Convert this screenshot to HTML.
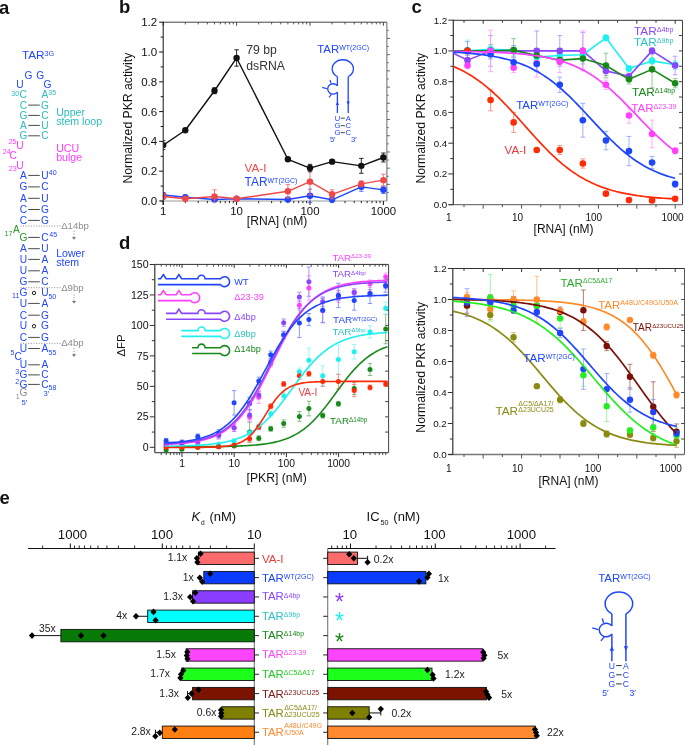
<!DOCTYPE html>
<html><head><meta charset="utf-8"><title>Figure</title>
<style>html,body{margin:0;padding:0;background:#fff;}svg{display:block;}</style></head>
<body><svg width="685" height="745" viewBox="0 0 685 745" font-family='"Liberation Sans", sans-serif'>
<rect width="685" height="745" fill="#fff"/>
<text x="-1" y="14" font-size="18.5" fill="#111" font-weight="bold">a</text>
<text x="21.9" y="59.2" font-size="11.8" fill="#2347ff">TAR<tspan font-size="7.2" dy="-3.34">3G</tspan></text>
<text x="28.5" y="78.9" font-size="10.2" fill="#2347ff" text-anchor="middle">G</text>
<text x="40.3" y="78.9" font-size="10.2" fill="#2347ff" text-anchor="middle">G</text>
<text x="19.9" y="87.7" font-size="10.2" fill="#2347ff" text-anchor="middle">U</text>
<text x="47.4" y="87.7" font-size="10.2" fill="#2347ff" text-anchor="middle">G</text>
<text x="23.2" y="98" font-size="10.2" fill="#2cbcbc" text-anchor="middle">C</text>
<text x="45" y="98" font-size="10.2" fill="#2cbcbc" text-anchor="middle">A</text>
<text x="11.2" y="95.6" font-size="7.1" fill="#2cbcbc">30</text>
<text x="48.3" y="95.2" font-size="7.1" fill="#2cbcbc">35</text>
<text x="23.4" y="108.5" font-size="10.2" fill="#2cbcbc" text-anchor="middle">C</text>
<text x="45" y="108.5" font-size="10.2" fill="#2cbcbc" text-anchor="middle">G</text>
<line x1="28.2" y1="105.1" x2="39.8" y2="105.1" stroke="#4a4a4a" stroke-width="1.0"/>
<text x="23.4" y="118.8" font-size="10.2" fill="#2cbcbc" text-anchor="middle">G</text>
<text x="45" y="118.8" font-size="10.2" fill="#2cbcbc" text-anchor="middle">C</text>
<line x1="28.2" y1="115.4" x2="39.8" y2="115.4" stroke="#4a4a4a" stroke-width="1.0"/>
<text x="23.4" y="128.8" font-size="10.2" fill="#2cbcbc" text-anchor="middle">A</text>
<text x="45" y="128.8" font-size="10.2" fill="#2cbcbc" text-anchor="middle">U</text>
<line x1="28.2" y1="125.4" x2="39.8" y2="125.4" stroke="#4a4a4a" stroke-width="1.0"/>
<text x="23.4" y="139.2" font-size="10.2" fill="#2cbcbc" text-anchor="middle">G</text>
<text x="45" y="139.2" font-size="10.2" fill="#2cbcbc" text-anchor="middle">C</text>
<line x1="28.2" y1="135.8" x2="39.8" y2="135.8" stroke="#4a4a4a" stroke-width="1.0"/>
<text x="56.2" y="115.6" font-size="10.6" fill="#2cbcbc">Upper</text>
<text x="56.2" y="124.6" font-size="10.6" fill="#2cbcbc">stem loop</text>
<text x="20" y="148.6" font-size="10.2" fill="#ff3cff" text-anchor="middle">U</text>
<text x="8.4" y="144" font-size="7.1" fill="#ff3cff">25</text>
<text x="13.3" y="158.9" font-size="10.2" fill="#ff3cff" text-anchor="middle">C</text>
<text x="2.8" y="154.3" font-size="7.1" fill="#ff3cff">24</text>
<text x="20" y="169" font-size="10.2" fill="#ff3cff" text-anchor="middle">U</text>
<text x="8.8" y="171.2" font-size="7.1" fill="#ff3cff">23</text>
<text x="56.2" y="151.9" font-size="10.6" fill="#ff3cff">UCU</text>
<text x="56.2" y="160.6" font-size="10.6" fill="#ff3cff">bulge</text>
<text x="23.4" y="178.8" font-size="10.2" fill="#2347ff" text-anchor="middle">A</text>
<text x="45" y="178.8" font-size="10.2" fill="#2347ff" text-anchor="middle">U</text>
<line x1="28.2" y1="175.4" x2="39.8" y2="175.4" stroke="#4a4a4a" stroke-width="1.0"/>
<text x="23.4" y="190.3" font-size="10.2" fill="#2347ff" text-anchor="middle">G</text>
<text x="45" y="190.3" font-size="10.2" fill="#2347ff" text-anchor="middle">C</text>
<line x1="28.2" y1="186.9" x2="39.8" y2="186.9" stroke="#4a4a4a" stroke-width="1.0"/>
<text x="23.4" y="201.7" font-size="10.2" fill="#2347ff" text-anchor="middle">A</text>
<text x="45" y="201.7" font-size="10.2" fill="#2347ff" text-anchor="middle">U</text>
<line x1="28.2" y1="198.3" x2="39.8" y2="198.3" stroke="#4a4a4a" stroke-width="1.0"/>
<text x="23.4" y="212.9" font-size="10.2" fill="#2347ff" text-anchor="middle">C</text>
<text x="45" y="212.9" font-size="10.2" fill="#2347ff" text-anchor="middle">G</text>
<line x1="28.2" y1="209.5" x2="39.8" y2="209.5" stroke="#4a4a4a" stroke-width="1.0"/>
<text x="23.4" y="223.8" font-size="10.2" fill="#2347ff" text-anchor="middle">C</text>
<text x="45" y="223.8" font-size="10.2" fill="#2347ff" text-anchor="middle">G</text>
<line x1="28.2" y1="220.4" x2="39.8" y2="220.4" stroke="#4a4a4a" stroke-width="1.0"/>
<text x="48.8" y="174.8" font-size="7.1" fill="#2347ff">40</text>
<line x1="20.4" y1="226" x2="61" y2="226" stroke="#777" stroke-width="0.8" stroke-dasharray="1.1 1.5"/>
<text x="61.2" y="229.4" font-size="9.6" fill="#8a8a8a">Δ14bp</text>
<line x1="74" y1="231" x2="74" y2="238.5" stroke="#777" stroke-width="0.8" stroke-dasharray="1.1 1.5"/>
<path d="M71.9,237.2 L74,239.8 L76.1,237.2 Z" fill="#777"/>
<text x="16.4" y="232.8" font-size="10.2" fill="#2a9a28" text-anchor="middle">A</text>
<text x="4.6" y="236.3" font-size="7.1" fill="#2a9a28">17</text>
<text x="23.4" y="240.8" font-size="10.2" fill="#2a9a28" text-anchor="middle">G</text>
<text x="45" y="240.8" font-size="10.2" fill="#2347ff" text-anchor="middle">C</text>
<line x1="28.2" y1="237.4" x2="39.8" y2="237.4" stroke="#4a4a4a" stroke-width="1.0"/>
<text x="49.2" y="237.2" font-size="7.1" fill="#2347ff">45</text>
<text x="23.4" y="252.1" font-size="10.2" fill="#2347ff" text-anchor="middle">A</text>
<text x="45" y="252.1" font-size="10.2" fill="#2347ff" text-anchor="middle">U</text>
<line x1="28.2" y1="248.7" x2="39.8" y2="248.7" stroke="#4a4a4a" stroke-width="1.0"/>
<text x="23.4" y="262.8" font-size="10.2" fill="#2347ff" text-anchor="middle">U</text>
<text x="45" y="262.8" font-size="10.2" fill="#2347ff" text-anchor="middle">A</text>
<line x1="28.2" y1="259.4" x2="39.8" y2="259.4" stroke="#4a4a4a" stroke-width="1.0"/>
<text x="23.4" y="274.2" font-size="10.2" fill="#2347ff" text-anchor="middle">U</text>
<text x="45" y="274.2" font-size="10.2" fill="#2347ff" text-anchor="middle">A</text>
<line x1="28.2" y1="270.8" x2="39.8" y2="270.8" stroke="#4a4a4a" stroke-width="1.0"/>
<text x="23.4" y="285.2" font-size="10.2" fill="#2347ff" text-anchor="middle">G</text>
<text x="45" y="285.2" font-size="10.2" fill="#2347ff" text-anchor="middle">C</text>
<line x1="28.2" y1="281.8" x2="39.8" y2="281.8" stroke="#4a4a4a" stroke-width="1.0"/>
<text x="56.2" y="257.2" font-size="10.6" fill="#2347ff">Lower</text>
<text x="56.2" y="265.8" font-size="10.6" fill="#2347ff">stem</text>
<line x1="20.4" y1="287.7" x2="61" y2="287.7" stroke="#777" stroke-width="0.8" stroke-dasharray="1.1 1.5"/>
<text x="61.2" y="291" font-size="9.6" fill="#8a8a8a">Δ9bp</text>
<line x1="74" y1="294.5" x2="74" y2="302.4" stroke="#777" stroke-width="0.8" stroke-dasharray="1.1 1.5"/>
<path d="M71.9,301.0 L74,303.6 L76.1,301.0 Z" fill="#777"/>
<text x="23.4" y="296.2" font-size="10.2" fill="#2347ff" text-anchor="middle">G</text>
<text x="45" y="296.2" font-size="10.2" fill="#2347ff" text-anchor="middle">U</text>
<circle cx="34" cy="293" r="1.7" fill="none" stroke="#222" stroke-width="1.0"/>
<text x="12" y="298" font-size="7.1" fill="#2347ff">11</text>
<text x="48.4" y="298.6" font-size="7.1" fill="#2347ff">50</text>
<text x="23.4" y="306.8" font-size="10.2" fill="#2347ff" text-anchor="middle">U</text>
<text x="45" y="306.8" font-size="10.2" fill="#2347ff" text-anchor="middle">A</text>
<line x1="28.2" y1="303.4" x2="39.8" y2="303.4" stroke="#4a4a4a" stroke-width="1.0"/>
<text x="23.4" y="318.6" font-size="10.2" fill="#2347ff" text-anchor="middle">C</text>
<text x="45" y="318.6" font-size="10.2" fill="#2347ff" text-anchor="middle">G</text>
<line x1="28.2" y1="315.2" x2="39.8" y2="315.2" stroke="#4a4a4a" stroke-width="1.0"/>
<text x="23.4" y="329.4" font-size="10.2" fill="#2347ff" text-anchor="middle">U</text>
<text x="45" y="329.4" font-size="10.2" fill="#2347ff" text-anchor="middle">G</text>
<circle cx="34" cy="326.2" r="1.7" fill="none" stroke="#222" stroke-width="1.0"/>
<text x="23.4" y="340.8" font-size="10.2" fill="#2347ff" text-anchor="middle">C</text>
<text x="45" y="340.8" font-size="10.2" fill="#2347ff" text-anchor="middle">G</text>
<line x1="28.2" y1="337.4" x2="39.8" y2="337.4" stroke="#4a4a4a" stroke-width="1.0"/>
<line x1="20.4" y1="343.3" x2="61" y2="343.3" stroke="#777" stroke-width="0.8" stroke-dasharray="1.1 1.5"/>
<text x="61.2" y="346.4" font-size="9.6" fill="#8a8a8a">Δ4bp</text>
<line x1="74" y1="348.2" x2="74" y2="355.6" stroke="#777" stroke-width="0.8" stroke-dasharray="1.1 1.5"/>
<path d="M71.9,354.3 L74,356.9 L76.1,354.3 Z" fill="#777"/>
<text x="23.4" y="351.9" font-size="10.2" fill="#2347ff" text-anchor="middle">U</text>
<text x="45" y="351.9" font-size="10.2" fill="#2347ff" text-anchor="middle">A</text>
<line x1="28.2" y1="348.5" x2="39.8" y2="348.5" stroke="#4a4a4a" stroke-width="1.0"/>
<text x="48.6" y="355.4" font-size="7.1" fill="#2347ff">55</text>
<text x="18.2" y="359.9" font-size="10.2" fill="#2347ff" text-anchor="middle">C</text>
<text x="10.4" y="355" font-size="7.1" fill="#2347ff">5</text>
<text x="23.4" y="368.2" font-size="10.2" fill="#2347ff" text-anchor="middle">U</text>
<text x="45" y="368.2" font-size="10.2" fill="#2347ff" text-anchor="middle">A</text>
<line x1="28.2" y1="364.8" x2="39.8" y2="364.8" stroke="#4a4a4a" stroke-width="1.0"/>
<text x="23.4" y="378.3" font-size="10.2" fill="#2347ff" text-anchor="middle">G</text>
<text x="45" y="378.3" font-size="10.2" fill="#2347ff" text-anchor="middle">C</text>
<line x1="28.2" y1="374.9" x2="39.8" y2="374.9" stroke="#4a4a4a" stroke-width="1.0"/>
<text x="23.4" y="387.8" font-size="10.2" fill="#2347ff" text-anchor="middle">G</text>
<text x="45" y="387.8" font-size="10.2" fill="#2347ff" text-anchor="middle">C</text>
<line x1="28.2" y1="384.4" x2="39.8" y2="384.4" stroke="#4a4a4a" stroke-width="1.0"/>
<text x="15.2" y="374" font-size="7.1" fill="#2347ff">3</text>
<text x="15.2" y="383.6" font-size="7.1" fill="#2347ff">2</text>
<text x="48.6" y="389.6" font-size="7.1" fill="#2347ff">58</text>
<text x="23.4" y="396" font-size="10.2" fill="#8a8a8a" text-anchor="middle">G</text>
<text x="15.8" y="399.4" font-size="7.1" fill="#8a8a8a">1</text>
<text x="43.6" y="396" font-size="7.6" fill="#2347ff">3′</text>
<text x="21.5" y="404.6" font-size="7.6" fill="#2347ff">5′</text>
<text x="119" y="13" font-size="18.5" fill="#111" font-weight="bold">b</text>
<line x1="163.2" y1="22.2" x2="386.9" y2="22.2" stroke="#444" stroke-width="1"/>
<line x1="386.9" y1="22.2" x2="386.9" y2="201" stroke="#666" stroke-width="1"/>
<line x1="160" y1="201" x2="386.9" y2="201" stroke="#999" stroke-width="1.2"/>
<line x1="159.2" y1="201" x2="163.2" y2="201" stroke="#111" stroke-width="1"/>
<text x="157.2" y="204.9" font-size="11.5" fill="#111" text-anchor="end">0.0</text>
<line x1="160.7" y1="186.1" x2="163.2" y2="186.1" stroke="#111" stroke-width="1"/>
<line x1="159.2" y1="171.2" x2="163.2" y2="171.2" stroke="#111" stroke-width="1"/>
<text x="157.2" y="175.1" font-size="11.5" fill="#111" text-anchor="end">0.2</text>
<line x1="160.7" y1="156.3" x2="163.2" y2="156.3" stroke="#111" stroke-width="1"/>
<line x1="159.2" y1="141.4" x2="163.2" y2="141.4" stroke="#111" stroke-width="1"/>
<text x="157.2" y="145.3" font-size="11.5" fill="#111" text-anchor="end">0.4</text>
<line x1="160.7" y1="126.5" x2="163.2" y2="126.5" stroke="#111" stroke-width="1"/>
<line x1="159.2" y1="111.6" x2="163.2" y2="111.6" stroke="#111" stroke-width="1"/>
<text x="157.2" y="115.5" font-size="11.5" fill="#111" text-anchor="end">0.6</text>
<line x1="160.7" y1="96.7" x2="163.2" y2="96.7" stroke="#111" stroke-width="1"/>
<line x1="159.2" y1="81.8" x2="163.2" y2="81.8" stroke="#111" stroke-width="1"/>
<text x="157.2" y="85.7" font-size="11.5" fill="#111" text-anchor="end">0.8</text>
<line x1="160.7" y1="66.9" x2="163.2" y2="66.9" stroke="#111" stroke-width="1"/>
<line x1="159.2" y1="52" x2="163.2" y2="52" stroke="#111" stroke-width="1"/>
<text x="157.2" y="55.9" font-size="11.5" fill="#111" text-anchor="end">1.0</text>
<line x1="160.7" y1="37.1" x2="163.2" y2="37.1" stroke="#111" stroke-width="1"/>
<line x1="159.2" y1="22.2" x2="163.2" y2="22.2" stroke="#111" stroke-width="1"/>
<text x="157.2" y="26.1" font-size="11.5" fill="#111" text-anchor="end">1.2</text>
<line x1="163.2" y1="201" x2="163.2" y2="205" stroke="#111" stroke-width="1"/>
<line x1="163.2" y1="22.2" x2="163.2" y2="25.7" stroke="#444" stroke-width="1"/>
<line x1="185.3" y1="201" x2="185.3" y2="203.2" stroke="#111" stroke-width="0.9"/>
<line x1="185.3" y1="22.2" x2="185.3" y2="24.4" stroke="#444" stroke-width="0.9"/>
<line x1="198.22" y1="201" x2="198.22" y2="203.2" stroke="#111" stroke-width="0.9"/>
<line x1="198.22" y1="22.2" x2="198.22" y2="24.4" stroke="#444" stroke-width="0.9"/>
<line x1="207.39" y1="201" x2="207.39" y2="203.2" stroke="#111" stroke-width="0.9"/>
<line x1="207.39" y1="22.2" x2="207.39" y2="24.4" stroke="#444" stroke-width="0.9"/>
<line x1="214.5" y1="201" x2="214.5" y2="203.2" stroke="#111" stroke-width="0.9"/>
<line x1="214.5" y1="22.2" x2="214.5" y2="24.4" stroke="#444" stroke-width="0.9"/>
<line x1="220.32" y1="201" x2="220.32" y2="203.2" stroke="#111" stroke-width="0.9"/>
<line x1="220.32" y1="22.2" x2="220.32" y2="24.4" stroke="#444" stroke-width="0.9"/>
<line x1="225.23" y1="201" x2="225.23" y2="203.2" stroke="#111" stroke-width="0.9"/>
<line x1="225.23" y1="22.2" x2="225.23" y2="24.4" stroke="#444" stroke-width="0.9"/>
<line x1="229.49" y1="201" x2="229.49" y2="203.2" stroke="#111" stroke-width="0.9"/>
<line x1="229.49" y1="22.2" x2="229.49" y2="24.4" stroke="#444" stroke-width="0.9"/>
<line x1="233.24" y1="201" x2="233.24" y2="203.2" stroke="#111" stroke-width="0.9"/>
<line x1="233.24" y1="22.2" x2="233.24" y2="24.4" stroke="#444" stroke-width="0.9"/>
<line x1="236.6" y1="201" x2="236.6" y2="205" stroke="#111" stroke-width="1"/>
<line x1="236.6" y1="22.2" x2="236.6" y2="25.7" stroke="#444" stroke-width="1"/>
<line x1="258.7" y1="201" x2="258.7" y2="203.2" stroke="#111" stroke-width="0.9"/>
<line x1="258.7" y1="22.2" x2="258.7" y2="24.4" stroke="#444" stroke-width="0.9"/>
<line x1="271.62" y1="201" x2="271.62" y2="203.2" stroke="#111" stroke-width="0.9"/>
<line x1="271.62" y1="22.2" x2="271.62" y2="24.4" stroke="#444" stroke-width="0.9"/>
<line x1="280.79" y1="201" x2="280.79" y2="203.2" stroke="#111" stroke-width="0.9"/>
<line x1="280.79" y1="22.2" x2="280.79" y2="24.4" stroke="#444" stroke-width="0.9"/>
<line x1="287.9" y1="201" x2="287.9" y2="203.2" stroke="#111" stroke-width="0.9"/>
<line x1="287.9" y1="22.2" x2="287.9" y2="24.4" stroke="#444" stroke-width="0.9"/>
<line x1="293.72" y1="201" x2="293.72" y2="203.2" stroke="#111" stroke-width="0.9"/>
<line x1="293.72" y1="22.2" x2="293.72" y2="24.4" stroke="#444" stroke-width="0.9"/>
<line x1="298.63" y1="201" x2="298.63" y2="203.2" stroke="#111" stroke-width="0.9"/>
<line x1="298.63" y1="22.2" x2="298.63" y2="24.4" stroke="#444" stroke-width="0.9"/>
<line x1="302.89" y1="201" x2="302.89" y2="203.2" stroke="#111" stroke-width="0.9"/>
<line x1="302.89" y1="22.2" x2="302.89" y2="24.4" stroke="#444" stroke-width="0.9"/>
<line x1="306.64" y1="201" x2="306.64" y2="203.2" stroke="#111" stroke-width="0.9"/>
<line x1="306.64" y1="22.2" x2="306.64" y2="24.4" stroke="#444" stroke-width="0.9"/>
<line x1="310" y1="201" x2="310" y2="205" stroke="#111" stroke-width="1"/>
<line x1="310" y1="22.2" x2="310" y2="25.7" stroke="#444" stroke-width="1"/>
<line x1="332.1" y1="201" x2="332.1" y2="203.2" stroke="#111" stroke-width="0.9"/>
<line x1="332.1" y1="22.2" x2="332.1" y2="24.4" stroke="#444" stroke-width="0.9"/>
<line x1="345.02" y1="201" x2="345.02" y2="203.2" stroke="#111" stroke-width="0.9"/>
<line x1="345.02" y1="22.2" x2="345.02" y2="24.4" stroke="#444" stroke-width="0.9"/>
<line x1="354.19" y1="201" x2="354.19" y2="203.2" stroke="#111" stroke-width="0.9"/>
<line x1="354.19" y1="22.2" x2="354.19" y2="24.4" stroke="#444" stroke-width="0.9"/>
<line x1="361.3" y1="201" x2="361.3" y2="203.2" stroke="#111" stroke-width="0.9"/>
<line x1="361.3" y1="22.2" x2="361.3" y2="24.4" stroke="#444" stroke-width="0.9"/>
<line x1="367.12" y1="201" x2="367.12" y2="203.2" stroke="#111" stroke-width="0.9"/>
<line x1="367.12" y1="22.2" x2="367.12" y2="24.4" stroke="#444" stroke-width="0.9"/>
<line x1="372.03" y1="201" x2="372.03" y2="203.2" stroke="#111" stroke-width="0.9"/>
<line x1="372.03" y1="22.2" x2="372.03" y2="24.4" stroke="#444" stroke-width="0.9"/>
<line x1="376.29" y1="201" x2="376.29" y2="203.2" stroke="#111" stroke-width="0.9"/>
<line x1="376.29" y1="22.2" x2="376.29" y2="24.4" stroke="#444" stroke-width="0.9"/>
<line x1="380.04" y1="201" x2="380.04" y2="203.2" stroke="#111" stroke-width="0.9"/>
<line x1="380.04" y1="22.2" x2="380.04" y2="24.4" stroke="#444" stroke-width="0.9"/>
<line x1="383.4" y1="201" x2="383.4" y2="205" stroke="#111" stroke-width="1"/>
<line x1="383.4" y1="22.2" x2="383.4" y2="25.7" stroke="#444" stroke-width="1"/>
<text x="163.2" y="215" font-size="11.4" fill="#111" text-anchor="middle">1</text>
<text x="236.6" y="215" font-size="11.4" fill="#111" text-anchor="middle">10</text>
<text x="310" y="215" font-size="11.4" fill="#111" text-anchor="middle">100</text>
<text x="383.4" y="215" font-size="11.4" fill="#111" text-anchor="middle">1000</text>
<line x1="386.9" y1="30.31" x2="388.7" y2="30.31" stroke="#666" stroke-width="1"/>
<line x1="386.9" y1="38.42" x2="389.9" y2="38.42" stroke="#666" stroke-width="1"/>
<line x1="386.9" y1="46.53" x2="388.7" y2="46.53" stroke="#666" stroke-width="1"/>
<line x1="386.9" y1="54.64" x2="389.9" y2="54.64" stroke="#666" stroke-width="1"/>
<line x1="386.9" y1="62.75" x2="388.7" y2="62.75" stroke="#666" stroke-width="1"/>
<line x1="386.9" y1="70.86" x2="389.9" y2="70.86" stroke="#666" stroke-width="1"/>
<line x1="386.9" y1="78.97" x2="388.7" y2="78.97" stroke="#666" stroke-width="1"/>
<line x1="386.9" y1="87.08" x2="389.9" y2="87.08" stroke="#666" stroke-width="1"/>
<line x1="386.9" y1="95.19" x2="388.7" y2="95.19" stroke="#666" stroke-width="1"/>
<line x1="386.9" y1="103.3" x2="389.9" y2="103.3" stroke="#666" stroke-width="1"/>
<line x1="386.9" y1="111.41" x2="388.7" y2="111.41" stroke="#666" stroke-width="1"/>
<line x1="386.9" y1="119.52" x2="389.9" y2="119.52" stroke="#666" stroke-width="1"/>
<line x1="386.9" y1="127.63" x2="388.7" y2="127.63" stroke="#666" stroke-width="1"/>
<line x1="386.9" y1="135.74" x2="389.9" y2="135.74" stroke="#666" stroke-width="1"/>
<line x1="386.9" y1="143.85" x2="388.7" y2="143.85" stroke="#666" stroke-width="1"/>
<line x1="386.9" y1="151.96" x2="389.9" y2="151.96" stroke="#666" stroke-width="1"/>
<line x1="386.9" y1="160.07" x2="388.7" y2="160.07" stroke="#666" stroke-width="1"/>
<line x1="386.9" y1="168.18" x2="389.9" y2="168.18" stroke="#666" stroke-width="1"/>
<line x1="386.9" y1="176.29" x2="388.7" y2="176.29" stroke="#666" stroke-width="1"/>
<line x1="386.9" y1="184.4" x2="389.9" y2="184.4" stroke="#666" stroke-width="1"/>
<line x1="386.9" y1="192.51" x2="388.7" y2="192.51" stroke="#666" stroke-width="1"/>
<text x="277.1" y="225.2" font-size="12.1" fill="#111" text-anchor="middle">[RNA] (nM)</text>
<text x="132" y="118.1" font-size="12.2" fill="#111" text-anchor="middle" transform="rotate(-90 132 118.1)">Normalized PKR activity</text>
<clipPath id="cb"><rect x="163.6" y="0" width="224" height="203"/></clipPath><g clip-path="url(#cb)">
<line x1="163.2" y1="193.55" x2="163.2" y2="196.53" stroke="#4a6aff" stroke-width="0.9"/>
<line x1="161" y1="193.55" x2="165.4" y2="193.55" stroke="#4a6aff" stroke-width="0.9"/>
<line x1="161" y1="196.53" x2="165.4" y2="196.53" stroke="#4a6aff" stroke-width="0.9"/>
<line x1="185.3" y1="195.78" x2="185.3" y2="198.76" stroke="#4a6aff" stroke-width="0.9"/>
<line x1="183.1" y1="195.78" x2="187.5" y2="195.78" stroke="#4a6aff" stroke-width="0.9"/>
<line x1="183.1" y1="198.76" x2="187.5" y2="198.76" stroke="#4a6aff" stroke-width="0.9"/>
<line x1="214.5" y1="198.02" x2="214.5" y2="201" stroke="#4a6aff" stroke-width="0.9"/>
<line x1="212.3" y1="198.02" x2="216.7" y2="198.02" stroke="#4a6aff" stroke-width="0.9"/>
<line x1="212.3" y1="201" x2="216.7" y2="201" stroke="#4a6aff" stroke-width="0.9"/>
<line x1="236.6" y1="198.02" x2="236.6" y2="199.51" stroke="#4a6aff" stroke-width="0.9"/>
<line x1="234.4" y1="198.02" x2="238.8" y2="198.02" stroke="#4a6aff" stroke-width="0.9"/>
<line x1="234.4" y1="199.51" x2="238.8" y2="199.51" stroke="#4a6aff" stroke-width="0.9"/>
<line x1="287.9" y1="198.02" x2="287.9" y2="201" stroke="#4a6aff" stroke-width="0.9"/>
<line x1="285.7" y1="198.02" x2="290.1" y2="198.02" stroke="#4a6aff" stroke-width="0.9"/>
<line x1="285.7" y1="201" x2="290.1" y2="201" stroke="#4a6aff" stroke-width="0.9"/>
<line x1="310" y1="189.08" x2="310" y2="202.49" stroke="#4a6aff" stroke-width="0.9"/>
<line x1="307.8" y1="189.08" x2="312.2" y2="189.08" stroke="#4a6aff" stroke-width="0.9"/>
<line x1="307.8" y1="202.49" x2="312.2" y2="202.49" stroke="#4a6aff" stroke-width="0.9"/>
<line x1="332.1" y1="198.91" x2="332.1" y2="200.7" stroke="#4a6aff" stroke-width="0.9"/>
<line x1="329.9" y1="198.91" x2="334.3" y2="198.91" stroke="#4a6aff" stroke-width="0.9"/>
<line x1="329.9" y1="200.7" x2="334.3" y2="200.7" stroke="#4a6aff" stroke-width="0.9"/>
<line x1="361.3" y1="182.38" x2="361.3" y2="191.31" stroke="#4a6aff" stroke-width="0.9"/>
<line x1="359.1" y1="182.38" x2="363.5" y2="182.38" stroke="#4a6aff" stroke-width="0.9"/>
<line x1="359.1" y1="191.31" x2="363.5" y2="191.31" stroke="#4a6aff" stroke-width="0.9"/>
<line x1="383.4" y1="186.1" x2="383.4" y2="193.55" stroke="#4a6aff" stroke-width="0.9"/>
<line x1="381.2" y1="186.1" x2="385.6" y2="186.1" stroke="#4a6aff" stroke-width="0.9"/>
<line x1="381.2" y1="193.55" x2="385.6" y2="193.55" stroke="#4a6aff" stroke-width="0.9"/>
<polyline points="163.2,195.04 185.3,197.28 214.5,199.51 236.6,198.76 287.9,199.51 310,195.78 332.1,199.81 361.3,186.84 383.4,189.82" fill="none" stroke="#1f45ff" stroke-width="1.4" stroke-linejoin="round"/>
<circle cx="163.2" cy="195.04" r="3.2" fill="#1f45ff"/>
<circle cx="185.3" cy="197.28" r="3.2" fill="#1f45ff"/>
<circle cx="214.5" cy="199.51" r="3.2" fill="#1f45ff"/>
<circle cx="236.6" cy="198.76" r="3.2" fill="#1f45ff"/>
<circle cx="287.9" cy="199.51" r="3.2" fill="#1f45ff"/>
<circle cx="310" cy="195.78" r="3.2" fill="#1f45ff"/>
<circle cx="332.1" cy="199.81" r="3.2" fill="#1f45ff"/>
<circle cx="361.3" cy="186.84" r="3.2" fill="#1f45ff"/>
<circle cx="383.4" cy="189.82" r="3.2" fill="#1f45ff"/>
<line x1="163.2" y1="193.55" x2="163.2" y2="199.51" stroke="#f46a6a" stroke-width="0.9"/>
<line x1="161" y1="193.55" x2="165.4" y2="193.55" stroke="#f46a6a" stroke-width="0.9"/>
<line x1="161" y1="199.51" x2="165.4" y2="199.51" stroke="#f46a6a" stroke-width="0.9"/>
<line x1="185.3" y1="197.28" x2="185.3" y2="200.25" stroke="#f46a6a" stroke-width="0.9"/>
<line x1="183.1" y1="197.28" x2="187.5" y2="197.28" stroke="#f46a6a" stroke-width="0.9"/>
<line x1="183.1" y1="200.25" x2="187.5" y2="200.25" stroke="#f46a6a" stroke-width="0.9"/>
<line x1="214.5" y1="189.82" x2="214.5" y2="203.24" stroke="#f46a6a" stroke-width="0.9"/>
<line x1="212.3" y1="189.82" x2="216.7" y2="189.82" stroke="#f46a6a" stroke-width="0.9"/>
<line x1="212.3" y1="203.24" x2="216.7" y2="203.24" stroke="#f46a6a" stroke-width="0.9"/>
<line x1="236.6" y1="197.28" x2="236.6" y2="200.25" stroke="#f46a6a" stroke-width="0.9"/>
<line x1="234.4" y1="197.28" x2="238.8" y2="197.28" stroke="#f46a6a" stroke-width="0.9"/>
<line x1="234.4" y1="200.25" x2="238.8" y2="200.25" stroke="#f46a6a" stroke-width="0.9"/>
<line x1="287.9" y1="184.61" x2="287.9" y2="198.02" stroke="#f46a6a" stroke-width="0.9"/>
<line x1="285.7" y1="184.61" x2="290.1" y2="184.61" stroke="#f46a6a" stroke-width="0.9"/>
<line x1="285.7" y1="198.02" x2="290.1" y2="198.02" stroke="#f46a6a" stroke-width="0.9"/>
<line x1="310" y1="168.22" x2="310" y2="195.04" stroke="#f46a6a" stroke-width="0.9"/>
<line x1="307.8" y1="168.22" x2="312.2" y2="168.22" stroke="#f46a6a" stroke-width="0.9"/>
<line x1="307.8" y1="195.04" x2="312.2" y2="195.04" stroke="#f46a6a" stroke-width="0.9"/>
<line x1="332.1" y1="189.82" x2="332.1" y2="198.76" stroke="#f46a6a" stroke-width="0.9"/>
<line x1="329.9" y1="189.82" x2="334.3" y2="189.82" stroke="#f46a6a" stroke-width="0.9"/>
<line x1="329.9" y1="198.76" x2="334.3" y2="198.76" stroke="#f46a6a" stroke-width="0.9"/>
<line x1="361.3" y1="180.88" x2="361.3" y2="186.84" stroke="#f46a6a" stroke-width="0.9"/>
<line x1="359.1" y1="180.88" x2="363.5" y2="180.88" stroke="#f46a6a" stroke-width="0.9"/>
<line x1="359.1" y1="186.84" x2="363.5" y2="186.84" stroke="#f46a6a" stroke-width="0.9"/>
<line x1="383.4" y1="174.18" x2="383.4" y2="186.1" stroke="#f46a6a" stroke-width="0.9"/>
<line x1="381.2" y1="174.18" x2="385.6" y2="174.18" stroke="#f46a6a" stroke-width="0.9"/>
<line x1="381.2" y1="186.1" x2="385.6" y2="186.1" stroke="#f46a6a" stroke-width="0.9"/>
<polyline points="163.2,196.53 185.3,198.76 214.5,196.53 236.6,198.76 287.9,191.31 310,181.63 332.1,194.29 361.3,183.87 383.4,180.14" fill="none" stroke="#f04848" stroke-width="1.4" stroke-linejoin="round"/>
<circle cx="163.2" cy="196.53" r="3.2" fill="#f04848"/>
<circle cx="185.3" cy="198.76" r="3.2" fill="#f04848"/>
<circle cx="214.5" cy="196.53" r="3.2" fill="#f04848"/>
<circle cx="236.6" cy="198.76" r="3.2" fill="#f04848"/>
<circle cx="287.9" cy="191.31" r="3.2" fill="#f04848"/>
<circle cx="310" cy="181.63" r="3.2" fill="#f04848"/>
<circle cx="332.1" cy="194.29" r="3.2" fill="#f04848"/>
<circle cx="361.3" cy="183.87" r="3.2" fill="#f04848"/>
<circle cx="383.4" cy="180.14" r="3.2" fill="#f04848"/>
<line x1="163.2" y1="140.66" x2="163.2" y2="149.59" stroke="#111" stroke-width="0.9"/>
<line x1="161" y1="140.66" x2="165.4" y2="140.66" stroke="#111" stroke-width="0.9"/>
<line x1="161" y1="149.59" x2="165.4" y2="149.59" stroke="#111" stroke-width="0.9"/>
<line x1="214.5" y1="87.76" x2="214.5" y2="93.72" stroke="#111" stroke-width="0.9"/>
<line x1="212.3" y1="87.76" x2="216.7" y2="87.76" stroke="#111" stroke-width="0.9"/>
<line x1="212.3" y1="93.72" x2="216.7" y2="93.72" stroke="#111" stroke-width="0.9"/>
<line x1="236.6" y1="49.77" x2="236.6" y2="66.16" stroke="#111" stroke-width="0.9"/>
<line x1="234.4" y1="49.77" x2="238.8" y2="49.77" stroke="#111" stroke-width="0.9"/>
<line x1="234.4" y1="66.16" x2="238.8" y2="66.16" stroke="#111" stroke-width="0.9"/>
<line x1="287.9" y1="157.49" x2="287.9" y2="161.07" stroke="#111" stroke-width="0.9"/>
<line x1="285.7" y1="157.49" x2="290.1" y2="157.49" stroke="#111" stroke-width="0.9"/>
<line x1="285.7" y1="161.07" x2="290.1" y2="161.07" stroke="#111" stroke-width="0.9"/>
<line x1="310" y1="164.35" x2="310" y2="171.8" stroke="#111" stroke-width="0.9"/>
<line x1="307.8" y1="164.35" x2="312.2" y2="164.35" stroke="#111" stroke-width="0.9"/>
<line x1="307.8" y1="171.8" x2="312.2" y2="171.8" stroke="#111" stroke-width="0.9"/>
<line x1="332.1" y1="159.88" x2="332.1" y2="163.45" stroke="#111" stroke-width="0.9"/>
<line x1="329.9" y1="159.88" x2="334.3" y2="159.88" stroke="#111" stroke-width="0.9"/>
<line x1="329.9" y1="163.45" x2="334.3" y2="163.45" stroke="#111" stroke-width="0.9"/>
<line x1="361.3" y1="158.39" x2="361.3" y2="173.29" stroke="#111" stroke-width="0.9"/>
<line x1="359.1" y1="158.39" x2="363.5" y2="158.39" stroke="#111" stroke-width="0.9"/>
<line x1="359.1" y1="173.29" x2="363.5" y2="173.29" stroke="#111" stroke-width="0.9"/>
<line x1="383.4" y1="153.02" x2="383.4" y2="161.96" stroke="#111" stroke-width="0.9"/>
<line x1="381.2" y1="153.02" x2="385.6" y2="153.02" stroke="#111" stroke-width="0.9"/>
<line x1="381.2" y1="161.96" x2="385.6" y2="161.96" stroke="#111" stroke-width="0.9"/>
<polyline points="163.2,145.12 185.3,130.23 214.5,90.74 236.6,57.96 287.9,159.28 310,168.07 332.1,161.66 361.3,165.84 383.4,157.49" fill="none" stroke="#111" stroke-width="1.4" stroke-linejoin="round"/>
<circle cx="163.2" cy="145.12" r="3.2" fill="#111"/>
<circle cx="185.3" cy="130.23" r="3.2" fill="#111"/>
<circle cx="214.5" cy="90.74" r="3.2" fill="#111"/>
<circle cx="236.6" cy="57.96" r="3.2" fill="#111"/>
<circle cx="287.9" cy="159.28" r="3.2" fill="#111"/>
<circle cx="310" cy="168.07" r="3.2" fill="#111"/>
<circle cx="332.1" cy="161.66" r="3.2" fill="#111"/>
<circle cx="361.3" cy="165.84" r="3.2" fill="#111"/>
<circle cx="383.4" cy="157.49" r="3.2" fill="#111"/>
</g>
<line x1="163.2" y1="21.7" x2="163.2" y2="205" stroke="#111" stroke-width="1.0"/>
<text x="246.3" y="53.6" font-size="12.2" fill="#333">79 bp</text>
<text x="246.3" y="69.8" font-size="12.2" fill="#333">dsRNA</text>
<text x="244.6" y="172.2" font-size="11.7" fill="#f04848">VA-I</text>
<text x="244.6" y="185.7" font-size="11.9" fill="#1f45ff">TAR<tspan font-size="7.0" dy="-2.69">WT(2GC)</tspan></text>
<text x="317.2" y="53" font-size="11.4" fill="#1f45ff">TAR<tspan font-size="7.0" dy="-2.79">WT(2GC)</tspan></text>
<path d="M337.4,76.5 A10.6,9 0 1 1 348.2,76.5" fill="none" stroke="#1f45ff" stroke-width="1.3"/>
<line x1="337.4" y1="76.5" x2="337.4" y2="85.8" stroke="#1f45ff" stroke-width="1.3"/>
<path d="M337.4,85.8 A5.4,5.2 0 1 0 337.4,92.1" fill="none" stroke="#1f45ff" stroke-width="1.3"/>
<line x1="337.4" y1="92.1" x2="337.4" y2="113" stroke="#1f45ff" stroke-width="1.3"/>
<line x1="348.2" y1="76.5" x2="348.2" y2="113" stroke="#1f45ff" stroke-width="1.3"/>
<line x1="330" y1="80" x2="331" y2="83.4" stroke="#1f45ff" stroke-width="1.1700000000000002"/>
<line x1="322.3" y1="87.4" x2="327" y2="88.7" stroke="#1f45ff" stroke-width="1.1700000000000002"/>
<line x1="329" y1="97.4" x2="331.5" y2="94.2" stroke="#1f45ff" stroke-width="1.1700000000000002"/>
<path d="M337.4,101.5 L335.7,104.9 L339.1,104.9 Z" fill="#1f45ff"/>
<path d="M348.2,104.9 L346.5,101.5 L349.9,101.5 Z" fill="#1f45ff"/>
<text x="337.4" y="120.9" font-size="7.6" fill="#1f45ff" text-anchor="middle">U</text>
<text x="348.2" y="120.9" font-size="7.6" fill="#1f45ff" text-anchor="middle">A</text>
<line x1="340.7" y1="118.16" x2="344.9" y2="118.16" stroke="#333" stroke-width="0.9"/>
<text x="337.4" y="128.4" font-size="7.6" fill="#1f45ff" text-anchor="middle">G</text>
<text x="348.2" y="128.4" font-size="7.6" fill="#1f45ff" text-anchor="middle">C</text>
<line x1="340.7" y1="125.66" x2="344.9" y2="125.66" stroke="#333" stroke-width="0.9"/>
<text x="337.4" y="135.4" font-size="7.6" fill="#1f45ff" text-anchor="middle">G</text>
<text x="348.2" y="135.4" font-size="7.6" fill="#1f45ff" text-anchor="middle">C</text>
<line x1="340.7" y1="132.66" x2="344.9" y2="132.66" stroke="#333" stroke-width="0.9"/>
<text x="329.9" y="142.3" font-size="7.6" fill="#1f45ff">5′</text>
<text x="351" y="142.3" font-size="7.6" fill="#1f45ff">3′</text>
<text x="411.5" y="13" font-size="18.5" fill="#111" font-weight="bold">c</text>
<line x1="453.3" y1="20.3" x2="682.5" y2="20.3" stroke="#333" stroke-width="1"/>
<line x1="682.5" y1="20.3" x2="682.5" y2="204.7" stroke="#444" stroke-width="1"/>
<line x1="448.8" y1="204.7" x2="682.5" y2="204.7" stroke="#777" stroke-width="1.3"/>
<line x1="453.3" y1="19.8" x2="453.3" y2="204.7" stroke="#333" stroke-width="1.2"/>
<line x1="448.3" y1="204.7" x2="453.3" y2="204.7" stroke="#333" stroke-width="1"/>
<text x="447.3" y="208.1" font-size="9.8" fill="#111" text-anchor="end">0.0</text>
<line x1="450.3" y1="189.32" x2="453.3" y2="189.32" stroke="#333" stroke-width="1"/>
<line x1="679" y1="189.32" x2="682.5" y2="189.32" stroke="#444" stroke-width="1"/>
<line x1="448.3" y1="173.94" x2="453.3" y2="173.94" stroke="#333" stroke-width="1"/>
<text x="447.3" y="177.34" font-size="9.8" fill="#111" text-anchor="end">0.2</text>
<line x1="679" y1="173.94" x2="682.5" y2="173.94" stroke="#444" stroke-width="1"/>
<line x1="450.3" y1="158.56" x2="453.3" y2="158.56" stroke="#333" stroke-width="1"/>
<line x1="679" y1="158.56" x2="682.5" y2="158.56" stroke="#444" stroke-width="1"/>
<line x1="448.3" y1="143.18" x2="453.3" y2="143.18" stroke="#333" stroke-width="1"/>
<text x="447.3" y="146.58" font-size="9.8" fill="#111" text-anchor="end">0.4</text>
<line x1="679" y1="143.18" x2="682.5" y2="143.18" stroke="#444" stroke-width="1"/>
<line x1="450.3" y1="127.8" x2="453.3" y2="127.8" stroke="#333" stroke-width="1"/>
<line x1="679" y1="127.8" x2="682.5" y2="127.8" stroke="#444" stroke-width="1"/>
<line x1="448.3" y1="112.42" x2="453.3" y2="112.42" stroke="#333" stroke-width="1"/>
<text x="447.3" y="115.82" font-size="9.8" fill="#111" text-anchor="end">0.6</text>
<line x1="679" y1="112.42" x2="682.5" y2="112.42" stroke="#444" stroke-width="1"/>
<line x1="450.3" y1="97.04" x2="453.3" y2="97.04" stroke="#333" stroke-width="1"/>
<line x1="679" y1="97.04" x2="682.5" y2="97.04" stroke="#444" stroke-width="1"/>
<line x1="448.3" y1="81.66" x2="453.3" y2="81.66" stroke="#333" stroke-width="1"/>
<text x="447.3" y="85.06" font-size="9.8" fill="#111" text-anchor="end">0.8</text>
<line x1="679" y1="81.66" x2="682.5" y2="81.66" stroke="#444" stroke-width="1"/>
<line x1="450.3" y1="66.28" x2="453.3" y2="66.28" stroke="#333" stroke-width="1"/>
<line x1="679" y1="66.28" x2="682.5" y2="66.28" stroke="#444" stroke-width="1"/>
<line x1="448.3" y1="50.9" x2="453.3" y2="50.9" stroke="#333" stroke-width="1"/>
<text x="447.3" y="54.3" font-size="9.8" fill="#111" text-anchor="end">1.0</text>
<line x1="679" y1="50.9" x2="682.5" y2="50.9" stroke="#444" stroke-width="1"/>
<line x1="450.3" y1="35.52" x2="453.3" y2="35.52" stroke="#333" stroke-width="1"/>
<line x1="679" y1="35.52" x2="682.5" y2="35.52" stroke="#444" stroke-width="1"/>
<line x1="448.3" y1="20.14" x2="453.3" y2="20.14" stroke="#333" stroke-width="1"/>
<text x="447.3" y="23.54" font-size="9.8" fill="#111" text-anchor="end">1.2</text>
<line x1="464" y1="204.7" x2="464" y2="207.2" stroke="#555" stroke-width="1"/>
<line x1="464" y1="20.3" x2="464" y2="22.8" stroke="#333" stroke-width="1"/>
<line x1="483.2" y1="204.7" x2="483.2" y2="208.7" stroke="#555" stroke-width="1"/>
<line x1="483.2" y1="20.3" x2="483.2" y2="23.8" stroke="#333" stroke-width="1"/>
<line x1="502.4" y1="204.7" x2="502.4" y2="207.2" stroke="#555" stroke-width="1"/>
<line x1="502.4" y1="20.3" x2="502.4" y2="22.8" stroke="#333" stroke-width="1"/>
<line x1="521.6" y1="204.7" x2="521.6" y2="208.7" stroke="#555" stroke-width="1"/>
<line x1="521.6" y1="20.3" x2="521.6" y2="23.8" stroke="#333" stroke-width="1"/>
<line x1="540.8" y1="204.7" x2="540.8" y2="207.2" stroke="#555" stroke-width="1"/>
<line x1="540.8" y1="20.3" x2="540.8" y2="22.8" stroke="#333" stroke-width="1"/>
<line x1="560" y1="204.7" x2="560" y2="208.7" stroke="#555" stroke-width="1"/>
<line x1="560" y1="20.3" x2="560" y2="23.8" stroke="#333" stroke-width="1"/>
<line x1="579.2" y1="204.7" x2="579.2" y2="207.2" stroke="#555" stroke-width="1"/>
<line x1="579.2" y1="20.3" x2="579.2" y2="22.8" stroke="#333" stroke-width="1"/>
<line x1="598.4" y1="204.7" x2="598.4" y2="208.7" stroke="#555" stroke-width="1"/>
<line x1="598.4" y1="20.3" x2="598.4" y2="23.8" stroke="#333" stroke-width="1"/>
<line x1="617.6" y1="204.7" x2="617.6" y2="207.2" stroke="#555" stroke-width="1"/>
<line x1="617.6" y1="20.3" x2="617.6" y2="22.8" stroke="#333" stroke-width="1"/>
<line x1="636.8" y1="204.7" x2="636.8" y2="208.7" stroke="#555" stroke-width="1"/>
<line x1="636.8" y1="20.3" x2="636.8" y2="23.8" stroke="#333" stroke-width="1"/>
<line x1="656" y1="204.7" x2="656" y2="207.2" stroke="#555" stroke-width="1"/>
<line x1="656" y1="20.3" x2="656" y2="22.8" stroke="#333" stroke-width="1"/>
<line x1="675.2" y1="204.7" x2="675.2" y2="208.7" stroke="#555" stroke-width="1"/>
<line x1="675.2" y1="20.3" x2="675.2" y2="23.8" stroke="#333" stroke-width="1"/>
<text x="448.7" y="220.8" font-size="10.0" fill="#111" text-anchor="middle">1</text>
<text x="517.6" y="220.8" font-size="10.0" fill="#111" text-anchor="middle">10</text>
<text x="593.8" y="220.8" font-size="10.0" fill="#111" text-anchor="middle">100</text>
<text x="672.5" y="220.8" font-size="10.0" fill="#111" text-anchor="middle">1000</text>
<text x="563.6" y="232.9" font-size="12.0" fill="#111" text-anchor="middle">[RNA] (nM)</text>
<text x="425.3" y="118.2" font-size="12.2" fill="#111" text-anchor="middle" transform="rotate(-90 425.3 118.2)">Normalized PKR activity</text>
<line x1="467.5" y1="40.13" x2="467.5" y2="61.67" stroke="#7af5f5" stroke-width="0.8"/>
<line x1="465.1" y1="40.13" x2="469.9" y2="40.13" stroke="#7af5f5" stroke-width="0.8"/>
<line x1="465.1" y1="61.67" x2="469.9" y2="61.67" stroke="#7af5f5" stroke-width="0.8"/>
<line x1="490.57" y1="44.75" x2="490.57" y2="53.98" stroke="#7af5f5" stroke-width="0.8"/>
<line x1="488.17" y1="44.75" x2="492.97" y2="44.75" stroke="#7af5f5" stroke-width="0.8"/>
<line x1="488.17" y1="53.98" x2="492.97" y2="53.98" stroke="#7af5f5" stroke-width="0.8"/>
<line x1="513.64" y1="45.52" x2="513.64" y2="54.75" stroke="#7af5f5" stroke-width="0.8"/>
<line x1="511.24" y1="45.52" x2="516.04" y2="45.52" stroke="#7af5f5" stroke-width="0.8"/>
<line x1="511.24" y1="54.75" x2="516.04" y2="54.75" stroke="#7af5f5" stroke-width="0.8"/>
<line x1="536.71" y1="50.9" x2="536.71" y2="63.2" stroke="#7af5f5" stroke-width="0.8"/>
<line x1="534.31" y1="50.9" x2="539.11" y2="50.9" stroke="#7af5f5" stroke-width="0.8"/>
<line x1="534.31" y1="63.2" x2="539.11" y2="63.2" stroke="#7af5f5" stroke-width="0.8"/>
<line x1="559.78" y1="50.9" x2="559.78" y2="60.13" stroke="#7af5f5" stroke-width="0.8"/>
<line x1="557.38" y1="50.9" x2="562.18" y2="50.9" stroke="#7af5f5" stroke-width="0.8"/>
<line x1="557.38" y1="60.13" x2="562.18" y2="60.13" stroke="#7af5f5" stroke-width="0.8"/>
<line x1="582.85" y1="51.67" x2="582.85" y2="57.82" stroke="#7af5f5" stroke-width="0.8"/>
<line x1="580.45" y1="51.67" x2="585.25" y2="51.67" stroke="#7af5f5" stroke-width="0.8"/>
<line x1="580.45" y1="57.82" x2="585.25" y2="57.82" stroke="#7af5f5" stroke-width="0.8"/>
<line x1="605.92" y1="34.75" x2="605.92" y2="40.9" stroke="#7af5f5" stroke-width="0.8"/>
<line x1="603.52" y1="34.75" x2="608.32" y2="34.75" stroke="#7af5f5" stroke-width="0.8"/>
<line x1="603.52" y1="40.9" x2="608.32" y2="40.9" stroke="#7af5f5" stroke-width="0.8"/>
<line x1="628.99" y1="65.51" x2="628.99" y2="71.66" stroke="#7af5f5" stroke-width="0.8"/>
<line x1="626.59" y1="65.51" x2="631.39" y2="65.51" stroke="#7af5f5" stroke-width="0.8"/>
<line x1="626.59" y1="71.66" x2="631.39" y2="71.66" stroke="#7af5f5" stroke-width="0.8"/>
<line x1="652.06" y1="57.82" x2="652.06" y2="63.97" stroke="#7af5f5" stroke-width="0.8"/>
<line x1="649.66" y1="57.82" x2="654.46" y2="57.82" stroke="#7af5f5" stroke-width="0.8"/>
<line x1="649.66" y1="63.97" x2="654.46" y2="63.97" stroke="#7af5f5" stroke-width="0.8"/>
<line x1="675.13" y1="60.13" x2="675.13" y2="69.36" stroke="#7af5f5" stroke-width="0.8"/>
<line x1="672.73" y1="60.13" x2="677.53" y2="60.13" stroke="#7af5f5" stroke-width="0.8"/>
<line x1="672.73" y1="69.36" x2="677.53" y2="69.36" stroke="#7af5f5" stroke-width="0.8"/>
<line x1="467.5" y1="55.51" x2="467.5" y2="64.74" stroke="#b08aff" stroke-width="0.8"/>
<line x1="465.1" y1="55.51" x2="469.9" y2="55.51" stroke="#b08aff" stroke-width="0.8"/>
<line x1="465.1" y1="64.74" x2="469.9" y2="64.74" stroke="#b08aff" stroke-width="0.8"/>
<line x1="490.57" y1="35.52" x2="490.57" y2="66.28" stroke="#b08aff" stroke-width="0.8"/>
<line x1="488.17" y1="35.52" x2="492.97" y2="35.52" stroke="#b08aff" stroke-width="0.8"/>
<line x1="488.17" y1="66.28" x2="492.97" y2="66.28" stroke="#b08aff" stroke-width="0.8"/>
<line x1="513.64" y1="45.52" x2="513.64" y2="56.28" stroke="#b08aff" stroke-width="0.8"/>
<line x1="511.24" y1="45.52" x2="516.04" y2="45.52" stroke="#b08aff" stroke-width="0.8"/>
<line x1="511.24" y1="56.28" x2="516.04" y2="56.28" stroke="#b08aff" stroke-width="0.8"/>
<line x1="536.71" y1="30.91" x2="536.71" y2="70.89" stroke="#b08aff" stroke-width="0.8"/>
<line x1="534.31" y1="30.91" x2="539.11" y2="30.91" stroke="#b08aff" stroke-width="0.8"/>
<line x1="534.31" y1="70.89" x2="539.11" y2="70.89" stroke="#b08aff" stroke-width="0.8"/>
<line x1="559.78" y1="35.52" x2="559.78" y2="66.28" stroke="#b08aff" stroke-width="0.8"/>
<line x1="557.38" y1="35.52" x2="562.18" y2="35.52" stroke="#b08aff" stroke-width="0.8"/>
<line x1="557.38" y1="66.28" x2="562.18" y2="66.28" stroke="#b08aff" stroke-width="0.8"/>
<line x1="582.85" y1="32.44" x2="582.85" y2="69.36" stroke="#b08aff" stroke-width="0.8"/>
<line x1="580.45" y1="32.44" x2="585.25" y2="32.44" stroke="#b08aff" stroke-width="0.8"/>
<line x1="580.45" y1="69.36" x2="585.25" y2="69.36" stroke="#b08aff" stroke-width="0.8"/>
<line x1="605.92" y1="66.28" x2="605.92" y2="75.51" stroke="#b08aff" stroke-width="0.8"/>
<line x1="603.52" y1="66.28" x2="608.32" y2="66.28" stroke="#b08aff" stroke-width="0.8"/>
<line x1="603.52" y1="75.51" x2="608.32" y2="75.51" stroke="#b08aff" stroke-width="0.8"/>
<line x1="628.99" y1="73.2" x2="628.99" y2="79.35" stroke="#b08aff" stroke-width="0.8"/>
<line x1="626.59" y1="73.2" x2="631.39" y2="73.2" stroke="#b08aff" stroke-width="0.8"/>
<line x1="626.59" y1="79.35" x2="631.39" y2="79.35" stroke="#b08aff" stroke-width="0.8"/>
<line x1="652.06" y1="47.82" x2="652.06" y2="53.98" stroke="#b08aff" stroke-width="0.8"/>
<line x1="649.66" y1="47.82" x2="654.46" y2="47.82" stroke="#b08aff" stroke-width="0.8"/>
<line x1="649.66" y1="53.98" x2="654.46" y2="53.98" stroke="#b08aff" stroke-width="0.8"/>
<line x1="675.13" y1="56.28" x2="675.13" y2="74.74" stroke="#b08aff" stroke-width="0.8"/>
<line x1="672.73" y1="56.28" x2="677.53" y2="56.28" stroke="#b08aff" stroke-width="0.8"/>
<line x1="672.73" y1="74.74" x2="677.53" y2="74.74" stroke="#b08aff" stroke-width="0.8"/>
<line x1="467.5" y1="47.82" x2="467.5" y2="53.98" stroke="#7abd7a" stroke-width="0.8"/>
<line x1="465.1" y1="47.82" x2="469.9" y2="47.82" stroke="#7abd7a" stroke-width="0.8"/>
<line x1="465.1" y1="53.98" x2="469.9" y2="53.98" stroke="#7abd7a" stroke-width="0.8"/>
<line x1="490.57" y1="44.75" x2="490.57" y2="57.05" stroke="#7abd7a" stroke-width="0.8"/>
<line x1="488.17" y1="44.75" x2="492.97" y2="44.75" stroke="#7abd7a" stroke-width="0.8"/>
<line x1="488.17" y1="57.05" x2="492.97" y2="57.05" stroke="#7abd7a" stroke-width="0.8"/>
<line x1="513.64" y1="38.6" x2="513.64" y2="61.67" stroke="#7abd7a" stroke-width="0.8"/>
<line x1="511.24" y1="38.6" x2="516.04" y2="38.6" stroke="#7abd7a" stroke-width="0.8"/>
<line x1="511.24" y1="61.67" x2="516.04" y2="61.67" stroke="#7abd7a" stroke-width="0.8"/>
<line x1="536.71" y1="50.9" x2="536.71" y2="60.13" stroke="#7abd7a" stroke-width="0.8"/>
<line x1="534.31" y1="50.9" x2="539.11" y2="50.9" stroke="#7abd7a" stroke-width="0.8"/>
<line x1="534.31" y1="60.13" x2="539.11" y2="60.13" stroke="#7abd7a" stroke-width="0.8"/>
<line x1="559.78" y1="55.51" x2="559.78" y2="64.74" stroke="#7abd7a" stroke-width="0.8"/>
<line x1="557.38" y1="55.51" x2="562.18" y2="55.51" stroke="#7abd7a" stroke-width="0.8"/>
<line x1="557.38" y1="64.74" x2="562.18" y2="64.74" stroke="#7abd7a" stroke-width="0.8"/>
<line x1="582.85" y1="53.21" x2="582.85" y2="63.97" stroke="#7abd7a" stroke-width="0.8"/>
<line x1="580.45" y1="53.21" x2="585.25" y2="53.21" stroke="#7abd7a" stroke-width="0.8"/>
<line x1="580.45" y1="63.97" x2="585.25" y2="63.97" stroke="#7abd7a" stroke-width="0.8"/>
<line x1="605.92" y1="53.21" x2="605.92" y2="77.81" stroke="#7abd7a" stroke-width="0.8"/>
<line x1="603.52" y1="53.21" x2="608.32" y2="53.21" stroke="#7abd7a" stroke-width="0.8"/>
<line x1="603.52" y1="77.81" x2="608.32" y2="77.81" stroke="#7abd7a" stroke-width="0.8"/>
<line x1="628.99" y1="74.74" x2="628.99" y2="83.97" stroke="#7abd7a" stroke-width="0.8"/>
<line x1="626.59" y1="74.74" x2="631.39" y2="74.74" stroke="#7abd7a" stroke-width="0.8"/>
<line x1="626.59" y1="83.97" x2="631.39" y2="83.97" stroke="#7abd7a" stroke-width="0.8"/>
<line x1="652.06" y1="50.9" x2="652.06" y2="87.81" stroke="#7abd7a" stroke-width="0.8"/>
<line x1="649.66" y1="50.9" x2="654.46" y2="50.9" stroke="#7abd7a" stroke-width="0.8"/>
<line x1="649.66" y1="87.81" x2="654.46" y2="87.81" stroke="#7abd7a" stroke-width="0.8"/>
<line x1="675.13" y1="78.58" x2="675.13" y2="87.81" stroke="#7abd7a" stroke-width="0.8"/>
<line x1="672.73" y1="78.58" x2="677.53" y2="78.58" stroke="#7abd7a" stroke-width="0.8"/>
<line x1="672.73" y1="87.81" x2="677.53" y2="87.81" stroke="#7abd7a" stroke-width="0.8"/>
<line x1="467.5" y1="62.43" x2="467.5" y2="68.59" stroke="#ff9aff" stroke-width="0.8"/>
<line x1="465.1" y1="62.43" x2="469.9" y2="62.43" stroke="#ff9aff" stroke-width="0.8"/>
<line x1="465.1" y1="68.59" x2="469.9" y2="68.59" stroke="#ff9aff" stroke-width="0.8"/>
<line x1="490.57" y1="30.14" x2="490.57" y2="71.66" stroke="#ff9aff" stroke-width="0.8"/>
<line x1="488.17" y1="30.14" x2="492.97" y2="30.14" stroke="#ff9aff" stroke-width="0.8"/>
<line x1="488.17" y1="71.66" x2="492.97" y2="71.66" stroke="#ff9aff" stroke-width="0.8"/>
<line x1="513.64" y1="63.2" x2="513.64" y2="72.43" stroke="#ff9aff" stroke-width="0.8"/>
<line x1="511.24" y1="63.2" x2="516.04" y2="63.2" stroke="#ff9aff" stroke-width="0.8"/>
<line x1="511.24" y1="72.43" x2="516.04" y2="72.43" stroke="#ff9aff" stroke-width="0.8"/>
<line x1="536.71" y1="49.36" x2="536.71" y2="77.05" stroke="#ff9aff" stroke-width="0.8"/>
<line x1="534.31" y1="49.36" x2="539.11" y2="49.36" stroke="#ff9aff" stroke-width="0.8"/>
<line x1="534.31" y1="77.05" x2="539.11" y2="77.05" stroke="#ff9aff" stroke-width="0.8"/>
<line x1="559.78" y1="50.9" x2="559.78" y2="72.43" stroke="#ff9aff" stroke-width="0.8"/>
<line x1="557.38" y1="50.9" x2="562.18" y2="50.9" stroke="#ff9aff" stroke-width="0.8"/>
<line x1="557.38" y1="72.43" x2="562.18" y2="72.43" stroke="#ff9aff" stroke-width="0.8"/>
<line x1="582.85" y1="30.91" x2="582.85" y2="70.89" stroke="#ff9aff" stroke-width="0.8"/>
<line x1="580.45" y1="30.91" x2="585.25" y2="30.91" stroke="#ff9aff" stroke-width="0.8"/>
<line x1="580.45" y1="70.89" x2="585.25" y2="70.89" stroke="#ff9aff" stroke-width="0.8"/>
<line x1="605.92" y1="80.12" x2="605.92" y2="89.35" stroke="#ff9aff" stroke-width="0.8"/>
<line x1="603.52" y1="80.12" x2="608.32" y2="80.12" stroke="#ff9aff" stroke-width="0.8"/>
<line x1="603.52" y1="89.35" x2="608.32" y2="89.35" stroke="#ff9aff" stroke-width="0.8"/>
<line x1="628.99" y1="107.81" x2="628.99" y2="123.19" stroke="#ff9aff" stroke-width="0.8"/>
<line x1="626.59" y1="107.81" x2="631.39" y2="107.81" stroke="#ff9aff" stroke-width="0.8"/>
<line x1="626.59" y1="123.19" x2="631.39" y2="123.19" stroke="#ff9aff" stroke-width="0.8"/>
<line x1="652.06" y1="120.11" x2="652.06" y2="147.79" stroke="#ff9aff" stroke-width="0.8"/>
<line x1="649.66" y1="120.11" x2="654.46" y2="120.11" stroke="#ff9aff" stroke-width="0.8"/>
<line x1="649.66" y1="147.79" x2="654.46" y2="147.79" stroke="#ff9aff" stroke-width="0.8"/>
<line x1="675.13" y1="147.79" x2="675.13" y2="153.95" stroke="#ff9aff" stroke-width="0.8"/>
<line x1="672.73" y1="147.79" x2="677.53" y2="147.79" stroke="#ff9aff" stroke-width="0.8"/>
<line x1="672.73" y1="153.95" x2="677.53" y2="153.95" stroke="#ff9aff" stroke-width="0.8"/>
<line x1="467.5" y1="41.67" x2="467.5" y2="60.13" stroke="#8a9aff" stroke-width="0.8"/>
<line x1="465.1" y1="41.67" x2="469.9" y2="41.67" stroke="#8a9aff" stroke-width="0.8"/>
<line x1="465.1" y1="60.13" x2="469.9" y2="60.13" stroke="#8a9aff" stroke-width="0.8"/>
<line x1="490.57" y1="49.67" x2="490.57" y2="58.9" stroke="#8a9aff" stroke-width="0.8"/>
<line x1="488.17" y1="49.67" x2="492.97" y2="49.67" stroke="#8a9aff" stroke-width="0.8"/>
<line x1="488.17" y1="58.9" x2="492.97" y2="58.9" stroke="#8a9aff" stroke-width="0.8"/>
<line x1="513.64" y1="57.67" x2="513.64" y2="66.9" stroke="#8a9aff" stroke-width="0.8"/>
<line x1="511.24" y1="57.67" x2="516.04" y2="57.67" stroke="#8a9aff" stroke-width="0.8"/>
<line x1="511.24" y1="66.9" x2="516.04" y2="66.9" stroke="#8a9aff" stroke-width="0.8"/>
<line x1="536.71" y1="56.28" x2="536.71" y2="71.66" stroke="#8a9aff" stroke-width="0.8"/>
<line x1="534.31" y1="56.28" x2="539.11" y2="56.28" stroke="#8a9aff" stroke-width="0.8"/>
<line x1="534.31" y1="71.66" x2="539.11" y2="71.66" stroke="#8a9aff" stroke-width="0.8"/>
<line x1="559.78" y1="77.05" x2="559.78" y2="92.43" stroke="#8a9aff" stroke-width="0.8"/>
<line x1="557.38" y1="77.05" x2="562.18" y2="77.05" stroke="#8a9aff" stroke-width="0.8"/>
<line x1="557.38" y1="92.43" x2="562.18" y2="92.43" stroke="#8a9aff" stroke-width="0.8"/>
<line x1="582.85" y1="103.35" x2="582.85" y2="137.18" stroke="#8a9aff" stroke-width="0.8"/>
<line x1="580.45" y1="103.35" x2="585.25" y2="103.35" stroke="#8a9aff" stroke-width="0.8"/>
<line x1="580.45" y1="137.18" x2="585.25" y2="137.18" stroke="#8a9aff" stroke-width="0.8"/>
<line x1="605.92" y1="131.34" x2="605.92" y2="149.79" stroke="#8a9aff" stroke-width="0.8"/>
<line x1="603.52" y1="131.34" x2="608.32" y2="131.34" stroke="#8a9aff" stroke-width="0.8"/>
<line x1="603.52" y1="149.79" x2="608.32" y2="149.79" stroke="#8a9aff" stroke-width="0.8"/>
<line x1="628.99" y1="136.41" x2="628.99" y2="165.63" stroke="#8a9aff" stroke-width="0.8"/>
<line x1="626.59" y1="136.41" x2="631.39" y2="136.41" stroke="#8a9aff" stroke-width="0.8"/>
<line x1="626.59" y1="165.63" x2="631.39" y2="165.63" stroke="#8a9aff" stroke-width="0.8"/>
<line x1="652.06" y1="156.41" x2="652.06" y2="168.71" stroke="#8a9aff" stroke-width="0.8"/>
<line x1="649.66" y1="156.41" x2="654.46" y2="156.41" stroke="#8a9aff" stroke-width="0.8"/>
<line x1="649.66" y1="168.71" x2="654.46" y2="168.71" stroke="#8a9aff" stroke-width="0.8"/>
<line x1="675.13" y1="181.01" x2="675.13" y2="187.17" stroke="#8a9aff" stroke-width="0.8"/>
<line x1="672.73" y1="181.01" x2="677.53" y2="181.01" stroke="#8a9aff" stroke-width="0.8"/>
<line x1="672.73" y1="187.17" x2="677.53" y2="187.17" stroke="#8a9aff" stroke-width="0.8"/>
<line x1="490.57" y1="89.35" x2="490.57" y2="110.88" stroke="#f88070" stroke-width="0.8"/>
<line x1="488.17" y1="89.35" x2="492.97" y2="89.35" stroke="#f88070" stroke-width="0.8"/>
<line x1="488.17" y1="110.88" x2="492.97" y2="110.88" stroke="#f88070" stroke-width="0.8"/>
<line x1="513.64" y1="112.42" x2="513.64" y2="132.41" stroke="#f88070" stroke-width="0.8"/>
<line x1="511.24" y1="112.42" x2="516.04" y2="112.42" stroke="#f88070" stroke-width="0.8"/>
<line x1="511.24" y1="132.41" x2="516.04" y2="132.41" stroke="#f88070" stroke-width="0.8"/>
<line x1="559.78" y1="145.33" x2="559.78" y2="154.56" stroke="#f88070" stroke-width="0.8"/>
<line x1="557.38" y1="145.33" x2="562.18" y2="145.33" stroke="#f88070" stroke-width="0.8"/>
<line x1="557.38" y1="154.56" x2="562.18" y2="154.56" stroke="#f88070" stroke-width="0.8"/>
<line x1="582.85" y1="158.87" x2="582.85" y2="168.1" stroke="#f88070" stroke-width="0.8"/>
<line x1="580.45" y1="158.87" x2="585.25" y2="158.87" stroke="#f88070" stroke-width="0.8"/>
<line x1="580.45" y1="168.1" x2="585.25" y2="168.1" stroke="#f88070" stroke-width="0.8"/>
<polyline points="453.3,50.9 467.5,50.9 490.57,49.36 513.64,50.13 536.71,57.05 559.78,55.51 582.85,54.74 605.92,37.83 628.99,68.59 652.06,60.9 675.13,64.74" fill="none" stroke="#1ef0f0" stroke-width="1.6" stroke-linejoin="round"/>
<polyline points="453.3,53.21 467.5,60.13 490.57,50.9 513.64,50.9 536.71,50.9 559.78,50.9 582.85,50.9 605.92,70.89 628.99,76.28 652.06,50.9 675.13,65.51" fill="none" stroke="#8a46ff" stroke-width="1.6" stroke-linejoin="round"/>
<polyline points="453.3,50.9 467.5,50.9 490.57,50.9 513.64,50.13 536.71,55.51 559.78,60.13 582.85,58.59 605.92,65.51 628.99,79.35 652.06,69.36 675.13,83.2" fill="none" stroke="#17891a" stroke-width="1.6" stroke-linejoin="round"/>
<circle cx="467.5" cy="50.9" r="3.3" fill="#1ef0f0"/>
<circle cx="490.57" cy="49.36" r="3.3" fill="#1ef0f0"/>
<circle cx="513.64" cy="50.13" r="3.3" fill="#1ef0f0"/>
<circle cx="536.71" cy="57.05" r="3.3" fill="#1ef0f0"/>
<circle cx="559.78" cy="55.51" r="3.3" fill="#1ef0f0"/>
<circle cx="582.85" cy="54.74" r="3.3" fill="#1ef0f0"/>
<circle cx="605.92" cy="37.83" r="3.3" fill="#1ef0f0"/>
<circle cx="628.99" cy="68.59" r="3.3" fill="#1ef0f0"/>
<circle cx="652.06" cy="60.9" r="3.3" fill="#1ef0f0"/>
<circle cx="675.13" cy="64.74" r="3.3" fill="#1ef0f0"/>
<circle cx="467.5" cy="60.13" r="3.3" fill="#8a46ff"/>
<circle cx="490.57" cy="50.9" r="3.3" fill="#8a46ff"/>
<circle cx="513.64" cy="50.9" r="3.3" fill="#8a46ff"/>
<circle cx="536.71" cy="50.9" r="3.3" fill="#8a46ff"/>
<circle cx="559.78" cy="50.9" r="3.3" fill="#8a46ff"/>
<circle cx="582.85" cy="50.9" r="3.3" fill="#8a46ff"/>
<circle cx="605.92" cy="70.89" r="3.3" fill="#8a46ff"/>
<circle cx="628.99" cy="76.28" r="3.3" fill="#8a46ff"/>
<circle cx="652.06" cy="50.9" r="3.3" fill="#8a46ff"/>
<circle cx="675.13" cy="65.51" r="3.3" fill="#8a46ff"/>
<circle cx="467.5" cy="50.9" r="3.3" fill="#17891a"/>
<circle cx="490.57" cy="50.9" r="3.3" fill="#17891a"/>
<circle cx="513.64" cy="50.13" r="3.3" fill="#17891a"/>
<circle cx="536.71" cy="55.51" r="3.3" fill="#17891a"/>
<circle cx="559.78" cy="60.13" r="3.3" fill="#17891a"/>
<circle cx="582.85" cy="58.59" r="3.3" fill="#17891a"/>
<circle cx="605.92" cy="65.51" r="3.3" fill="#17891a"/>
<circle cx="628.99" cy="79.35" r="3.3" fill="#17891a"/>
<circle cx="652.06" cy="69.36" r="3.3" fill="#17891a"/>
<circle cx="675.13" cy="83.2" r="3.3" fill="#17891a"/>
<circle cx="467.5" cy="65.51" r="3.3" fill="#ff40ff"/>
<circle cx="490.57" cy="50.9" r="3.3" fill="#ff40ff"/>
<circle cx="513.64" cy="67.82" r="3.3" fill="#ff40ff"/>
<circle cx="536.71" cy="63.2" r="3.3" fill="#ff40ff"/>
<circle cx="559.78" cy="61.67" r="3.3" fill="#ff40ff"/>
<circle cx="582.85" cy="50.9" r="3.3" fill="#ff40ff"/>
<circle cx="605.92" cy="84.74" r="3.3" fill="#ff40ff"/>
<circle cx="628.99" cy="115.5" r="3.3" fill="#ff40ff"/>
<circle cx="652.06" cy="133.95" r="3.3" fill="#ff40ff"/>
<circle cx="675.13" cy="150.87" r="3.3" fill="#ff40ff"/>
<circle cx="467.5" cy="50.9" r="3.3" fill="#1f45ff"/>
<circle cx="490.57" cy="54.28" r="3.3" fill="#1f45ff"/>
<circle cx="513.64" cy="62.28" r="3.3" fill="#1f45ff"/>
<circle cx="536.71" cy="63.97" r="3.3" fill="#1f45ff"/>
<circle cx="559.78" cy="84.74" r="3.3" fill="#1f45ff"/>
<circle cx="582.85" cy="120.26" r="3.3" fill="#1f45ff"/>
<circle cx="605.92" cy="140.57" r="3.3" fill="#1f45ff"/>
<circle cx="628.99" cy="151.02" r="3.3" fill="#1f45ff"/>
<circle cx="652.06" cy="162.56" r="3.3" fill="#1f45ff"/>
<circle cx="675.13" cy="184.09" r="3.3" fill="#1f45ff"/>
<circle cx="467.5" cy="50.9" r="3.3" fill="#ff2a06"/>
<circle cx="490.57" cy="100.12" r="3.3" fill="#ff2a06"/>
<circle cx="513.64" cy="122.42" r="3.3" fill="#ff2a06"/>
<circle cx="536.71" cy="149.95" r="3.3" fill="#ff2a06"/>
<circle cx="559.78" cy="149.95" r="3.3" fill="#ff2a06"/>
<circle cx="582.85" cy="163.48" r="3.3" fill="#ff2a06"/>
<circle cx="605.92" cy="193.63" r="3.3" fill="#ff2a06"/>
<circle cx="628.99" cy="200.09" r="3.3" fill="#ff2a06"/>
<circle cx="652.06" cy="200.39" r="3.3" fill="#ff2a06"/>
<circle cx="675.13" cy="198.86" r="3.3" fill="#ff2a06"/>
<polyline points="453.3,51.41 456.11,51.44 458.92,51.47 461.72,51.51 464.53,51.55 467.34,51.59 470.15,51.64 472.96,51.69 475.76,51.75 478.57,51.81 481.38,51.88 484.19,51.96 487,52.04 489.8,52.13 492.61,52.23 495.42,52.34 498.23,52.46 501.04,52.59 503.84,52.73 506.65,52.89 509.46,53.06 512.27,53.25 515.08,53.45 517.88,53.68 520.69,53.92 523.5,54.18 526.31,54.47 529.12,54.79 531.92,55.13 534.73,55.51 537.54,55.92 540.35,56.37 543.16,56.85 545.96,57.38 548.77,57.95 551.58,58.57 554.39,59.25 557.2,59.98 560,60.77 562.81,61.62 565.62,62.54 568.43,63.54 571.23,64.61 574.04,65.76 576.85,67 579.66,68.32 582.47,69.74 585.27,71.25 588.08,72.86 590.89,74.57 593.7,76.39 596.51,78.31 599.31,80.33 602.12,82.46 604.93,84.68 607.74,87.01 610.55,89.44 613.35,91.95 616.16,94.55 618.97,97.23 621.78,99.98 624.59,102.8 627.39,105.66 630.2,108.56 633.01,111.49 635.82,114.44 638.63,117.39 641.43,120.33 644.24,123.25 647.05,126.14 649.86,128.99 652.67,131.78 655.47,134.5 658.28,137.16 661.09,139.73 663.9,142.21 666.71,144.6 669.51,146.89 672.32,149.08 675.13,151.17" fill="none" stroke="#ff40ff" stroke-width="1.7" stroke-linejoin="round"/>
<polyline points="453.3,52.12 456.11,52.28 458.92,52.45 461.72,52.64 464.53,52.85 467.34,53.07 470.15,53.31 472.96,53.58 475.76,53.87 478.57,54.18 481.38,54.52 484.19,54.89 487,55.3 489.8,55.73 492.61,56.21 495.42,56.72 498.23,57.28 501.04,57.89 503.84,58.55 506.65,59.25 509.46,60.02 512.27,60.85 515.08,61.74 517.88,62.7 520.69,63.74 523.5,64.85 526.31,66.04 529.12,67.32 531.92,68.68 534.73,70.14 537.54,71.69 540.35,73.35 543.16,75.1 545.96,76.95 548.77,78.91 551.58,80.97 554.39,83.14 557.2,85.41 560,87.78 562.81,90.25 565.62,92.81 568.43,95.46 571.23,98.19 574.04,101 576.85,103.87 579.66,106.79 582.47,109.77 585.27,112.78 588.08,115.81 590.89,118.85 593.7,121.89 596.51,124.93 599.31,127.93 602.12,130.9 604.93,133.83 607.74,136.69 610.55,139.5 613.35,142.22 616.16,144.87 618.97,147.42 621.78,149.88 624.59,152.25 627.39,154.51 630.2,156.67 633.01,158.73 635.82,160.68 638.63,162.53 641.43,164.27 644.24,165.92 647.05,167.46 649.86,168.92 652.67,170.28 655.47,171.55 658.28,172.73 661.09,173.84 663.9,174.87 666.71,175.83 669.51,176.72 672.32,177.54 675.13,178.3" fill="none" stroke="#1f45ff" stroke-width="1.7" stroke-linejoin="round"/>
<polyline points="453.3,66.41 456.11,67.63 458.92,68.93 461.72,70.32 464.53,71.8 467.34,73.37 470.15,75.04 472.96,76.8 475.76,78.67 478.57,80.63 481.38,82.7 484.19,84.87 487,87.15 489.8,89.53 492.61,92 495.42,94.57 498.23,97.23 501.04,99.98 503.84,102.81 506.65,105.72 509.46,108.69 512.27,111.72 515.08,114.79 517.88,117.91 520.69,121.05 523.5,124.2 526.31,127.37 529.12,130.52 531.92,133.66 534.73,136.77 537.54,139.84 540.35,142.87 543.16,145.83 545.96,148.73 548.77,151.55 551.58,154.29 554.39,156.95 557.2,159.51 560,161.98 562.81,164.35 565.62,166.61 568.43,168.77 571.23,170.83 574.04,172.79 576.85,174.65 579.66,176.41 582.47,178.06 585.27,179.63 588.08,181.1 590.89,182.48 593.7,183.77 596.51,184.99 599.31,186.12 602.12,187.18 604.93,188.17 607.74,189.09 610.55,189.95 613.35,190.74 616.16,191.49 618.97,192.17 621.78,192.81 624.59,193.4 627.39,193.95 630.2,194.46 633.01,194.92 635.82,195.36 638.63,195.76 641.43,196.13 644.24,196.47 647.05,196.79 649.86,197.08 652.67,197.35 655.47,197.59 658.28,197.82 661.09,198.03 663.9,198.23 666.71,198.41 669.51,198.57 672.32,198.72 675.13,198.86" fill="none" stroke="#ff2a06" stroke-width="1.7" stroke-linejoin="round"/>
<text x="634" y="35" font-size="11.8" fill="#8a46ff">TAR<tspan font-size="7.15" dy="-2.78">Δ4bp</tspan></text>
<text x="634" y="46.1" font-size="11.8" fill="#2bc4c4">TAR<tspan font-size="7.15" dy="-2.98">Δ9bp</tspan></text>
<text x="632.1" y="95.7" font-size="11.8" fill="#17891a">TAR<tspan font-size="7.05" dy="-2.55">Δ14bp</tspan></text>
<text x="631.2" y="111.8" font-size="11.6" fill="#ff40ff">TAR<tspan font-size="7.1" dy="-3.02">Δ23-39</tspan></text>
<text x="516.2" y="108.7" font-size="11.5" fill="#1f45ff">TAR<tspan font-size="7.0" dy="-2.99">WT(2GC)</tspan></text>
<text x="504.6" y="153.6" font-size="11.6" fill="#e8383f">VA-I</text>
<line x1="452.8" y1="268.5" x2="684.6" y2="268.5" stroke="#333" stroke-width="1"/>
<line x1="684.6" y1="268.5" x2="684.6" y2="454.5" stroke="#444" stroke-width="1"/>
<line x1="448.3" y1="454.5" x2="684.6" y2="454.5" stroke="#777" stroke-width="1.3"/>
<line x1="452.8" y1="268" x2="452.8" y2="454.5" stroke="#333" stroke-width="1.2"/>
<line x1="447.8" y1="454.5" x2="452.8" y2="454.5" stroke="#333" stroke-width="1"/>
<text x="446.8" y="457.9" font-size="9.8" fill="#111" text-anchor="end">0.0</text>
<line x1="449.8" y1="439" x2="452.8" y2="439" stroke="#333" stroke-width="1"/>
<line x1="681.1" y1="439" x2="684.6" y2="439" stroke="#444" stroke-width="1"/>
<line x1="447.8" y1="423.5" x2="452.8" y2="423.5" stroke="#333" stroke-width="1"/>
<text x="446.8" y="426.9" font-size="9.8" fill="#111" text-anchor="end">0.2</text>
<line x1="681.1" y1="423.5" x2="684.6" y2="423.5" stroke="#444" stroke-width="1"/>
<line x1="449.8" y1="408" x2="452.8" y2="408" stroke="#333" stroke-width="1"/>
<line x1="681.1" y1="408" x2="684.6" y2="408" stroke="#444" stroke-width="1"/>
<line x1="447.8" y1="392.5" x2="452.8" y2="392.5" stroke="#333" stroke-width="1"/>
<text x="446.8" y="395.9" font-size="9.8" fill="#111" text-anchor="end">0.4</text>
<line x1="681.1" y1="392.5" x2="684.6" y2="392.5" stroke="#444" stroke-width="1"/>
<line x1="449.8" y1="377" x2="452.8" y2="377" stroke="#333" stroke-width="1"/>
<line x1="681.1" y1="377" x2="684.6" y2="377" stroke="#444" stroke-width="1"/>
<line x1="447.8" y1="361.5" x2="452.8" y2="361.5" stroke="#333" stroke-width="1"/>
<text x="446.8" y="364.9" font-size="9.8" fill="#111" text-anchor="end">0.6</text>
<line x1="681.1" y1="361.5" x2="684.6" y2="361.5" stroke="#444" stroke-width="1"/>
<line x1="449.8" y1="346" x2="452.8" y2="346" stroke="#333" stroke-width="1"/>
<line x1="681.1" y1="346" x2="684.6" y2="346" stroke="#444" stroke-width="1"/>
<line x1="447.8" y1="330.5" x2="452.8" y2="330.5" stroke="#333" stroke-width="1"/>
<text x="446.8" y="333.9" font-size="9.8" fill="#111" text-anchor="end">0.8</text>
<line x1="681.1" y1="330.5" x2="684.6" y2="330.5" stroke="#444" stroke-width="1"/>
<line x1="449.8" y1="315" x2="452.8" y2="315" stroke="#333" stroke-width="1"/>
<line x1="681.1" y1="315" x2="684.6" y2="315" stroke="#444" stroke-width="1"/>
<line x1="447.8" y1="299.5" x2="452.8" y2="299.5" stroke="#333" stroke-width="1"/>
<text x="446.8" y="302.9" font-size="9.8" fill="#111" text-anchor="end">1.0</text>
<line x1="681.1" y1="299.5" x2="684.6" y2="299.5" stroke="#444" stroke-width="1"/>
<line x1="449.8" y1="284" x2="452.8" y2="284" stroke="#333" stroke-width="1"/>
<line x1="681.1" y1="284" x2="684.6" y2="284" stroke="#444" stroke-width="1"/>
<line x1="447.8" y1="268.5" x2="452.8" y2="268.5" stroke="#333" stroke-width="1"/>
<text x="446.8" y="271.9" font-size="9.8" fill="#111" text-anchor="end">1.2</text>
<line x1="464" y1="454.5" x2="464" y2="457" stroke="#555" stroke-width="1"/>
<line x1="464" y1="268.5" x2="464" y2="271" stroke="#333" stroke-width="1"/>
<line x1="483.2" y1="454.5" x2="483.2" y2="458.5" stroke="#555" stroke-width="1"/>
<line x1="483.2" y1="268.5" x2="483.2" y2="272" stroke="#333" stroke-width="1"/>
<line x1="502.4" y1="454.5" x2="502.4" y2="457" stroke="#555" stroke-width="1"/>
<line x1="502.4" y1="268.5" x2="502.4" y2="271" stroke="#333" stroke-width="1"/>
<line x1="521.6" y1="454.5" x2="521.6" y2="458.5" stroke="#555" stroke-width="1"/>
<line x1="521.6" y1="268.5" x2="521.6" y2="272" stroke="#333" stroke-width="1"/>
<line x1="540.8" y1="454.5" x2="540.8" y2="457" stroke="#555" stroke-width="1"/>
<line x1="540.8" y1="268.5" x2="540.8" y2="271" stroke="#333" stroke-width="1"/>
<line x1="560" y1="454.5" x2="560" y2="458.5" stroke="#555" stroke-width="1"/>
<line x1="560" y1="268.5" x2="560" y2="272" stroke="#333" stroke-width="1"/>
<line x1="579.2" y1="454.5" x2="579.2" y2="457" stroke="#555" stroke-width="1"/>
<line x1="579.2" y1="268.5" x2="579.2" y2="271" stroke="#333" stroke-width="1"/>
<line x1="598.4" y1="454.5" x2="598.4" y2="458.5" stroke="#555" stroke-width="1"/>
<line x1="598.4" y1="268.5" x2="598.4" y2="272" stroke="#333" stroke-width="1"/>
<line x1="617.6" y1="454.5" x2="617.6" y2="457" stroke="#555" stroke-width="1"/>
<line x1="617.6" y1="268.5" x2="617.6" y2="271" stroke="#333" stroke-width="1"/>
<line x1="636.8" y1="454.5" x2="636.8" y2="458.5" stroke="#555" stroke-width="1"/>
<line x1="636.8" y1="268.5" x2="636.8" y2="272" stroke="#333" stroke-width="1"/>
<line x1="656" y1="454.5" x2="656" y2="457" stroke="#555" stroke-width="1"/>
<line x1="656" y1="268.5" x2="656" y2="271" stroke="#333" stroke-width="1"/>
<line x1="675.2" y1="454.5" x2="675.2" y2="458.5" stroke="#555" stroke-width="1"/>
<line x1="675.2" y1="268.5" x2="675.2" y2="272" stroke="#333" stroke-width="1"/>
<text x="448.7" y="471.6" font-size="10.0" fill="#111" text-anchor="middle">1</text>
<text x="517.6" y="471.6" font-size="10.0" fill="#111" text-anchor="middle">10</text>
<text x="593.1" y="471.6" font-size="10.0" fill="#111" text-anchor="middle">100</text>
<text x="670.7" y="471.6" font-size="10.0" fill="#111" text-anchor="middle">1000</text>
<text x="568.5" y="485.1" font-size="12.0" fill="#111" text-anchor="middle">[RNA] (nM)</text>
<text x="425.3" y="367.3" font-size="12.2" fill="#111" text-anchor="middle" transform="rotate(-90 425.3 367.3)">Normalized PKR activity</text>
<line x1="490.28" y1="310.35" x2="490.28" y2="319.65" stroke="#b8b860" stroke-width="0.8"/>
<line x1="487.88" y1="310.35" x2="492.68" y2="310.35" stroke="#b8b860" stroke-width="0.8"/>
<line x1="487.88" y1="319.65" x2="492.68" y2="319.65" stroke="#b8b860" stroke-width="0.8"/>
<line x1="513.56" y1="332.67" x2="513.56" y2="341.97" stroke="#b8b860" stroke-width="0.8"/>
<line x1="511.16" y1="332.67" x2="515.96" y2="332.67" stroke="#b8b860" stroke-width="0.8"/>
<line x1="511.16" y1="341.97" x2="515.96" y2="341.97" stroke="#b8b860" stroke-width="0.8"/>
<line x1="560.12" y1="396.69" x2="560.12" y2="402.88" stroke="#b8b860" stroke-width="0.8"/>
<line x1="557.72" y1="396.69" x2="562.52" y2="396.69" stroke="#b8b860" stroke-width="0.8"/>
<line x1="557.72" y1="402.88" x2="562.52" y2="402.88" stroke="#b8b860" stroke-width="0.8"/>
<line x1="583.4" y1="420.4" x2="583.4" y2="426.6" stroke="#b8b860" stroke-width="0.8"/>
<line x1="581" y1="420.4" x2="585.8" y2="420.4" stroke="#b8b860" stroke-width="0.8"/>
<line x1="581" y1="426.6" x2="585.8" y2="426.6" stroke="#b8b860" stroke-width="0.8"/>
<line x1="606.68" y1="430.94" x2="606.68" y2="437.14" stroke="#b8b860" stroke-width="0.8"/>
<line x1="604.28" y1="430.94" x2="609.08" y2="430.94" stroke="#b8b860" stroke-width="0.8"/>
<line x1="604.28" y1="437.14" x2="609.08" y2="437.14" stroke="#b8b860" stroke-width="0.8"/>
<line x1="653.24" y1="434.81" x2="653.24" y2="441.01" stroke="#b8b860" stroke-width="0.8"/>
<line x1="650.84" y1="434.81" x2="655.64" y2="434.81" stroke="#b8b860" stroke-width="0.8"/>
<line x1="650.84" y1="441.01" x2="655.64" y2="441.01" stroke="#b8b860" stroke-width="0.8"/>
<line x1="676.52" y1="434.97" x2="676.52" y2="447.37" stroke="#b8b860" stroke-width="0.8"/>
<line x1="674.12" y1="434.97" x2="678.92" y2="434.97" stroke="#b8b860" stroke-width="0.8"/>
<line x1="674.12" y1="447.37" x2="678.92" y2="447.37" stroke="#b8b860" stroke-width="0.8"/>
<line x1="467" y1="297.64" x2="467" y2="313.14" stroke="#a85a50" stroke-width="0.8"/>
<line x1="464.6" y1="297.64" x2="469.4" y2="297.64" stroke="#a85a50" stroke-width="0.8"/>
<line x1="464.6" y1="313.14" x2="469.4" y2="313.14" stroke="#a85a50" stroke-width="0.8"/>
<line x1="490.28" y1="294.85" x2="490.28" y2="304.15" stroke="#a85a50" stroke-width="0.8"/>
<line x1="487.88" y1="294.85" x2="492.68" y2="294.85" stroke="#a85a50" stroke-width="0.8"/>
<line x1="487.88" y1="304.15" x2="492.68" y2="304.15" stroke="#a85a50" stroke-width="0.8"/>
<line x1="513.56" y1="296.4" x2="513.56" y2="305.7" stroke="#a85a50" stroke-width="0.8"/>
<line x1="511.16" y1="296.4" x2="515.96" y2="296.4" stroke="#a85a50" stroke-width="0.8"/>
<line x1="511.16" y1="305.7" x2="515.96" y2="305.7" stroke="#a85a50" stroke-width="0.8"/>
<line x1="536.84" y1="297.95" x2="536.84" y2="313.45" stroke="#a85a50" stroke-width="0.8"/>
<line x1="534.44" y1="297.95" x2="539.24" y2="297.95" stroke="#a85a50" stroke-width="0.8"/>
<line x1="534.44" y1="313.45" x2="539.24" y2="313.45" stroke="#a85a50" stroke-width="0.8"/>
<line x1="560.12" y1="307.1" x2="560.12" y2="316.39" stroke="#a85a50" stroke-width="0.8"/>
<line x1="557.72" y1="307.1" x2="562.52" y2="307.1" stroke="#a85a50" stroke-width="0.8"/>
<line x1="557.72" y1="316.39" x2="562.52" y2="316.39" stroke="#a85a50" stroke-width="0.8"/>
<line x1="583.4" y1="290.05" x2="583.4" y2="330.35" stroke="#a85a50" stroke-width="0.8"/>
<line x1="581" y1="290.05" x2="585.8" y2="290.05" stroke="#a85a50" stroke-width="0.8"/>
<line x1="581" y1="330.35" x2="585.8" y2="330.35" stroke="#a85a50" stroke-width="0.8"/>
<line x1="606.68" y1="341.35" x2="606.68" y2="350.65" stroke="#a85a50" stroke-width="0.8"/>
<line x1="604.28" y1="341.35" x2="609.08" y2="341.35" stroke="#a85a50" stroke-width="0.8"/>
<line x1="604.28" y1="350.65" x2="609.08" y2="350.65" stroke="#a85a50" stroke-width="0.8"/>
<line x1="629.96" y1="364.29" x2="629.96" y2="389.09" stroke="#a85a50" stroke-width="0.8"/>
<line x1="627.56" y1="364.29" x2="632.36" y2="364.29" stroke="#a85a50" stroke-width="0.8"/>
<line x1="627.56" y1="389.09" x2="632.36" y2="389.09" stroke="#a85a50" stroke-width="0.8"/>
<line x1="653.24" y1="381.81" x2="653.24" y2="431.4" stroke="#a85a50" stroke-width="0.8"/>
<line x1="650.84" y1="381.81" x2="655.64" y2="381.81" stroke="#a85a50" stroke-width="0.8"/>
<line x1="650.84" y1="431.4" x2="655.64" y2="431.4" stroke="#a85a50" stroke-width="0.8"/>
<line x1="676.52" y1="423.96" x2="676.52" y2="439.46" stroke="#a85a50" stroke-width="0.8"/>
<line x1="674.12" y1="423.96" x2="678.92" y2="423.96" stroke="#a85a50" stroke-width="0.8"/>
<line x1="674.12" y1="439.46" x2="678.92" y2="439.46" stroke="#a85a50" stroke-width="0.8"/>
<line x1="467" y1="296.4" x2="467" y2="302.6" stroke="#90f090" stroke-width="0.8"/>
<line x1="464.6" y1="296.4" x2="469.4" y2="296.4" stroke="#90f090" stroke-width="0.8"/>
<line x1="464.6" y1="302.6" x2="469.4" y2="302.6" stroke="#90f090" stroke-width="0.8"/>
<line x1="490.28" y1="274.55" x2="490.28" y2="321.05" stroke="#90f090" stroke-width="0.8"/>
<line x1="487.88" y1="274.55" x2="492.68" y2="274.55" stroke="#90f090" stroke-width="0.8"/>
<line x1="487.88" y1="321.05" x2="492.68" y2="321.05" stroke="#90f090" stroke-width="0.8"/>
<line x1="513.56" y1="302.91" x2="513.56" y2="309.11" stroke="#90f090" stroke-width="0.8"/>
<line x1="511.16" y1="302.91" x2="515.96" y2="302.91" stroke="#90f090" stroke-width="0.8"/>
<line x1="511.16" y1="309.11" x2="515.96" y2="309.11" stroke="#90f090" stroke-width="0.8"/>
<line x1="536.84" y1="299.5" x2="536.84" y2="311.9" stroke="#90f090" stroke-width="0.8"/>
<line x1="534.44" y1="299.5" x2="539.24" y2="299.5" stroke="#90f090" stroke-width="0.8"/>
<line x1="534.44" y1="311.9" x2="539.24" y2="311.9" stroke="#90f090" stroke-width="0.8"/>
<line x1="560.12" y1="309.11" x2="560.12" y2="327.71" stroke="#90f090" stroke-width="0.8"/>
<line x1="557.72" y1="309.11" x2="562.52" y2="309.11" stroke="#90f090" stroke-width="0.8"/>
<line x1="557.72" y1="327.71" x2="562.52" y2="327.71" stroke="#90f090" stroke-width="0.8"/>
<line x1="583.4" y1="364.44" x2="583.4" y2="386.14" stroke="#90f090" stroke-width="0.8"/>
<line x1="581" y1="364.44" x2="585.8" y2="364.44" stroke="#90f090" stroke-width="0.8"/>
<line x1="581" y1="386.14" x2="585.8" y2="386.14" stroke="#90f090" stroke-width="0.8"/>
<line x1="606.68" y1="390.64" x2="606.68" y2="421.64" stroke="#90f090" stroke-width="0.8"/>
<line x1="604.28" y1="390.64" x2="609.08" y2="390.64" stroke="#90f090" stroke-width="0.8"/>
<line x1="604.28" y1="421.64" x2="609.08" y2="421.64" stroke="#90f090" stroke-width="0.8"/>
<line x1="629.96" y1="427.38" x2="629.96" y2="433.57" stroke="#90f090" stroke-width="0.8"/>
<line x1="627.56" y1="427.38" x2="632.36" y2="427.38" stroke="#90f090" stroke-width="0.8"/>
<line x1="627.56" y1="433.57" x2="632.36" y2="433.57" stroke="#90f090" stroke-width="0.8"/>
<line x1="653.24" y1="421.18" x2="653.24" y2="433.57" stroke="#90f090" stroke-width="0.8"/>
<line x1="650.84" y1="421.18" x2="655.64" y2="421.18" stroke="#90f090" stroke-width="0.8"/>
<line x1="650.84" y1="433.57" x2="655.64" y2="433.57" stroke="#90f090" stroke-width="0.8"/>
<line x1="676.52" y1="427.84" x2="676.52" y2="443.34" stroke="#90f090" stroke-width="0.8"/>
<line x1="674.12" y1="427.84" x2="678.92" y2="427.84" stroke="#90f090" stroke-width="0.8"/>
<line x1="674.12" y1="443.34" x2="678.92" y2="443.34" stroke="#90f090" stroke-width="0.8"/>
<line x1="467" y1="288.65" x2="467" y2="316.55" stroke="#8a9aff" stroke-width="0.8"/>
<line x1="464.6" y1="288.65" x2="469.4" y2="288.65" stroke="#8a9aff" stroke-width="0.8"/>
<line x1="464.6" y1="316.55" x2="469.4" y2="316.55" stroke="#8a9aff" stroke-width="0.8"/>
<line x1="490.28" y1="297.95" x2="490.28" y2="307.25" stroke="#8a9aff" stroke-width="0.8"/>
<line x1="487.88" y1="297.95" x2="492.68" y2="297.95" stroke="#8a9aff" stroke-width="0.8"/>
<line x1="487.88" y1="307.25" x2="492.68" y2="307.25" stroke="#8a9aff" stroke-width="0.8"/>
<line x1="513.56" y1="307.25" x2="513.56" y2="313.45" stroke="#8a9aff" stroke-width="0.8"/>
<line x1="511.16" y1="307.25" x2="515.96" y2="307.25" stroke="#8a9aff" stroke-width="0.8"/>
<line x1="511.16" y1="313.45" x2="515.96" y2="313.45" stroke="#8a9aff" stroke-width="0.8"/>
<line x1="536.84" y1="307.4" x2="536.84" y2="316.7" stroke="#8a9aff" stroke-width="0.8"/>
<line x1="534.44" y1="307.4" x2="539.24" y2="307.4" stroke="#8a9aff" stroke-width="0.8"/>
<line x1="534.44" y1="316.7" x2="539.24" y2="316.7" stroke="#8a9aff" stroke-width="0.8"/>
<line x1="560.12" y1="328.33" x2="560.12" y2="337.63" stroke="#8a9aff" stroke-width="0.8"/>
<line x1="557.72" y1="328.33" x2="562.52" y2="328.33" stroke="#8a9aff" stroke-width="0.8"/>
<line x1="557.72" y1="337.63" x2="562.52" y2="337.63" stroke="#8a9aff" stroke-width="0.8"/>
<line x1="583.4" y1="348.94" x2="583.4" y2="389.25" stroke="#8a9aff" stroke-width="0.8"/>
<line x1="581" y1="348.94" x2="585.8" y2="348.94" stroke="#8a9aff" stroke-width="0.8"/>
<line x1="581" y1="389.25" x2="585.8" y2="389.25" stroke="#8a9aff" stroke-width="0.8"/>
<line x1="606.68" y1="373.59" x2="606.68" y2="404.59" stroke="#8a9aff" stroke-width="0.8"/>
<line x1="604.28" y1="373.59" x2="609.08" y2="373.59" stroke="#8a9aff" stroke-width="0.8"/>
<line x1="604.28" y1="404.59" x2="609.08" y2="404.59" stroke="#8a9aff" stroke-width="0.8"/>
<line x1="629.96" y1="387.38" x2="629.96" y2="412.19" stroke="#8a9aff" stroke-width="0.8"/>
<line x1="627.56" y1="387.38" x2="632.36" y2="387.38" stroke="#8a9aff" stroke-width="0.8"/>
<line x1="627.56" y1="412.19" x2="632.36" y2="412.19" stroke="#8a9aff" stroke-width="0.8"/>
<line x1="653.24" y1="399.48" x2="653.24" y2="424.27" stroke="#8a9aff" stroke-width="0.8"/>
<line x1="650.84" y1="399.48" x2="655.64" y2="399.48" stroke="#8a9aff" stroke-width="0.8"/>
<line x1="650.84" y1="424.27" x2="655.64" y2="424.27" stroke="#8a9aff" stroke-width="0.8"/>
<line x1="676.52" y1="430.48" x2="676.52" y2="436.68" stroke="#8a9aff" stroke-width="0.8"/>
<line x1="674.12" y1="430.48" x2="678.92" y2="430.48" stroke="#8a9aff" stroke-width="0.8"/>
<line x1="674.12" y1="436.68" x2="678.92" y2="436.68" stroke="#8a9aff" stroke-width="0.8"/>
<line x1="467" y1="292.22" x2="467" y2="301.51" stroke="#ffb070" stroke-width="0.8"/>
<line x1="464.6" y1="292.22" x2="469.4" y2="292.22" stroke="#ffb070" stroke-width="0.8"/>
<line x1="464.6" y1="301.51" x2="469.4" y2="301.51" stroke="#ffb070" stroke-width="0.8"/>
<line x1="490.28" y1="305.86" x2="490.28" y2="312.06" stroke="#ffb070" stroke-width="0.8"/>
<line x1="487.88" y1="305.86" x2="492.68" y2="305.86" stroke="#ffb070" stroke-width="0.8"/>
<line x1="487.88" y1="312.06" x2="492.68" y2="312.06" stroke="#ffb070" stroke-width="0.8"/>
<line x1="513.56" y1="290.98" x2="513.56" y2="308.02" stroke="#ffb070" stroke-width="0.8"/>
<line x1="511.16" y1="290.98" x2="515.96" y2="290.98" stroke="#ffb070" stroke-width="0.8"/>
<line x1="511.16" y1="308.02" x2="515.96" y2="308.02" stroke="#ffb070" stroke-width="0.8"/>
<line x1="536.84" y1="276.25" x2="536.84" y2="322.75" stroke="#ffb070" stroke-width="0.8"/>
<line x1="534.44" y1="276.25" x2="539.24" y2="276.25" stroke="#ffb070" stroke-width="0.8"/>
<line x1="534.44" y1="322.75" x2="539.24" y2="322.75" stroke="#ffb070" stroke-width="0.8"/>
<line x1="583.4" y1="318.56" x2="583.4" y2="324.76" stroke="#ffb070" stroke-width="0.8"/>
<line x1="581" y1="318.56" x2="585.8" y2="318.56" stroke="#ffb070" stroke-width="0.8"/>
<line x1="581" y1="324.76" x2="585.8" y2="324.76" stroke="#ffb070" stroke-width="0.8"/>
<line x1="606.68" y1="323.84" x2="606.68" y2="330.04" stroke="#ffb070" stroke-width="0.8"/>
<line x1="604.28" y1="323.84" x2="609.08" y2="323.84" stroke="#ffb070" stroke-width="0.8"/>
<line x1="604.28" y1="330.04" x2="609.08" y2="330.04" stroke="#ffb070" stroke-width="0.8"/>
<line x1="653.24" y1="352.2" x2="653.24" y2="358.4" stroke="#ffb070" stroke-width="0.8"/>
<line x1="650.84" y1="352.2" x2="655.64" y2="352.2" stroke="#ffb070" stroke-width="0.8"/>
<line x1="650.84" y1="358.4" x2="655.64" y2="358.4" stroke="#ffb070" stroke-width="0.8"/>
<line x1="676.52" y1="391.88" x2="676.52" y2="398.08" stroke="#ffb070" stroke-width="0.8"/>
<line x1="674.12" y1="391.88" x2="678.92" y2="391.88" stroke="#ffb070" stroke-width="0.8"/>
<line x1="674.12" y1="398.08" x2="678.92" y2="398.08" stroke="#ffb070" stroke-width="0.8"/>
<circle cx="467" cy="305.7" r="3.2" fill="#8a8a12"/>
<circle cx="490.28" cy="315" r="3.2" fill="#8a8a12"/>
<circle cx="513.56" cy="337.32" r="3.2" fill="#8a8a12"/>
<circle cx="536.84" cy="386.14" r="3.2" fill="#8a8a12"/>
<circle cx="560.12" cy="399.79" r="3.2" fill="#8a8a12"/>
<circle cx="583.4" cy="423.5" r="3.2" fill="#8a8a12"/>
<circle cx="606.68" cy="434.04" r="3.2" fill="#8a8a12"/>
<circle cx="629.96" cy="434.81" r="3.2" fill="#8a8a12"/>
<circle cx="653.24" cy="437.92" r="3.2" fill="#8a8a12"/>
<circle cx="676.52" cy="441.17" r="3.2" fill="#8a8a12"/>
<circle cx="467" cy="305.39" r="3.2" fill="#7a1008"/>
<circle cx="490.28" cy="299.5" r="3.2" fill="#7a1008"/>
<circle cx="513.56" cy="301.05" r="3.2" fill="#7a1008"/>
<circle cx="536.84" cy="305.7" r="3.2" fill="#7a1008"/>
<circle cx="560.12" cy="311.75" r="3.2" fill="#7a1008"/>
<circle cx="583.4" cy="310.19" r="3.2" fill="#7a1008"/>
<circle cx="606.68" cy="346" r="3.2" fill="#7a1008"/>
<circle cx="629.96" cy="376.69" r="3.2" fill="#7a1008"/>
<circle cx="653.24" cy="406.61" r="3.2" fill="#7a1008"/>
<circle cx="676.52" cy="431.71" r="3.2" fill="#7a1008"/>
<circle cx="467" cy="299.5" r="3.2" fill="#22ee22"/>
<circle cx="490.28" cy="297.8" r="3.2" fill="#22ee22"/>
<circle cx="513.56" cy="306.01" r="3.2" fill="#22ee22"/>
<circle cx="536.84" cy="305.7" r="3.2" fill="#22ee22"/>
<circle cx="560.12" cy="318.41" r="3.2" fill="#22ee22"/>
<circle cx="583.4" cy="375.3" r="3.2" fill="#22ee22"/>
<circle cx="606.68" cy="406.14" r="3.2" fill="#22ee22"/>
<circle cx="629.96" cy="430.48" r="3.2" fill="#22ee22"/>
<circle cx="653.24" cy="427.38" r="3.2" fill="#22ee22"/>
<circle cx="676.52" cy="435.59" r="3.2" fill="#22ee22"/>
<circle cx="467" cy="302.6" r="3.2" fill="#1f45ff"/>
<circle cx="490.28" cy="302.6" r="3.2" fill="#1f45ff"/>
<circle cx="513.56" cy="310.35" r="3.2" fill="#1f45ff"/>
<circle cx="536.84" cy="312.06" r="3.2" fill="#1f45ff"/>
<circle cx="560.12" cy="332.98" r="3.2" fill="#1f45ff"/>
<circle cx="583.4" cy="369.1" r="3.2" fill="#1f45ff"/>
<circle cx="606.68" cy="389.09" r="3.2" fill="#1f45ff"/>
<circle cx="629.96" cy="399.79" r="3.2" fill="#1f45ff"/>
<circle cx="653.24" cy="411.88" r="3.2" fill="#1f45ff"/>
<circle cx="676.52" cy="433.57" r="3.2" fill="#1f45ff"/>
<circle cx="467" cy="296.87" r="3.2" fill="#ff8a2a"/>
<circle cx="490.28" cy="308.96" r="3.2" fill="#ff8a2a"/>
<circle cx="513.56" cy="299.5" r="3.2" fill="#ff8a2a"/>
<circle cx="536.84" cy="299.5" r="3.2" fill="#ff8a2a"/>
<circle cx="560.12" cy="310.81" r="3.2" fill="#ff8a2a"/>
<circle cx="583.4" cy="321.66" r="3.2" fill="#ff8a2a"/>
<circle cx="606.68" cy="326.94" r="3.2" fill="#ff8a2a"/>
<circle cx="629.96" cy="319.96" r="3.2" fill="#ff8a2a"/>
<circle cx="653.24" cy="355.3" r="3.2" fill="#ff8a2a"/>
<circle cx="676.52" cy="394.98" r="3.2" fill="#ff8a2a"/>
<polyline points="452.8,299.49 455.63,299.5 458.46,299.51 461.29,299.52 464.13,299.52 466.96,299.53 469.79,299.54 472.62,299.55 475.45,299.57 478.28,299.58 481.12,299.6 483.95,299.61 486.78,299.63 489.61,299.65 492.44,299.68 495.27,299.7 498.11,299.73 500.94,299.76 503.77,299.8 506.6,299.84 509.43,299.88 512.26,299.93 515.1,299.98 517.93,300.04 520.76,300.1 523.59,300.17 526.42,300.25 529.25,300.33 532.09,300.43 534.92,300.53 537.75,300.65 540.58,300.78 543.41,300.92 546.24,301.08 549.08,301.25 551.91,301.44 554.74,301.65 557.57,301.89 560.4,302.14 563.23,302.43 566.07,302.74 568.9,303.08 571.73,303.46 574.56,303.88 577.39,304.35 580.22,304.85 583.06,305.41 585.89,306.03 588.72,306.71 591.55,307.45 594.38,308.27 597.21,309.16 600.05,310.14 602.88,311.22 605.71,312.39 608.54,313.68 611.37,315.08 614.2,316.61 617.04,318.27 619.87,320.08 622.7,322.04 625.53,324.16 628.36,326.45 631.19,328.92 634.03,331.58 636.86,334.43 639.69,337.47 642.52,340.73 645.35,344.18 648.18,347.85 651.02,351.72 653.85,355.79 656.68,360.06 659.51,364.51 662.34,369.14 665.17,373.93 668.01,378.87 670.84,383.92 673.67,389.09 676.5,394.32" fill="none" stroke="#ff8a2a" stroke-width="1.7" stroke-linejoin="round"/>
<polyline points="452.8,299.43 455.63,299.47 458.46,299.52 461.29,299.57 464.13,299.62 466.96,299.68 469.79,299.74 472.62,299.81 475.45,299.89 478.28,299.97 481.12,300.06 483.95,300.17 486.78,300.28 489.61,300.4 492.44,300.53 495.27,300.67 498.11,300.83 500.94,301 503.77,301.19 506.6,301.4 509.43,301.62 512.26,301.87 515.1,302.14 517.93,302.43 520.76,302.76 523.59,303.11 526.42,303.49 529.25,303.9 532.09,304.36 534.92,304.85 537.75,305.39 540.58,305.98 543.41,306.62 546.24,307.31 549.08,308.07 551.91,308.88 554.74,309.77 557.57,310.73 560.4,311.77 563.23,312.9 566.07,314.11 568.9,315.42 571.73,316.83 574.56,318.35 577.39,319.98 580.22,321.73 583.06,323.6 585.89,325.59 588.72,327.72 591.55,329.98 594.38,332.38 597.21,334.91 600.05,337.59 602.88,340.41 605.71,343.37 608.54,346.46 611.37,349.68 614.2,353.04 617.04,356.51 619.87,360.09 622.7,363.77 625.53,367.53 628.36,371.38 631.19,375.28 634.03,379.23 636.86,383.21 639.69,387.2 642.52,391.19 645.35,395.17 648.18,399.1 651.02,402.98 653.85,406.8 656.68,410.53 659.51,414.18 662.34,417.71 665.17,421.14 668.01,424.44 670.84,427.62 673.67,430.66 676.5,433.56" fill="none" stroke="#7a1008" stroke-width="1.7" stroke-linejoin="round"/>
<polyline points="452.8,301.18 455.63,301.38 458.46,301.59 461.29,301.83 464.13,302.08 466.96,302.35 469.79,302.65 472.62,302.98 475.45,303.33 478.28,303.71 481.12,304.12 483.95,304.56 486.78,305.04 489.61,305.57 492.44,306.13 495.27,306.74 498.11,307.4 500.94,308.1 503.77,308.87 506.6,309.69 509.43,310.58 512.26,311.53 515.1,312.55 517.93,313.65 520.76,314.83 523.59,316.09 526.42,317.43 529.25,318.87 532.09,320.4 534.92,322.03 537.75,323.76 540.58,325.59 543.41,327.53 546.24,329.58 549.08,331.74 551.91,334.01 554.74,336.38 557.57,338.87 560.4,341.46 563.23,344.16 566.07,346.95 568.9,349.85 571.73,352.83 574.56,355.89 577.39,359.02 580.22,362.22 583.06,365.48 585.89,368.78 588.72,372.11 591.55,375.46 594.38,378.82 597.21,382.18 600.05,385.53 602.88,388.85 605.71,392.12 608.54,395.35 611.37,398.52 614.2,401.62 617.04,404.65 619.87,407.58 622.7,410.43 625.53,413.18 628.36,415.83 631.19,418.37 634.03,420.8 636.86,423.12 639.69,425.34 642.52,427.44 645.35,429.44 648.18,431.32 651.02,433.11 653.85,434.79 656.68,436.37 659.51,437.85 662.34,439.24 665.17,440.55 668.01,441.77 670.84,442.9 673.67,443.96 676.5,444.95" fill="none" stroke="#22ee22" stroke-width="1.7" stroke-linejoin="round"/>
<polyline points="452.8,297.56 455.63,297.69 458.46,297.83 461.29,297.99 464.13,298.16 466.96,298.35 469.79,298.55 472.62,298.78 475.45,299.03 478.28,299.3 481.12,299.6 483.95,299.93 486.78,300.29 489.61,300.69 492.44,301.12 495.27,301.59 498.11,302.1 500.94,302.67 503.77,303.28 506.6,303.95 509.43,304.68 512.26,305.47 515.1,306.33 517.93,307.27 520.76,308.28 523.59,309.38 526.42,310.57 529.25,311.85 532.09,313.23 534.92,314.71 537.75,316.3 540.58,318 543.41,319.82 546.24,321.76 549.08,323.81 551.91,325.99 554.74,328.29 557.57,330.72 560.4,333.26 563.23,335.91 566.07,338.68 568.9,341.55 571.73,344.51 574.56,347.56 577.39,350.68 580.22,353.87 583.06,357.1 585.89,360.37 588.72,363.66 591.55,366.96 594.38,370.24 597.21,373.5 600.05,376.72 602.88,379.89 605.71,382.99 608.54,386.01 611.37,388.94 614.2,391.78 617.04,394.5 619.87,397.12 622.7,399.62 625.53,402.01 628.36,404.27 631.19,406.4 634.03,408.42 636.86,410.32 639.69,412.1 642.52,413.76 645.35,415.32 648.18,416.77 651.02,418.11 653.85,419.36 656.68,420.52 659.51,421.59 662.34,422.57 665.17,423.49 668.01,424.32 670.84,425.09 673.67,425.8 676.5,426.45" fill="none" stroke="#1f45ff" stroke-width="1.7" stroke-linejoin="round"/>
<polyline points="452.8,311.16 455.63,311.81 458.46,312.51 461.29,313.28 464.13,314.11 466.96,315.01 469.79,315.99 472.62,317.05 475.45,318.19 478.28,319.42 481.12,320.75 483.95,322.18 486.78,323.71 489.61,325.35 492.44,327.11 495.27,328.98 498.11,330.97 500.94,333.08 503.77,335.31 506.6,337.67 509.43,340.14 512.26,342.74 515.1,345.45 517.93,348.27 520.76,351.2 523.59,354.22 526.42,357.33 529.25,360.51 532.09,363.76 534.92,367.06 537.75,370.4 540.58,373.76 543.41,377.13 546.24,380.49 549.08,383.83 551.91,387.14 554.74,390.39 557.57,393.59 560.4,396.7 563.23,399.74 566.07,402.67 568.9,405.51 571.73,408.23 574.56,410.84 577.39,413.33 580.22,415.7 583.06,417.95 585.89,420.07 588.72,422.08 591.55,423.96 594.38,425.73 597.21,427.38 600.05,428.93 602.88,430.37 605.71,431.71 608.54,432.95 611.37,434.11 614.2,435.17 617.04,436.16 619.87,437.07 622.7,437.91 625.53,438.68 628.36,439.39 631.19,440.05 634.03,440.65 636.86,441.2 639.69,441.7 642.52,442.17 645.35,442.59 648.18,442.98 651.02,443.33 653.85,443.66 656.68,443.95 659.51,444.22 662.34,444.47 665.17,444.7 668.01,444.9 670.84,445.09 673.67,445.26 676.5,445.42" fill="none" stroke="#8a8a12" stroke-width="1.7" stroke-linejoin="round"/>
<text x="560.6" y="286.7" font-size="11.6" fill="#2aaa2a">TAR<tspan font-size="6.7" dy="-3.4">ΔC5ΔA17</tspan></text>
<text x="598.2" y="308.5" font-size="11.5" fill="#ff8a2a">TAR<tspan font-size="7.05" dy="-3.05">A48U/C49G/U50A</tspan></text>
<text x="632.7" y="331.1" font-size="10.1" fill="#7a1008">TAR<tspan font-size="6.2" dy="-2.96">Δ23UCU25</tspan></text>
<text x="523.2" y="362.3" font-size="11.7" fill="#1f45ff">TAR<tspan font-size="6.8" dy="-3.63">WT(2GC)</tspan></text>
<text x="495.4" y="414.6" font-size="11.8" fill="#8a8a12">TAR</text>
<text x="518.33" y="406.1" font-size="7.1" fill="#8a8a12">ΔC5/ΔA17/</text>
<text x="518.33" y="412.2" font-size="7.0" fill="#8a8a12">Δ23UCU25</text>
<text x="119" y="248.5" font-size="18.5" fill="#111" font-weight="bold">d</text>
<line x1="154.8" y1="264.4" x2="388.6" y2="264.4" stroke="#333" stroke-width="1"/>
<line x1="388.6" y1="264.4" x2="388.6" y2="452.6" stroke="#444" stroke-width="1"/>
<line x1="154.8" y1="452.6" x2="388.6" y2="452.6" stroke="#555" stroke-width="1.2"/>
<line x1="154.8" y1="263.9" x2="154.8" y2="452.6" stroke="#333" stroke-width="1.2"/>
<line x1="149.8" y1="447.3" x2="154.8" y2="447.3" stroke="#333" stroke-width="1"/>
<text x="148.6" y="450.9" font-size="10.6" fill="#111" text-anchor="end">0</text>
<line x1="151.8" y1="432.07" x2="154.8" y2="432.07" stroke="#333" stroke-width="1"/>
<line x1="385.1" y1="432.07" x2="388.6" y2="432.07" stroke="#444" stroke-width="1"/>
<line x1="149.8" y1="416.83" x2="154.8" y2="416.83" stroke="#333" stroke-width="1"/>
<text x="148.6" y="420.43" font-size="10.6" fill="#111" text-anchor="end">25</text>
<line x1="385.1" y1="416.83" x2="388.6" y2="416.83" stroke="#444" stroke-width="1"/>
<line x1="151.8" y1="401.6" x2="154.8" y2="401.6" stroke="#333" stroke-width="1"/>
<line x1="385.1" y1="401.6" x2="388.6" y2="401.6" stroke="#444" stroke-width="1"/>
<line x1="149.8" y1="386.37" x2="154.8" y2="386.37" stroke="#333" stroke-width="1"/>
<text x="148.6" y="389.97" font-size="10.6" fill="#111" text-anchor="end">50</text>
<line x1="385.1" y1="386.37" x2="388.6" y2="386.37" stroke="#444" stroke-width="1"/>
<line x1="151.8" y1="371.13" x2="154.8" y2="371.13" stroke="#333" stroke-width="1"/>
<line x1="385.1" y1="371.13" x2="388.6" y2="371.13" stroke="#444" stroke-width="1"/>
<line x1="149.8" y1="355.9" x2="154.8" y2="355.9" stroke="#333" stroke-width="1"/>
<text x="148.6" y="359.5" font-size="10.6" fill="#111" text-anchor="end">75</text>
<line x1="385.1" y1="355.9" x2="388.6" y2="355.9" stroke="#444" stroke-width="1"/>
<line x1="151.8" y1="340.66" x2="154.8" y2="340.66" stroke="#333" stroke-width="1"/>
<line x1="385.1" y1="340.66" x2="388.6" y2="340.66" stroke="#444" stroke-width="1"/>
<line x1="149.8" y1="325.43" x2="154.8" y2="325.43" stroke="#333" stroke-width="1"/>
<text x="148.6" y="329.03" font-size="10.6" fill="#111" text-anchor="end">100</text>
<line x1="385.1" y1="325.43" x2="388.6" y2="325.43" stroke="#444" stroke-width="1"/>
<line x1="151.8" y1="310.2" x2="154.8" y2="310.2" stroke="#333" stroke-width="1"/>
<line x1="385.1" y1="310.2" x2="388.6" y2="310.2" stroke="#444" stroke-width="1"/>
<line x1="149.8" y1="294.96" x2="154.8" y2="294.96" stroke="#333" stroke-width="1"/>
<text x="148.6" y="298.56" font-size="10.6" fill="#111" text-anchor="end">125</text>
<line x1="385.1" y1="294.96" x2="388.6" y2="294.96" stroke="#444" stroke-width="1"/>
<line x1="151.8" y1="279.73" x2="154.8" y2="279.73" stroke="#333" stroke-width="1"/>
<line x1="385.1" y1="279.73" x2="388.6" y2="279.73" stroke="#444" stroke-width="1"/>
<line x1="149.8" y1="264.5" x2="154.8" y2="264.5" stroke="#333" stroke-width="1"/>
<text x="148.6" y="268.1" font-size="10.6" fill="#111" text-anchor="end">150</text>
<line x1="161.23" y1="452.6" x2="161.23" y2="455.1" stroke="#333" stroke-width="0.9"/>
<line x1="161.23" y1="264.4" x2="161.23" y2="266.6" stroke="#333" stroke-width="0.9"/>
<line x1="166.29" y1="452.6" x2="166.29" y2="455.1" stroke="#333" stroke-width="0.9"/>
<line x1="166.29" y1="264.4" x2="166.29" y2="266.6" stroke="#333" stroke-width="0.9"/>
<line x1="170.42" y1="452.6" x2="170.42" y2="455.1" stroke="#333" stroke-width="0.9"/>
<line x1="170.42" y1="264.4" x2="170.42" y2="266.6" stroke="#333" stroke-width="0.9"/>
<line x1="173.91" y1="452.6" x2="173.91" y2="455.1" stroke="#333" stroke-width="0.9"/>
<line x1="173.91" y1="264.4" x2="173.91" y2="266.6" stroke="#333" stroke-width="0.9"/>
<line x1="176.94" y1="452.6" x2="176.94" y2="455.1" stroke="#333" stroke-width="0.9"/>
<line x1="176.94" y1="264.4" x2="176.94" y2="266.6" stroke="#333" stroke-width="0.9"/>
<line x1="179.61" y1="452.6" x2="179.61" y2="455.1" stroke="#333" stroke-width="0.9"/>
<line x1="179.61" y1="264.4" x2="179.61" y2="266.6" stroke="#333" stroke-width="0.9"/>
<line x1="182" y1="452.6" x2="182" y2="457.1" stroke="#333" stroke-width="1"/>
<line x1="182" y1="264.4" x2="182" y2="267.9" stroke="#333" stroke-width="1"/>
<line x1="197.71" y1="452.6" x2="197.71" y2="455.1" stroke="#333" stroke-width="0.9"/>
<line x1="197.71" y1="264.4" x2="197.71" y2="266.6" stroke="#333" stroke-width="0.9"/>
<line x1="206.91" y1="452.6" x2="206.91" y2="455.1" stroke="#333" stroke-width="0.9"/>
<line x1="206.91" y1="264.4" x2="206.91" y2="266.6" stroke="#333" stroke-width="0.9"/>
<line x1="213.43" y1="452.6" x2="213.43" y2="455.1" stroke="#333" stroke-width="0.9"/>
<line x1="213.43" y1="264.4" x2="213.43" y2="266.6" stroke="#333" stroke-width="0.9"/>
<line x1="218.49" y1="452.6" x2="218.49" y2="455.1" stroke="#333" stroke-width="0.9"/>
<line x1="218.49" y1="264.4" x2="218.49" y2="266.6" stroke="#333" stroke-width="0.9"/>
<line x1="222.62" y1="452.6" x2="222.62" y2="455.1" stroke="#333" stroke-width="0.9"/>
<line x1="222.62" y1="264.4" x2="222.62" y2="266.6" stroke="#333" stroke-width="0.9"/>
<line x1="226.11" y1="452.6" x2="226.11" y2="455.1" stroke="#333" stroke-width="0.9"/>
<line x1="226.11" y1="264.4" x2="226.11" y2="266.6" stroke="#333" stroke-width="0.9"/>
<line x1="229.14" y1="452.6" x2="229.14" y2="455.1" stroke="#333" stroke-width="0.9"/>
<line x1="229.14" y1="264.4" x2="229.14" y2="266.6" stroke="#333" stroke-width="0.9"/>
<line x1="231.81" y1="452.6" x2="231.81" y2="455.1" stroke="#333" stroke-width="0.9"/>
<line x1="231.81" y1="264.4" x2="231.81" y2="266.6" stroke="#333" stroke-width="0.9"/>
<line x1="234.2" y1="452.6" x2="234.2" y2="457.1" stroke="#333" stroke-width="1"/>
<line x1="234.2" y1="264.4" x2="234.2" y2="267.9" stroke="#333" stroke-width="1"/>
<line x1="249.91" y1="452.6" x2="249.91" y2="455.1" stroke="#333" stroke-width="0.9"/>
<line x1="249.91" y1="264.4" x2="249.91" y2="266.6" stroke="#333" stroke-width="0.9"/>
<line x1="259.11" y1="452.6" x2="259.11" y2="455.1" stroke="#333" stroke-width="0.9"/>
<line x1="259.11" y1="264.4" x2="259.11" y2="266.6" stroke="#333" stroke-width="0.9"/>
<line x1="265.63" y1="452.6" x2="265.63" y2="455.1" stroke="#333" stroke-width="0.9"/>
<line x1="265.63" y1="264.4" x2="265.63" y2="266.6" stroke="#333" stroke-width="0.9"/>
<line x1="270.69" y1="452.6" x2="270.69" y2="455.1" stroke="#333" stroke-width="0.9"/>
<line x1="270.69" y1="264.4" x2="270.69" y2="266.6" stroke="#333" stroke-width="0.9"/>
<line x1="274.82" y1="452.6" x2="274.82" y2="455.1" stroke="#333" stroke-width="0.9"/>
<line x1="274.82" y1="264.4" x2="274.82" y2="266.6" stroke="#333" stroke-width="0.9"/>
<line x1="278.31" y1="452.6" x2="278.31" y2="455.1" stroke="#333" stroke-width="0.9"/>
<line x1="278.31" y1="264.4" x2="278.31" y2="266.6" stroke="#333" stroke-width="0.9"/>
<line x1="281.34" y1="452.6" x2="281.34" y2="455.1" stroke="#333" stroke-width="0.9"/>
<line x1="281.34" y1="264.4" x2="281.34" y2="266.6" stroke="#333" stroke-width="0.9"/>
<line x1="284.01" y1="452.6" x2="284.01" y2="455.1" stroke="#333" stroke-width="0.9"/>
<line x1="284.01" y1="264.4" x2="284.01" y2="266.6" stroke="#333" stroke-width="0.9"/>
<line x1="286.4" y1="452.6" x2="286.4" y2="457.1" stroke="#333" stroke-width="1"/>
<line x1="286.4" y1="264.4" x2="286.4" y2="267.9" stroke="#333" stroke-width="1"/>
<line x1="302.11" y1="452.6" x2="302.11" y2="455.1" stroke="#333" stroke-width="0.9"/>
<line x1="302.11" y1="264.4" x2="302.11" y2="266.6" stroke="#333" stroke-width="0.9"/>
<line x1="311.31" y1="452.6" x2="311.31" y2="455.1" stroke="#333" stroke-width="0.9"/>
<line x1="311.31" y1="264.4" x2="311.31" y2="266.6" stroke="#333" stroke-width="0.9"/>
<line x1="317.83" y1="452.6" x2="317.83" y2="455.1" stroke="#333" stroke-width="0.9"/>
<line x1="317.83" y1="264.4" x2="317.83" y2="266.6" stroke="#333" stroke-width="0.9"/>
<line x1="322.89" y1="452.6" x2="322.89" y2="455.1" stroke="#333" stroke-width="0.9"/>
<line x1="322.89" y1="264.4" x2="322.89" y2="266.6" stroke="#333" stroke-width="0.9"/>
<line x1="327.02" y1="452.6" x2="327.02" y2="455.1" stroke="#333" stroke-width="0.9"/>
<line x1="327.02" y1="264.4" x2="327.02" y2="266.6" stroke="#333" stroke-width="0.9"/>
<line x1="330.51" y1="452.6" x2="330.51" y2="455.1" stroke="#333" stroke-width="0.9"/>
<line x1="330.51" y1="264.4" x2="330.51" y2="266.6" stroke="#333" stroke-width="0.9"/>
<line x1="333.54" y1="452.6" x2="333.54" y2="455.1" stroke="#333" stroke-width="0.9"/>
<line x1="333.54" y1="264.4" x2="333.54" y2="266.6" stroke="#333" stroke-width="0.9"/>
<line x1="336.21" y1="452.6" x2="336.21" y2="455.1" stroke="#333" stroke-width="0.9"/>
<line x1="336.21" y1="264.4" x2="336.21" y2="266.6" stroke="#333" stroke-width="0.9"/>
<line x1="338.6" y1="452.6" x2="338.6" y2="457.1" stroke="#333" stroke-width="1"/>
<line x1="338.6" y1="264.4" x2="338.6" y2="267.9" stroke="#333" stroke-width="1"/>
<line x1="354.31" y1="452.6" x2="354.31" y2="455.1" stroke="#333" stroke-width="0.9"/>
<line x1="354.31" y1="264.4" x2="354.31" y2="266.6" stroke="#333" stroke-width="0.9"/>
<line x1="363.51" y1="452.6" x2="363.51" y2="455.1" stroke="#333" stroke-width="0.9"/>
<line x1="363.51" y1="264.4" x2="363.51" y2="266.6" stroke="#333" stroke-width="0.9"/>
<line x1="370.03" y1="452.6" x2="370.03" y2="455.1" stroke="#333" stroke-width="0.9"/>
<line x1="370.03" y1="264.4" x2="370.03" y2="266.6" stroke="#333" stroke-width="0.9"/>
<line x1="375.09" y1="452.6" x2="375.09" y2="455.1" stroke="#333" stroke-width="0.9"/>
<line x1="375.09" y1="264.4" x2="375.09" y2="266.6" stroke="#333" stroke-width="0.9"/>
<line x1="379.22" y1="452.6" x2="379.22" y2="455.1" stroke="#333" stroke-width="0.9"/>
<line x1="379.22" y1="264.4" x2="379.22" y2="266.6" stroke="#333" stroke-width="0.9"/>
<line x1="382.71" y1="452.6" x2="382.71" y2="455.1" stroke="#333" stroke-width="0.9"/>
<line x1="382.71" y1="264.4" x2="382.71" y2="266.6" stroke="#333" stroke-width="0.9"/>
<line x1="385.74" y1="452.6" x2="385.74" y2="455.1" stroke="#333" stroke-width="0.9"/>
<line x1="385.74" y1="264.4" x2="385.74" y2="266.6" stroke="#333" stroke-width="0.9"/>
<text x="182" y="467.4" font-size="10.3" fill="#111" text-anchor="middle">1</text>
<text x="234.2" y="467.4" font-size="10.3" fill="#111" text-anchor="middle">10</text>
<text x="286.4" y="467.4" font-size="10.3" fill="#111" text-anchor="middle">100</text>
<text x="338.6" y="467.4" font-size="10.3" fill="#111" text-anchor="middle">1000</text>
<text x="276.7" y="482.4" font-size="12.2" fill="#111" text-anchor="middle">[PKR] (nM)</text>
<text x="125" y="345.4" font-size="11.5" fill="#111" text-anchor="middle" transform="rotate(-90 125 345.4)">ΔFP</text>
<line x1="166.1" y1="448.76" x2="166.1" y2="451.2" stroke="#6ab06a" stroke-width="0.8"/>
<line x1="163.9" y1="448.76" x2="168.3" y2="448.76" stroke="#6ab06a" stroke-width="0.8"/>
<line x1="163.9" y1="451.2" x2="168.3" y2="451.2" stroke="#6ab06a" stroke-width="0.8"/>
<line x1="181.9" y1="447.91" x2="181.9" y2="450.35" stroke="#6ab06a" stroke-width="0.8"/>
<line x1="179.7" y1="447.91" x2="184.1" y2="447.91" stroke="#6ab06a" stroke-width="0.8"/>
<line x1="179.7" y1="450.35" x2="184.1" y2="450.35" stroke="#6ab06a" stroke-width="0.8"/>
<line x1="197.8" y1="446.08" x2="197.8" y2="448.52" stroke="#6ab06a" stroke-width="0.8"/>
<line x1="195.6" y1="446.08" x2="200" y2="446.08" stroke="#6ab06a" stroke-width="0.8"/>
<line x1="195.6" y1="448.52" x2="200" y2="448.52" stroke="#6ab06a" stroke-width="0.8"/>
<line x1="218.7" y1="445.47" x2="218.7" y2="447.91" stroke="#6ab06a" stroke-width="0.8"/>
<line x1="216.5" y1="445.47" x2="220.9" y2="445.47" stroke="#6ab06a" stroke-width="0.8"/>
<line x1="216.5" y1="447.91" x2="220.9" y2="447.91" stroke="#6ab06a" stroke-width="0.8"/>
<line x1="234.1" y1="444.86" x2="234.1" y2="447.3" stroke="#6ab06a" stroke-width="0.8"/>
<line x1="231.9" y1="444.86" x2="236.3" y2="444.86" stroke="#6ab06a" stroke-width="0.8"/>
<line x1="231.9" y1="447.3" x2="236.3" y2="447.3" stroke="#6ab06a" stroke-width="0.8"/>
<line x1="249.6" y1="422.32" x2="249.6" y2="441.82" stroke="#6ab06a" stroke-width="0.8"/>
<line x1="247.4" y1="422.32" x2="251.8" y2="422.32" stroke="#6ab06a" stroke-width="0.8"/>
<line x1="247.4" y1="441.82" x2="251.8" y2="441.82" stroke="#6ab06a" stroke-width="0.8"/>
<line x1="258.8" y1="435.84" x2="258.8" y2="440.72" stroke="#6ab06a" stroke-width="0.8"/>
<line x1="256.6" y1="435.84" x2="261" y2="435.84" stroke="#6ab06a" stroke-width="0.8"/>
<line x1="256.6" y1="440.72" x2="261" y2="440.72" stroke="#6ab06a" stroke-width="0.8"/>
<line x1="270.7" y1="426.34" x2="270.7" y2="431.21" stroke="#6ab06a" stroke-width="0.8"/>
<line x1="268.5" y1="426.34" x2="272.9" y2="426.34" stroke="#6ab06a" stroke-width="0.8"/>
<line x1="268.5" y1="431.21" x2="272.9" y2="431.21" stroke="#6ab06a" stroke-width="0.8"/>
<line x1="283.7" y1="419.88" x2="283.7" y2="427.19" stroke="#6ab06a" stroke-width="0.8"/>
<line x1="281.5" y1="419.88" x2="285.9" y2="419.88" stroke="#6ab06a" stroke-width="0.8"/>
<line x1="281.5" y1="427.19" x2="285.9" y2="427.19" stroke="#6ab06a" stroke-width="0.8"/>
<line x1="299.4" y1="411.59" x2="299.4" y2="421.34" stroke="#6ab06a" stroke-width="0.8"/>
<line x1="297.2" y1="411.59" x2="301.6" y2="411.59" stroke="#6ab06a" stroke-width="0.8"/>
<line x1="297.2" y1="421.34" x2="301.6" y2="421.34" stroke="#6ab06a" stroke-width="0.8"/>
<line x1="308.9" y1="401.23" x2="308.9" y2="415.86" stroke="#6ab06a" stroke-width="0.8"/>
<line x1="306.7" y1="401.23" x2="311.1" y2="401.23" stroke="#6ab06a" stroke-width="0.8"/>
<line x1="306.7" y1="415.86" x2="311.1" y2="415.86" stroke="#6ab06a" stroke-width="0.8"/>
<line x1="322.7" y1="413.18" x2="322.7" y2="418.05" stroke="#6ab06a" stroke-width="0.8"/>
<line x1="320.5" y1="413.18" x2="324.9" y2="413.18" stroke="#6ab06a" stroke-width="0.8"/>
<line x1="320.5" y1="418.05" x2="324.9" y2="418.05" stroke="#6ab06a" stroke-width="0.8"/>
<line x1="338.4" y1="401.36" x2="338.4" y2="406.23" stroke="#6ab06a" stroke-width="0.8"/>
<line x1="336.2" y1="401.36" x2="340.6" y2="401.36" stroke="#6ab06a" stroke-width="0.8"/>
<line x1="336.2" y1="406.23" x2="340.6" y2="406.23" stroke="#6ab06a" stroke-width="0.8"/>
<line x1="354.2" y1="382.34" x2="354.2" y2="394.53" stroke="#6ab06a" stroke-width="0.8"/>
<line x1="352" y1="382.34" x2="356.4" y2="382.34" stroke="#6ab06a" stroke-width="0.8"/>
<line x1="352" y1="394.53" x2="356.4" y2="394.53" stroke="#6ab06a" stroke-width="0.8"/>
<line x1="370" y1="363.33" x2="370" y2="375.52" stroke="#6ab06a" stroke-width="0.8"/>
<line x1="367.8" y1="363.33" x2="372.2" y2="363.33" stroke="#6ab06a" stroke-width="0.8"/>
<line x1="367.8" y1="375.52" x2="372.2" y2="375.52" stroke="#6ab06a" stroke-width="0.8"/>
<line x1="385.7" y1="314.46" x2="385.7" y2="343.71" stroke="#6ab06a" stroke-width="0.8"/>
<line x1="383.5" y1="314.46" x2="387.9" y2="314.46" stroke="#6ab06a" stroke-width="0.8"/>
<line x1="383.5" y1="343.71" x2="387.9" y2="343.71" stroke="#6ab06a" stroke-width="0.8"/>
<line x1="166.1" y1="444.86" x2="166.1" y2="447.3" stroke="#80f4f4" stroke-width="0.8"/>
<line x1="163.9" y1="444.86" x2="168.3" y2="444.86" stroke="#80f4f4" stroke-width="0.8"/>
<line x1="163.9" y1="447.3" x2="168.3" y2="447.3" stroke="#80f4f4" stroke-width="0.8"/>
<line x1="181.9" y1="444.25" x2="181.9" y2="446.69" stroke="#80f4f4" stroke-width="0.8"/>
<line x1="179.7" y1="444.25" x2="184.1" y2="444.25" stroke="#80f4f4" stroke-width="0.8"/>
<line x1="179.7" y1="446.69" x2="184.1" y2="446.69" stroke="#80f4f4" stroke-width="0.8"/>
<line x1="197.8" y1="443.64" x2="197.8" y2="446.08" stroke="#80f4f4" stroke-width="0.8"/>
<line x1="195.6" y1="443.64" x2="200" y2="443.64" stroke="#80f4f4" stroke-width="0.8"/>
<line x1="195.6" y1="446.08" x2="200" y2="446.08" stroke="#80f4f4" stroke-width="0.8"/>
<line x1="218.7" y1="443.03" x2="218.7" y2="445.47" stroke="#80f4f4" stroke-width="0.8"/>
<line x1="216.5" y1="443.03" x2="220.9" y2="443.03" stroke="#80f4f4" stroke-width="0.8"/>
<line x1="216.5" y1="445.47" x2="220.9" y2="445.47" stroke="#80f4f4" stroke-width="0.8"/>
<line x1="234.1" y1="438.77" x2="234.1" y2="443.64" stroke="#80f4f4" stroke-width="0.8"/>
<line x1="231.9" y1="438.77" x2="236.3" y2="438.77" stroke="#80f4f4" stroke-width="0.8"/>
<line x1="231.9" y1="443.64" x2="236.3" y2="443.64" stroke="#80f4f4" stroke-width="0.8"/>
<line x1="249.6" y1="430.24" x2="249.6" y2="435.11" stroke="#80f4f4" stroke-width="0.8"/>
<line x1="247.4" y1="430.24" x2="251.8" y2="430.24" stroke="#80f4f4" stroke-width="0.8"/>
<line x1="247.4" y1="435.11" x2="251.8" y2="435.11" stroke="#80f4f4" stroke-width="0.8"/>
<line x1="258.8" y1="422.8" x2="258.8" y2="430.12" stroke="#80f4f4" stroke-width="0.8"/>
<line x1="256.6" y1="422.8" x2="261" y2="422.8" stroke="#80f4f4" stroke-width="0.8"/>
<line x1="256.6" y1="430.12" x2="261" y2="430.12" stroke="#80f4f4" stroke-width="0.8"/>
<line x1="270.7" y1="410.13" x2="270.7" y2="417.44" stroke="#80f4f4" stroke-width="0.8"/>
<line x1="268.5" y1="410.13" x2="272.9" y2="410.13" stroke="#80f4f4" stroke-width="0.8"/>
<line x1="268.5" y1="417.44" x2="272.9" y2="417.44" stroke="#80f4f4" stroke-width="0.8"/>
<line x1="283.7" y1="392.09" x2="283.7" y2="399.41" stroke="#80f4f4" stroke-width="0.8"/>
<line x1="281.5" y1="392.09" x2="285.9" y2="392.09" stroke="#80f4f4" stroke-width="0.8"/>
<line x1="281.5" y1="399.41" x2="285.9" y2="399.41" stroke="#80f4f4" stroke-width="0.8"/>
<line x1="299.4" y1="368.08" x2="299.4" y2="375.4" stroke="#80f4f4" stroke-width="0.8"/>
<line x1="297.2" y1="368.08" x2="301.6" y2="368.08" stroke="#80f4f4" stroke-width="0.8"/>
<line x1="297.2" y1="375.4" x2="301.6" y2="375.4" stroke="#80f4f4" stroke-width="0.8"/>
<line x1="308.9" y1="348.1" x2="308.9" y2="372.47" stroke="#80f4f4" stroke-width="0.8"/>
<line x1="306.7" y1="348.1" x2="311.1" y2="348.1" stroke="#80f4f4" stroke-width="0.8"/>
<line x1="306.7" y1="372.47" x2="311.1" y2="372.47" stroke="#80f4f4" stroke-width="0.8"/>
<line x1="322.7" y1="365.89" x2="322.7" y2="385.39" stroke="#80f4f4" stroke-width="0.8"/>
<line x1="320.5" y1="365.89" x2="324.9" y2="365.89" stroke="#80f4f4" stroke-width="0.8"/>
<line x1="320.5" y1="385.39" x2="324.9" y2="385.39" stroke="#80f4f4" stroke-width="0.8"/>
<line x1="338.4" y1="344.93" x2="338.4" y2="374.18" stroke="#80f4f4" stroke-width="0.8"/>
<line x1="336.2" y1="344.93" x2="340.6" y2="344.93" stroke="#80f4f4" stroke-width="0.8"/>
<line x1="336.2" y1="374.18" x2="340.6" y2="374.18" stroke="#80f4f4" stroke-width="0.8"/>
<line x1="354.2" y1="344.44" x2="354.2" y2="359.07" stroke="#80f4f4" stroke-width="0.8"/>
<line x1="352" y1="344.44" x2="356.4" y2="344.44" stroke="#80f4f4" stroke-width="0.8"/>
<line x1="352" y1="359.07" x2="356.4" y2="359.07" stroke="#80f4f4" stroke-width="0.8"/>
<line x1="370" y1="325.8" x2="370" y2="337.98" stroke="#80f4f4" stroke-width="0.8"/>
<line x1="367.8" y1="325.8" x2="372.2" y2="325.8" stroke="#80f4f4" stroke-width="0.8"/>
<line x1="367.8" y1="337.98" x2="372.2" y2="337.98" stroke="#80f4f4" stroke-width="0.8"/>
<line x1="385.7" y1="302.15" x2="385.7" y2="314.34" stroke="#80f4f4" stroke-width="0.8"/>
<line x1="383.5" y1="302.15" x2="387.9" y2="302.15" stroke="#80f4f4" stroke-width="0.8"/>
<line x1="383.5" y1="314.34" x2="387.9" y2="314.34" stroke="#80f4f4" stroke-width="0.8"/>
<line x1="166.1" y1="446.08" x2="166.1" y2="448.52" stroke="#f47a6a" stroke-width="0.8"/>
<line x1="163.9" y1="446.08" x2="168.3" y2="446.08" stroke="#f47a6a" stroke-width="0.8"/>
<line x1="163.9" y1="448.52" x2="168.3" y2="448.52" stroke="#f47a6a" stroke-width="0.8"/>
<line x1="181.9" y1="446.08" x2="181.9" y2="448.52" stroke="#f47a6a" stroke-width="0.8"/>
<line x1="179.7" y1="446.08" x2="184.1" y2="446.08" stroke="#f47a6a" stroke-width="0.8"/>
<line x1="179.7" y1="448.52" x2="184.1" y2="448.52" stroke="#f47a6a" stroke-width="0.8"/>
<line x1="197.8" y1="446.08" x2="197.8" y2="448.52" stroke="#f47a6a" stroke-width="0.8"/>
<line x1="195.6" y1="446.08" x2="200" y2="446.08" stroke="#f47a6a" stroke-width="0.8"/>
<line x1="195.6" y1="448.52" x2="200" y2="448.52" stroke="#f47a6a" stroke-width="0.8"/>
<line x1="218.7" y1="445.47" x2="218.7" y2="447.91" stroke="#f47a6a" stroke-width="0.8"/>
<line x1="216.5" y1="445.47" x2="220.9" y2="445.47" stroke="#f47a6a" stroke-width="0.8"/>
<line x1="216.5" y1="447.91" x2="220.9" y2="447.91" stroke="#f47a6a" stroke-width="0.8"/>
<line x1="234.1" y1="444.13" x2="234.1" y2="446.57" stroke="#f47a6a" stroke-width="0.8"/>
<line x1="231.9" y1="444.13" x2="236.3" y2="444.13" stroke="#f47a6a" stroke-width="0.8"/>
<line x1="231.9" y1="446.57" x2="236.3" y2="446.57" stroke="#f47a6a" stroke-width="0.8"/>
<line x1="249.6" y1="435.11" x2="249.6" y2="442.43" stroke="#f47a6a" stroke-width="0.8"/>
<line x1="247.4" y1="435.11" x2="251.8" y2="435.11" stroke="#f47a6a" stroke-width="0.8"/>
<line x1="247.4" y1="442.43" x2="251.8" y2="442.43" stroke="#f47a6a" stroke-width="0.8"/>
<line x1="258.8" y1="424.63" x2="258.8" y2="429.51" stroke="#f47a6a" stroke-width="0.8"/>
<line x1="256.6" y1="424.63" x2="261" y2="424.63" stroke="#f47a6a" stroke-width="0.8"/>
<line x1="256.6" y1="429.51" x2="261" y2="429.51" stroke="#f47a6a" stroke-width="0.8"/>
<line x1="270.7" y1="403.79" x2="270.7" y2="408.67" stroke="#f47a6a" stroke-width="0.8"/>
<line x1="268.5" y1="403.79" x2="272.9" y2="403.79" stroke="#f47a6a" stroke-width="0.8"/>
<line x1="268.5" y1="408.67" x2="272.9" y2="408.67" stroke="#f47a6a" stroke-width="0.8"/>
<line x1="283.7" y1="381.49" x2="283.7" y2="386.37" stroke="#f47a6a" stroke-width="0.8"/>
<line x1="281.5" y1="381.49" x2="285.9" y2="381.49" stroke="#f47a6a" stroke-width="0.8"/>
<line x1="281.5" y1="386.37" x2="285.9" y2="386.37" stroke="#f47a6a" stroke-width="0.8"/>
<line x1="299.4" y1="371.98" x2="299.4" y2="379.3" stroke="#f47a6a" stroke-width="0.8"/>
<line x1="297.2" y1="371.98" x2="301.6" y2="371.98" stroke="#f47a6a" stroke-width="0.8"/>
<line x1="297.2" y1="379.3" x2="301.6" y2="379.3" stroke="#f47a6a" stroke-width="0.8"/>
<line x1="308.9" y1="371.37" x2="308.9" y2="376.25" stroke="#f47a6a" stroke-width="0.8"/>
<line x1="306.7" y1="371.37" x2="311.1" y2="371.37" stroke="#f47a6a" stroke-width="0.8"/>
<line x1="306.7" y1="376.25" x2="311.1" y2="376.25" stroke="#f47a6a" stroke-width="0.8"/>
<line x1="322.7" y1="376.74" x2="322.7" y2="386.49" stroke="#f47a6a" stroke-width="0.8"/>
<line x1="320.5" y1="376.74" x2="324.9" y2="376.74" stroke="#f47a6a" stroke-width="0.8"/>
<line x1="320.5" y1="386.49" x2="324.9" y2="386.49" stroke="#f47a6a" stroke-width="0.8"/>
<line x1="338.4" y1="374.3" x2="338.4" y2="388.92" stroke="#f47a6a" stroke-width="0.8"/>
<line x1="336.2" y1="374.3" x2="340.6" y2="374.3" stroke="#f47a6a" stroke-width="0.8"/>
<line x1="336.2" y1="388.92" x2="340.6" y2="388.92" stroke="#f47a6a" stroke-width="0.8"/>
<line x1="354.2" y1="384.42" x2="354.2" y2="396.6" stroke="#f47a6a" stroke-width="0.8"/>
<line x1="352" y1="384.42" x2="356.4" y2="384.42" stroke="#f47a6a" stroke-width="0.8"/>
<line x1="352" y1="396.6" x2="356.4" y2="396.6" stroke="#f47a6a" stroke-width="0.8"/>
<line x1="370" y1="385.02" x2="370" y2="389.9" stroke="#f47a6a" stroke-width="0.8"/>
<line x1="367.8" y1="385.02" x2="372.2" y2="385.02" stroke="#f47a6a" stroke-width="0.8"/>
<line x1="367.8" y1="389.9" x2="372.2" y2="389.9" stroke="#f47a6a" stroke-width="0.8"/>
<line x1="385.7" y1="381.49" x2="385.7" y2="386.37" stroke="#f47a6a" stroke-width="0.8"/>
<line x1="383.5" y1="381.49" x2="387.9" y2="381.49" stroke="#f47a6a" stroke-width="0.8"/>
<line x1="383.5" y1="386.37" x2="387.9" y2="386.37" stroke="#f47a6a" stroke-width="0.8"/>
<line x1="166.1" y1="442.43" x2="166.1" y2="447.3" stroke="#ff8aff" stroke-width="0.8"/>
<line x1="163.9" y1="442.43" x2="168.3" y2="442.43" stroke="#ff8aff" stroke-width="0.8"/>
<line x1="163.9" y1="447.3" x2="168.3" y2="447.3" stroke="#ff8aff" stroke-width="0.8"/>
<line x1="181.9" y1="441.21" x2="181.9" y2="446.08" stroke="#ff8aff" stroke-width="0.8"/>
<line x1="179.7" y1="441.21" x2="184.1" y2="441.21" stroke="#ff8aff" stroke-width="0.8"/>
<line x1="179.7" y1="446.08" x2="184.1" y2="446.08" stroke="#ff8aff" stroke-width="0.8"/>
<line x1="197.8" y1="439.99" x2="197.8" y2="444.86" stroke="#ff8aff" stroke-width="0.8"/>
<line x1="195.6" y1="439.99" x2="200" y2="439.99" stroke="#ff8aff" stroke-width="0.8"/>
<line x1="195.6" y1="444.86" x2="200" y2="444.86" stroke="#ff8aff" stroke-width="0.8"/>
<line x1="218.7" y1="431.46" x2="218.7" y2="438.77" stroke="#ff8aff" stroke-width="0.8"/>
<line x1="216.5" y1="431.46" x2="220.9" y2="431.46" stroke="#ff8aff" stroke-width="0.8"/>
<line x1="216.5" y1="438.77" x2="220.9" y2="438.77" stroke="#ff8aff" stroke-width="0.8"/>
<line x1="234.1" y1="424.14" x2="234.1" y2="431.46" stroke="#ff8aff" stroke-width="0.8"/>
<line x1="231.9" y1="424.14" x2="236.3" y2="424.14" stroke="#ff8aff" stroke-width="0.8"/>
<line x1="231.9" y1="431.46" x2="236.3" y2="431.46" stroke="#ff8aff" stroke-width="0.8"/>
<line x1="249.6" y1="411.96" x2="249.6" y2="421.71" stroke="#ff8aff" stroke-width="0.8"/>
<line x1="247.4" y1="411.96" x2="251.8" y2="411.96" stroke="#ff8aff" stroke-width="0.8"/>
<line x1="247.4" y1="421.71" x2="251.8" y2="421.71" stroke="#ff8aff" stroke-width="0.8"/>
<line x1="258.8" y1="391.24" x2="258.8" y2="403.43" stroke="#ff8aff" stroke-width="0.8"/>
<line x1="256.6" y1="391.24" x2="261" y2="391.24" stroke="#ff8aff" stroke-width="0.8"/>
<line x1="256.6" y1="403.43" x2="261" y2="403.43" stroke="#ff8aff" stroke-width="0.8"/>
<line x1="270.7" y1="359.68" x2="270.7" y2="366.99" stroke="#ff8aff" stroke-width="0.8"/>
<line x1="268.5" y1="359.68" x2="272.9" y2="359.68" stroke="#ff8aff" stroke-width="0.8"/>
<line x1="268.5" y1="366.99" x2="272.9" y2="366.99" stroke="#ff8aff" stroke-width="0.8"/>
<line x1="283.7" y1="331.52" x2="283.7" y2="338.84" stroke="#ff8aff" stroke-width="0.8"/>
<line x1="281.5" y1="331.52" x2="285.9" y2="331.52" stroke="#ff8aff" stroke-width="0.8"/>
<line x1="281.5" y1="338.84" x2="285.9" y2="338.84" stroke="#ff8aff" stroke-width="0.8"/>
<line x1="299.4" y1="300.45" x2="299.4" y2="310.2" stroke="#ff8aff" stroke-width="0.8"/>
<line x1="297.2" y1="300.45" x2="301.6" y2="300.45" stroke="#ff8aff" stroke-width="0.8"/>
<line x1="297.2" y1="310.2" x2="301.6" y2="310.2" stroke="#ff8aff" stroke-width="0.8"/>
<line x1="308.9" y1="275.83" x2="308.9" y2="300.2" stroke="#ff8aff" stroke-width="0.8"/>
<line x1="306.7" y1="275.83" x2="311.1" y2="275.83" stroke="#ff8aff" stroke-width="0.8"/>
<line x1="306.7" y1="300.2" x2="311.1" y2="300.2" stroke="#ff8aff" stroke-width="0.8"/>
<line x1="322.7" y1="298.62" x2="322.7" y2="322.99" stroke="#ff8aff" stroke-width="0.8"/>
<line x1="320.5" y1="298.62" x2="324.9" y2="298.62" stroke="#ff8aff" stroke-width="0.8"/>
<line x1="320.5" y1="322.99" x2="324.9" y2="322.99" stroke="#ff8aff" stroke-width="0.8"/>
<line x1="338.4" y1="292.53" x2="338.4" y2="302.27" stroke="#ff8aff" stroke-width="0.8"/>
<line x1="336.2" y1="292.53" x2="340.6" y2="292.53" stroke="#ff8aff" stroke-width="0.8"/>
<line x1="336.2" y1="302.27" x2="340.6" y2="302.27" stroke="#ff8aff" stroke-width="0.8"/>
<line x1="354.2" y1="288.87" x2="354.2" y2="296.18" stroke="#ff8aff" stroke-width="0.8"/>
<line x1="352" y1="288.87" x2="356.4" y2="288.87" stroke="#ff8aff" stroke-width="0.8"/>
<line x1="352" y1="296.18" x2="356.4" y2="296.18" stroke="#ff8aff" stroke-width="0.8"/>
<line x1="370" y1="279.97" x2="370" y2="287.28" stroke="#ff8aff" stroke-width="0.8"/>
<line x1="367.8" y1="279.97" x2="372.2" y2="279.97" stroke="#ff8aff" stroke-width="0.8"/>
<line x1="367.8" y1="287.28" x2="372.2" y2="287.28" stroke="#ff8aff" stroke-width="0.8"/>
<line x1="385.7" y1="273.03" x2="385.7" y2="280.34" stroke="#ff8aff" stroke-width="0.8"/>
<line x1="383.5" y1="273.03" x2="387.9" y2="273.03" stroke="#ff8aff" stroke-width="0.8"/>
<line x1="383.5" y1="280.34" x2="387.9" y2="280.34" stroke="#ff8aff" stroke-width="0.8"/>
<line x1="166.1" y1="441.21" x2="166.1" y2="446.08" stroke="#a07aff" stroke-width="0.8"/>
<line x1="163.9" y1="441.21" x2="168.3" y2="441.21" stroke="#a07aff" stroke-width="0.8"/>
<line x1="163.9" y1="446.08" x2="168.3" y2="446.08" stroke="#a07aff" stroke-width="0.8"/>
<line x1="181.9" y1="441.21" x2="181.9" y2="446.08" stroke="#a07aff" stroke-width="0.8"/>
<line x1="179.7" y1="441.21" x2="184.1" y2="441.21" stroke="#a07aff" stroke-width="0.8"/>
<line x1="179.7" y1="446.08" x2="184.1" y2="446.08" stroke="#a07aff" stroke-width="0.8"/>
<line x1="197.8" y1="438.77" x2="197.8" y2="443.64" stroke="#a07aff" stroke-width="0.8"/>
<line x1="195.6" y1="438.77" x2="200" y2="438.77" stroke="#a07aff" stroke-width="0.8"/>
<line x1="195.6" y1="443.64" x2="200" y2="443.64" stroke="#a07aff" stroke-width="0.8"/>
<line x1="218.7" y1="431.58" x2="218.7" y2="438.89" stroke="#a07aff" stroke-width="0.8"/>
<line x1="216.5" y1="431.58" x2="220.9" y2="431.58" stroke="#a07aff" stroke-width="0.8"/>
<line x1="216.5" y1="438.89" x2="220.9" y2="438.89" stroke="#a07aff" stroke-width="0.8"/>
<line x1="234.1" y1="424.02" x2="234.1" y2="431.34" stroke="#a07aff" stroke-width="0.8"/>
<line x1="231.9" y1="424.02" x2="236.3" y2="424.02" stroke="#a07aff" stroke-width="0.8"/>
<line x1="231.9" y1="431.34" x2="236.3" y2="431.34" stroke="#a07aff" stroke-width="0.8"/>
<line x1="249.6" y1="410.13" x2="249.6" y2="419.88" stroke="#a07aff" stroke-width="0.8"/>
<line x1="247.4" y1="410.13" x2="251.8" y2="410.13" stroke="#a07aff" stroke-width="0.8"/>
<line x1="247.4" y1="419.88" x2="251.8" y2="419.88" stroke="#a07aff" stroke-width="0.8"/>
<line x1="258.8" y1="391.24" x2="258.8" y2="398.55" stroke="#a07aff" stroke-width="0.8"/>
<line x1="256.6" y1="391.24" x2="261" y2="391.24" stroke="#a07aff" stroke-width="0.8"/>
<line x1="256.6" y1="398.55" x2="261" y2="398.55" stroke="#a07aff" stroke-width="0.8"/>
<line x1="270.7" y1="358.33" x2="270.7" y2="365.65" stroke="#a07aff" stroke-width="0.8"/>
<line x1="268.5" y1="358.33" x2="272.9" y2="358.33" stroke="#a07aff" stroke-width="0.8"/>
<line x1="268.5" y1="365.65" x2="272.9" y2="365.65" stroke="#a07aff" stroke-width="0.8"/>
<line x1="283.7" y1="318.97" x2="283.7" y2="326.28" stroke="#a07aff" stroke-width="0.8"/>
<line x1="281.5" y1="318.97" x2="285.9" y2="318.97" stroke="#a07aff" stroke-width="0.8"/>
<line x1="281.5" y1="326.28" x2="285.9" y2="326.28" stroke="#a07aff" stroke-width="0.8"/>
<line x1="299.4" y1="292.16" x2="299.4" y2="301.91" stroke="#a07aff" stroke-width="0.8"/>
<line x1="297.2" y1="292.16" x2="301.6" y2="292.16" stroke="#a07aff" stroke-width="0.8"/>
<line x1="297.2" y1="301.91" x2="301.6" y2="301.91" stroke="#a07aff" stroke-width="0.8"/>
<line x1="308.9" y1="267.05" x2="308.9" y2="296.3" stroke="#a07aff" stroke-width="0.8"/>
<line x1="306.7" y1="267.05" x2="311.1" y2="267.05" stroke="#a07aff" stroke-width="0.8"/>
<line x1="306.7" y1="296.3" x2="311.1" y2="296.3" stroke="#a07aff" stroke-width="0.8"/>
<line x1="322.7" y1="296.91" x2="322.7" y2="306.66" stroke="#a07aff" stroke-width="0.8"/>
<line x1="320.5" y1="296.91" x2="324.9" y2="296.91" stroke="#a07aff" stroke-width="0.8"/>
<line x1="320.5" y1="306.66" x2="324.9" y2="306.66" stroke="#a07aff" stroke-width="0.8"/>
<line x1="338.4" y1="290.58" x2="338.4" y2="300.32" stroke="#a07aff" stroke-width="0.8"/>
<line x1="336.2" y1="290.58" x2="340.6" y2="290.58" stroke="#a07aff" stroke-width="0.8"/>
<line x1="336.2" y1="300.32" x2="340.6" y2="300.32" stroke="#a07aff" stroke-width="0.8"/>
<line x1="354.2" y1="288.87" x2="354.2" y2="296.18" stroke="#a07aff" stroke-width="0.8"/>
<line x1="352" y1="288.87" x2="356.4" y2="288.87" stroke="#a07aff" stroke-width="0.8"/>
<line x1="352" y1="296.18" x2="356.4" y2="296.18" stroke="#a07aff" stroke-width="0.8"/>
<line x1="370" y1="289.48" x2="370" y2="296.79" stroke="#a07aff" stroke-width="0.8"/>
<line x1="367.8" y1="289.48" x2="372.2" y2="289.48" stroke="#a07aff" stroke-width="0.8"/>
<line x1="367.8" y1="296.79" x2="372.2" y2="296.79" stroke="#a07aff" stroke-width="0.8"/>
<line x1="385.7" y1="281.56" x2="385.7" y2="288.87" stroke="#a07aff" stroke-width="0.8"/>
<line x1="383.5" y1="281.56" x2="387.9" y2="281.56" stroke="#a07aff" stroke-width="0.8"/>
<line x1="383.5" y1="288.87" x2="387.9" y2="288.87" stroke="#a07aff" stroke-width="0.8"/>
<line x1="166.1" y1="438.4" x2="166.1" y2="443.28" stroke="#6a80ff" stroke-width="0.8"/>
<line x1="163.9" y1="438.4" x2="168.3" y2="438.4" stroke="#6a80ff" stroke-width="0.8"/>
<line x1="163.9" y1="443.28" x2="168.3" y2="443.28" stroke="#6a80ff" stroke-width="0.8"/>
<line x1="181.9" y1="439.99" x2="181.9" y2="444.86" stroke="#6a80ff" stroke-width="0.8"/>
<line x1="179.7" y1="439.99" x2="184.1" y2="439.99" stroke="#6a80ff" stroke-width="0.8"/>
<line x1="179.7" y1="444.86" x2="184.1" y2="444.86" stroke="#6a80ff" stroke-width="0.8"/>
<line x1="197.8" y1="434.02" x2="197.8" y2="438.89" stroke="#6a80ff" stroke-width="0.8"/>
<line x1="195.6" y1="434.02" x2="200" y2="434.02" stroke="#6a80ff" stroke-width="0.8"/>
<line x1="195.6" y1="438.89" x2="200" y2="438.89" stroke="#6a80ff" stroke-width="0.8"/>
<line x1="218.7" y1="429.75" x2="218.7" y2="437.06" stroke="#6a80ff" stroke-width="0.8"/>
<line x1="216.5" y1="429.75" x2="220.9" y2="429.75" stroke="#6a80ff" stroke-width="0.8"/>
<line x1="216.5" y1="437.06" x2="220.9" y2="437.06" stroke="#6a80ff" stroke-width="0.8"/>
<line x1="234.1" y1="390.63" x2="234.1" y2="415" stroke="#6a80ff" stroke-width="0.8"/>
<line x1="231.9" y1="390.63" x2="236.3" y2="390.63" stroke="#6a80ff" stroke-width="0.8"/>
<line x1="231.9" y1="415" x2="236.3" y2="415" stroke="#6a80ff" stroke-width="0.8"/>
<line x1="249.6" y1="397.33" x2="249.6" y2="409.52" stroke="#6a80ff" stroke-width="0.8"/>
<line x1="247.4" y1="397.33" x2="251.8" y2="397.33" stroke="#6a80ff" stroke-width="0.8"/>
<line x1="247.4" y1="409.52" x2="251.8" y2="409.52" stroke="#6a80ff" stroke-width="0.8"/>
<line x1="258.8" y1="377.22" x2="258.8" y2="384.54" stroke="#6a80ff" stroke-width="0.8"/>
<line x1="256.6" y1="377.22" x2="261" y2="377.22" stroke="#6a80ff" stroke-width="0.8"/>
<line x1="256.6" y1="384.54" x2="261" y2="384.54" stroke="#6a80ff" stroke-width="0.8"/>
<line x1="270.7" y1="351.02" x2="270.7" y2="358.33" stroke="#6a80ff" stroke-width="0.8"/>
<line x1="268.5" y1="351.02" x2="272.9" y2="351.02" stroke="#6a80ff" stroke-width="0.8"/>
<line x1="268.5" y1="358.33" x2="272.9" y2="358.33" stroke="#6a80ff" stroke-width="0.8"/>
<line x1="283.7" y1="331.16" x2="283.7" y2="338.47" stroke="#6a80ff" stroke-width="0.8"/>
<line x1="281.5" y1="331.16" x2="285.9" y2="331.16" stroke="#6a80ff" stroke-width="0.8"/>
<line x1="281.5" y1="338.47" x2="285.9" y2="338.47" stroke="#6a80ff" stroke-width="0.8"/>
<line x1="299.4" y1="308.37" x2="299.4" y2="337.62" stroke="#6a80ff" stroke-width="0.8"/>
<line x1="297.2" y1="308.37" x2="301.6" y2="308.37" stroke="#6a80ff" stroke-width="0.8"/>
<line x1="297.2" y1="337.62" x2="301.6" y2="337.62" stroke="#6a80ff" stroke-width="0.8"/>
<line x1="308.9" y1="313.49" x2="308.9" y2="325.67" stroke="#6a80ff" stroke-width="0.8"/>
<line x1="306.7" y1="313.49" x2="311.1" y2="313.49" stroke="#6a80ff" stroke-width="0.8"/>
<line x1="306.7" y1="325.67" x2="311.1" y2="325.67" stroke="#6a80ff" stroke-width="0.8"/>
<line x1="322.7" y1="298.01" x2="322.7" y2="322.38" stroke="#6a80ff" stroke-width="0.8"/>
<line x1="320.5" y1="298.01" x2="324.9" y2="298.01" stroke="#6a80ff" stroke-width="0.8"/>
<line x1="320.5" y1="322.38" x2="324.9" y2="322.38" stroke="#6a80ff" stroke-width="0.8"/>
<line x1="338.4" y1="283.26" x2="338.4" y2="307.64" stroke="#6a80ff" stroke-width="0.8"/>
<line x1="336.2" y1="283.26" x2="340.6" y2="283.26" stroke="#6a80ff" stroke-width="0.8"/>
<line x1="336.2" y1="307.64" x2="340.6" y2="307.64" stroke="#6a80ff" stroke-width="0.8"/>
<line x1="354.2" y1="290.7" x2="354.2" y2="310.2" stroke="#6a80ff" stroke-width="0.8"/>
<line x1="352" y1="290.7" x2="356.4" y2="290.7" stroke="#6a80ff" stroke-width="0.8"/>
<line x1="352" y1="310.2" x2="356.4" y2="310.2" stroke="#6a80ff" stroke-width="0.8"/>
<line x1="370" y1="283.99" x2="370" y2="303.49" stroke="#6a80ff" stroke-width="0.8"/>
<line x1="367.8" y1="283.99" x2="372.2" y2="283.99" stroke="#6a80ff" stroke-width="0.8"/>
<line x1="367.8" y1="303.49" x2="372.2" y2="303.49" stroke="#6a80ff" stroke-width="0.8"/>
<line x1="385.7" y1="279.97" x2="385.7" y2="292.16" stroke="#6a80ff" stroke-width="0.8"/>
<line x1="383.5" y1="279.97" x2="387.9" y2="279.97" stroke="#6a80ff" stroke-width="0.8"/>
<line x1="383.5" y1="292.16" x2="387.9" y2="292.16" stroke="#6a80ff" stroke-width="0.8"/>
<circle cx="166.1" cy="449.98" r="2.5" fill="#17891a"/>
<circle cx="181.9" cy="449.13" r="2.5" fill="#17891a"/>
<circle cx="197.8" cy="447.3" r="2.5" fill="#17891a"/>
<circle cx="218.7" cy="446.69" r="2.5" fill="#17891a"/>
<circle cx="234.1" cy="446.08" r="2.5" fill="#17891a"/>
<circle cx="249.6" cy="432.07" r="2.5" fill="#17891a"/>
<circle cx="258.8" cy="438.28" r="2.5" fill="#17891a"/>
<circle cx="270.7" cy="428.78" r="2.5" fill="#17891a"/>
<circle cx="283.7" cy="423.54" r="2.5" fill="#17891a"/>
<circle cx="299.4" cy="416.47" r="2.5" fill="#17891a"/>
<circle cx="308.9" cy="408.55" r="2.5" fill="#17891a"/>
<circle cx="322.7" cy="415.61" r="2.5" fill="#17891a"/>
<circle cx="338.4" cy="403.79" r="2.5" fill="#17891a"/>
<circle cx="354.2" cy="388.44" r="2.5" fill="#17891a"/>
<circle cx="370" cy="369.43" r="2.5" fill="#17891a"/>
<circle cx="385.7" cy="329.09" r="2.5" fill="#17891a"/>
<circle cx="166.1" cy="446.08" r="2.5" fill="#1ef0f0"/>
<circle cx="181.9" cy="445.47" r="2.5" fill="#1ef0f0"/>
<circle cx="197.8" cy="444.86" r="2.5" fill="#1ef0f0"/>
<circle cx="218.7" cy="444.25" r="2.5" fill="#1ef0f0"/>
<circle cx="234.1" cy="441.21" r="2.5" fill="#1ef0f0"/>
<circle cx="249.6" cy="432.68" r="2.5" fill="#1ef0f0"/>
<circle cx="258.8" cy="426.46" r="2.5" fill="#1ef0f0"/>
<circle cx="270.7" cy="413.79" r="2.5" fill="#1ef0f0"/>
<circle cx="283.7" cy="395.75" r="2.5" fill="#1ef0f0"/>
<circle cx="299.4" cy="371.74" r="2.5" fill="#1ef0f0"/>
<circle cx="308.9" cy="360.28" r="2.5" fill="#1ef0f0"/>
<circle cx="322.7" cy="375.64" r="2.5" fill="#1ef0f0"/>
<circle cx="338.4" cy="359.55" r="2.5" fill="#1ef0f0"/>
<circle cx="354.2" cy="351.75" r="2.5" fill="#1ef0f0"/>
<circle cx="370" cy="331.89" r="2.5" fill="#1ef0f0"/>
<circle cx="385.7" cy="308.25" r="2.5" fill="#1ef0f0"/>
<circle cx="166.1" cy="447.3" r="2.5" fill="#ff2a06"/>
<circle cx="181.9" cy="447.3" r="2.5" fill="#ff2a06"/>
<circle cx="197.8" cy="447.3" r="2.5" fill="#ff2a06"/>
<circle cx="218.7" cy="446.69" r="2.5" fill="#ff2a06"/>
<circle cx="234.1" cy="445.35" r="2.5" fill="#ff2a06"/>
<circle cx="249.6" cy="438.77" r="2.5" fill="#ff2a06"/>
<circle cx="258.8" cy="427.07" r="2.5" fill="#ff2a06"/>
<circle cx="270.7" cy="406.23" r="2.5" fill="#ff2a06"/>
<circle cx="283.7" cy="383.93" r="2.5" fill="#ff2a06"/>
<circle cx="299.4" cy="375.64" r="2.5" fill="#ff2a06"/>
<circle cx="308.9" cy="373.81" r="2.5" fill="#ff2a06"/>
<circle cx="322.7" cy="381.61" r="2.5" fill="#ff2a06"/>
<circle cx="338.4" cy="381.61" r="2.5" fill="#ff2a06"/>
<circle cx="354.2" cy="390.51" r="2.5" fill="#ff2a06"/>
<circle cx="370" cy="387.46" r="2.5" fill="#ff2a06"/>
<circle cx="385.7" cy="383.93" r="2.5" fill="#ff2a06"/>
<circle cx="166.1" cy="444.86" r="2.5" fill="#ff40ff"/>
<circle cx="181.9" cy="443.64" r="2.5" fill="#ff40ff"/>
<circle cx="197.8" cy="442.43" r="2.5" fill="#ff40ff"/>
<circle cx="218.7" cy="435.11" r="2.5" fill="#ff40ff"/>
<circle cx="234.1" cy="427.8" r="2.5" fill="#ff40ff"/>
<circle cx="249.6" cy="416.83" r="2.5" fill="#ff40ff"/>
<circle cx="258.8" cy="397.33" r="2.5" fill="#ff40ff"/>
<circle cx="270.7" cy="363.33" r="2.5" fill="#ff40ff"/>
<circle cx="283.7" cy="335.18" r="2.5" fill="#ff40ff"/>
<circle cx="299.4" cy="305.32" r="2.5" fill="#ff40ff"/>
<circle cx="308.9" cy="288.02" r="2.5" fill="#ff40ff"/>
<circle cx="322.7" cy="310.81" r="2.5" fill="#ff40ff"/>
<circle cx="338.4" cy="297.4" r="2.5" fill="#ff40ff"/>
<circle cx="354.2" cy="292.53" r="2.5" fill="#ff40ff"/>
<circle cx="370" cy="283.63" r="2.5" fill="#ff40ff"/>
<circle cx="385.7" cy="276.68" r="2.5" fill="#ff40ff"/>
<circle cx="166.1" cy="443.64" r="2.5" fill="#8a46ff"/>
<circle cx="181.9" cy="443.64" r="2.5" fill="#8a46ff"/>
<circle cx="197.8" cy="441.21" r="2.5" fill="#8a46ff"/>
<circle cx="218.7" cy="435.23" r="2.5" fill="#8a46ff"/>
<circle cx="234.1" cy="427.68" r="2.5" fill="#8a46ff"/>
<circle cx="249.6" cy="415" r="2.5" fill="#8a46ff"/>
<circle cx="258.8" cy="394.9" r="2.5" fill="#8a46ff"/>
<circle cx="270.7" cy="361.99" r="2.5" fill="#8a46ff"/>
<circle cx="283.7" cy="322.63" r="2.5" fill="#8a46ff"/>
<circle cx="299.4" cy="297.03" r="2.5" fill="#8a46ff"/>
<circle cx="308.9" cy="281.68" r="2.5" fill="#8a46ff"/>
<circle cx="322.7" cy="301.79" r="2.5" fill="#8a46ff"/>
<circle cx="338.4" cy="295.45" r="2.5" fill="#8a46ff"/>
<circle cx="354.2" cy="292.53" r="2.5" fill="#8a46ff"/>
<circle cx="370" cy="293.13" r="2.5" fill="#8a46ff"/>
<circle cx="385.7" cy="285.21" r="2.5" fill="#8a46ff"/>
<circle cx="166.1" cy="440.84" r="2.5" fill="#1f45ff"/>
<circle cx="181.9" cy="442.43" r="2.5" fill="#1f45ff"/>
<circle cx="197.8" cy="436.45" r="2.5" fill="#1f45ff"/>
<circle cx="218.7" cy="433.41" r="2.5" fill="#1f45ff"/>
<circle cx="234.1" cy="402.82" r="2.5" fill="#1f45ff"/>
<circle cx="249.6" cy="403.43" r="2.5" fill="#1f45ff"/>
<circle cx="258.8" cy="380.88" r="2.5" fill="#1f45ff"/>
<circle cx="270.7" cy="354.68" r="2.5" fill="#1f45ff"/>
<circle cx="283.7" cy="334.81" r="2.5" fill="#1f45ff"/>
<circle cx="299.4" cy="322.99" r="2.5" fill="#1f45ff"/>
<circle cx="308.9" cy="319.58" r="2.5" fill="#1f45ff"/>
<circle cx="322.7" cy="310.2" r="2.5" fill="#1f45ff"/>
<circle cx="338.4" cy="295.45" r="2.5" fill="#1f45ff"/>
<circle cx="354.2" cy="300.45" r="2.5" fill="#1f45ff"/>
<circle cx="370" cy="293.74" r="2.5" fill="#1f45ff"/>
<circle cx="385.7" cy="286.07" r="2.5" fill="#1f45ff"/>
<polyline points="165,446.75 167.25,446.75 169.49,446.75 171.74,446.74 173.99,446.74 176.24,446.74 178.48,446.73 180.73,446.73 182.98,446.73 185.23,446.72 187.47,446.71 189.72,446.71 191.97,446.7 194.22,446.69 196.46,446.68 198.71,446.67 200.96,446.66 203.21,446.65 205.45,446.63 207.7,446.61 209.95,446.6 212.2,446.57 214.44,446.55 216.69,446.52 218.94,446.49 221.19,446.46 223.43,446.42 225.68,446.38 227.93,446.33 230.18,446.28 232.42,446.22 234.67,446.16 236.92,446.08 239.17,446 241.41,445.91 243.66,445.8 245.91,445.69 248.16,445.56 250.4,445.41 252.65,445.25 254.9,445.06 257.15,444.86 259.39,444.63 261.64,444.38 263.89,444.1 266.14,443.78 268.38,443.43 270.63,443.04 272.88,442.6 275.13,442.11 277.37,441.58 279.62,440.98 281.87,440.32 284.12,439.59 286.36,438.78 288.61,437.89 290.86,436.91 293.11,435.83 295.35,434.65 297.6,433.36 299.85,431.96 302.1,430.43 304.34,428.78 306.59,426.99 308.84,425.08 311.09,423.02 313.33,420.84 315.58,418.51 317.83,416.06 320.08,413.49 322.32,410.8 324.57,408.01 326.82,405.13 329.07,402.17 331.31,399.16 333.56,396.1 335.81,393.03 338.06,389.96 340.3,386.91 342.55,383.9 344.8,380.94 347.05,378.07 349.29,375.28 351.54,372.6 353.79,370.04 356.04,367.59 358.28,365.28 360.53,363.1 362.78,361.06 365.03,359.15 367.27,357.38 369.52,355.73 371.77,354.22 374.02,352.82 376.26,351.54 378.51,350.37 380.76,349.3 383.01,348.32 385.25,347.44 387.5,346.64" fill="none" stroke="#17891a" stroke-width="1.6" stroke-linejoin="round"/>
<polyline points="165,446.24 167.25,446.21 169.49,446.18 171.74,446.14 173.99,446.1 176.24,446.05 178.48,446 180.73,445.95 182.98,445.89 185.23,445.82 187.47,445.74 189.72,445.65 191.97,445.56 194.22,445.45 196.46,445.33 198.71,445.2 200.96,445.06 203.21,444.9 205.45,444.72 207.7,444.52 209.95,444.3 212.2,444.05 214.44,443.78 216.69,443.48 218.94,443.14 221.19,442.77 223.43,442.36 225.68,441.91 227.93,441.41 230.18,440.86 232.42,440.25 234.67,439.58 236.92,438.85 239.17,438.04 241.41,437.16 243.66,436.19 245.91,435.13 248.16,433.97 250.4,432.71 252.65,431.35 254.9,429.87 257.15,428.28 259.39,426.56 261.64,424.72 263.89,422.75 266.14,420.65 268.38,418.42 270.63,416.07 272.88,413.59 275.13,410.99 277.37,408.29 279.62,405.49 281.87,402.59 284.12,399.63 286.36,396.6 288.61,393.53 290.86,390.43 293.11,387.33 295.35,384.23 297.6,381.16 299.85,378.14 302.1,375.17 304.34,372.29 306.59,369.49 308.84,366.79 311.09,364.2 313.33,361.73 315.58,359.38 317.83,357.15 320.08,355.06 322.32,353.1 324.57,351.26 326.82,349.55 329.07,347.96 331.31,346.49 333.56,345.13 335.81,343.87 338.06,342.72 340.3,341.67 342.55,340.7 344.8,339.82 347.05,339.01 349.29,338.28 351.54,337.62 353.79,337.01 356.04,336.46 358.28,335.97 360.53,335.51 362.78,335.11 365.03,334.74 367.27,334.41 369.52,334.11 371.77,333.84 374.02,333.59 376.26,333.37 378.51,333.17 380.76,332.99 383.01,332.83 385.25,332.69 387.5,332.56" fill="none" stroke="#1ef0f0" stroke-width="1.6" stroke-linejoin="round"/>
<polyline points="165,447.49 167.25,447.49 169.49,447.49 171.74,447.49 173.99,447.49 176.24,447.49 178.48,447.48 180.73,447.48 182.98,447.48 185.23,447.47 187.47,447.47 189.72,447.46 191.97,447.45 194.22,447.44 196.46,447.42 198.71,447.41 200.96,447.38 203.21,447.36 205.45,447.32 207.7,447.28 209.95,447.23 212.2,447.16 214.44,447.08 216.69,446.97 218.94,446.84 221.19,446.69 223.43,446.49 225.68,446.24 227.93,445.94 230.18,445.56 232.42,445.1 234.67,444.53 236.92,443.84 239.17,442.99 241.41,441.97 243.66,440.74 245.91,439.27 248.16,437.53 250.4,435.51 252.65,433.17 254.9,430.53 257.15,427.59 259.39,424.37 261.64,420.94 263.89,417.35 266.14,413.69 268.38,410.06 270.63,406.52 272.88,403.17 275.13,400.06 277.37,397.24 279.62,394.72 281.87,392.52 284.12,390.61 286.36,388.99 288.61,387.62 290.86,386.48 293.11,385.53 295.35,384.75 297.6,384.11 299.85,383.59 302.1,383.16 304.34,382.82 306.59,382.54 308.84,382.31 311.09,382.13 313.33,381.99 315.58,381.87 317.83,381.78 320.08,381.7 322.32,381.64 324.57,381.59 326.82,381.55 329.07,381.52 331.31,381.49 333.56,381.47 335.81,381.46 338.06,381.44 340.3,381.43 342.55,381.43 344.8,381.42 347.05,381.41 349.29,381.41 351.54,381.41 353.79,381.4 356.04,381.4 358.28,381.4 360.53,381.4 362.78,381.4 365.03,381.4 367.27,381.4 369.52,381.4 371.77,381.39 374.02,381.39 376.26,381.39 378.51,381.39 380.76,381.39 383.01,381.39 385.25,381.39 387.5,381.39" fill="none" stroke="#ff2a06" stroke-width="1.6" stroke-linejoin="round"/>
<polyline points="165,444.52 167.25,444.42 169.49,444.31 171.74,444.19 173.99,444.05 176.24,443.9 178.48,443.74 180.73,443.55 182.98,443.34 185.23,443.11 187.47,442.85 189.72,442.57 191.97,442.25 194.22,441.89 196.46,441.5 198.71,441.06 200.96,440.57 203.21,440.03 205.45,439.43 207.7,438.77 209.95,438.04 212.2,437.22 214.44,436.32 216.69,435.33 218.94,434.24 221.19,433.04 223.43,431.72 225.68,430.27 227.93,428.68 230.18,426.95 232.42,425.07 234.67,423.02 236.92,420.79 239.17,418.39 241.41,415.8 243.66,413.02 245.91,410.05 248.16,406.88 250.4,403.52 252.65,399.97 254.9,396.24 257.15,392.33 259.39,388.27 261.64,384.07 263.89,379.75 266.14,375.32 268.38,370.82 270.63,366.27 272.88,361.69 275.13,357.12 277.37,352.59 279.62,348.11 281.87,343.72 284.12,339.44 286.36,335.28 288.61,331.28 290.86,327.44 293.11,323.77 295.35,320.29 297.6,317 299.85,313.91 302.1,311.01 304.34,308.3 306.59,305.78 308.84,303.44 311.09,301.28 313.33,299.3 315.58,297.47 317.83,295.79 320.08,294.26 322.32,292.86 324.57,291.58 326.82,290.42 329.07,289.37 331.31,288.41 333.56,287.55 335.81,286.76 338.06,286.05 340.3,285.42 342.55,284.84 344.8,284.32 347.05,283.85 349.29,283.43 351.54,283.05 353.79,282.71 356.04,282.4 358.28,282.13 360.53,281.88 362.78,281.66 365.03,281.46 367.27,281.28 369.52,281.12 371.77,280.97 374.02,280.84 376.26,280.73 378.51,280.62 380.76,280.53 383.01,280.45 385.25,280.37 387.5,280.3" fill="none" stroke="#ff40ff" stroke-width="1.6" stroke-linejoin="round"/>
<polyline points="165,443.76 167.25,443.66 169.49,443.54 171.74,443.42 173.99,443.28 176.24,443.12 178.48,442.95 180.73,442.75 182.98,442.54 185.23,442.3 187.47,442.03 189.72,441.73 191.97,441.4 194.22,441.03 196.46,440.62 198.71,440.16 200.96,439.65 203.21,439.09 205.45,438.46 207.7,437.77 209.95,437 212.2,436.16 214.44,435.22 216.69,434.19 218.94,433.05 221.19,431.8 223.43,430.42 225.68,428.91 227.93,427.27 230.18,425.47 232.42,423.51 234.67,421.39 236.92,419.08 239.17,416.6 241.41,413.93 243.66,411.07 245.91,408.01 248.16,404.76 250.4,401.33 252.65,397.7 254.9,393.91 257.15,389.95 259.39,385.84 261.64,381.61 263.89,377.27 266.14,372.84 268.38,368.35 270.63,363.83 272.88,359.31 275.13,354.81 277.37,350.36 279.62,345.98 281.87,341.71 284.12,337.56 286.36,333.55 288.61,329.7 290.86,326.02 293.11,322.52 295.35,319.21 297.6,316.09 299.85,313.17 302.1,310.43 304.34,307.89 306.59,305.53 308.84,303.35 311.09,301.33 313.33,299.48 315.58,297.79 317.83,296.23 320.08,294.82 322.32,293.53 324.57,292.35 326.82,291.28 329.07,290.32 331.31,289.44 333.56,288.65 335.81,287.93 338.06,287.29 340.3,286.7 342.55,286.18 344.8,285.7 347.05,285.28 349.29,284.9 351.54,284.55 353.79,284.24 356.04,283.96 358.28,283.71 360.53,283.49 362.78,283.29 365.03,283.11 367.27,282.95 369.52,282.8 371.77,282.67 374.02,282.56 376.26,282.45 378.51,282.36 380.76,282.27 383.01,282.2 385.25,282.13 387.5,282.07" fill="none" stroke="#8a46ff" stroke-width="1.6" stroke-linejoin="round"/>
<polyline points="165,442.91 167.25,442.8 169.49,442.67 171.74,442.53 173.99,442.37 176.24,442.19 178.48,441.99 180.73,441.77 182.98,441.52 185.23,441.24 187.47,440.93 189.72,440.59 191.97,440.21 194.22,439.78 196.46,439.31 198.71,438.79 200.96,438.2 203.21,437.55 205.45,436.84 207.7,436.04 209.95,435.17 212.2,434.2 214.44,433.13 216.69,431.95 218.94,430.66 221.19,429.24 223.43,427.69 225.68,425.99 227.93,424.15 230.18,422.15 232.42,419.98 234.67,417.63 236.92,415.12 239.17,412.42 241.41,409.54 243.66,406.48 245.91,403.25 248.16,399.85 250.4,396.29 252.65,392.58 254.9,388.74 257.15,384.78 259.39,380.74 261.64,376.62 263.89,372.46 266.14,368.28 268.38,364.11 270.63,359.97 272.88,355.88 275.13,351.89 277.37,347.99 279.62,344.22 281.87,340.59 284.12,337.12 286.36,333.81 288.61,330.67 290.86,327.71 293.11,324.93 295.35,322.33 297.6,319.91 299.85,317.66 302.1,315.59 304.34,313.67 306.59,311.91 308.84,310.29 311.09,308.82 313.33,307.47 315.58,306.24 317.83,305.12 320.08,304.11 322.32,303.19 324.57,302.36 326.82,301.61 329.07,300.93 331.31,300.32 333.56,299.77 335.81,299.27 338.06,298.83 340.3,298.43 342.55,298.07 344.8,297.74 347.05,297.45 349.29,297.19 351.54,296.96 353.79,296.75 356.04,296.56 358.28,296.39 360.53,296.24 362.78,296.11 365.03,295.99 367.27,295.88 369.52,295.78 371.77,295.69 374.02,295.62 376.26,295.55 378.51,295.49 380.76,295.43 383.01,295.38 385.25,295.34 387.5,295.3" fill="none" stroke="#1f45ff" stroke-width="1.6" stroke-linejoin="round"/>
<path d="M157.9,278.8 L160.6,278.8 L163.4,274.6 L166.2,278.8 L176.1,278.8 L178.9,274.6 L181.7,278.8 L197.9,278.8 A3.6,3.6 0 1 1 205.1,278.8 L220.53,278.8 A5.0,5.0 0 1 1 220.53,284.6 L157.9,284.6" fill="none" stroke="#1f45ff" stroke-width="1.6"/>
<text x="234.3" y="284.6" font-size="9.2" fill="#1f45ff">WT</text>
<path d="M157.9,294.8 L160.6,294.8 L163.4,290.6 L166.2,294.8 L176.1,294.8 L178.9,290.6 L181.7,294.8 L190.63,294.8 A5.0,5.0 0 1 1 190.63,300.6 L157.9,300.6" fill="none" stroke="#ff40ff" stroke-width="1.6"/>
<text x="234.3" y="299.6" font-size="9.2" fill="#ff40ff">Δ23-39</text>
<path d="M166.1,313.4 L176.1,313.4 L178.9,309.2 L181.7,313.4 L197.9,313.4 A3.6,3.6 0 1 1 205.1,313.4 L220.53,313.4 A5.0,5.0 0 1 1 220.53,319.2 L166.1,319.2" fill="none" stroke="#8a46ff" stroke-width="1.6"/>
<text x="234.3" y="320" font-size="9.2" fill="#8a46ff">Δ4bp</text>
<path d="M181.3,330.6 L197.9,330.6 A3.6,3.6 0 1 1 205.1,330.6 L220.53,330.6 A5.0,5.0 0 1 1 220.53,336.4 L181.3,336.4" fill="none" stroke="#1ef0f0" stroke-width="1.6"/>
<text x="234.3" y="336.5" font-size="9.2" fill="#2bc4c4">Δ9bp</text>
<path d="M192.1,347.7 L197.9,347.7 A3.6,3.6 0 1 1 205.1,347.7 L220.53,347.7 A5.0,5.0 0 1 1 220.53,353.5 L192.1,353.5" fill="none" stroke="#17891a" stroke-width="1.6"/>
<text x="234.3" y="352.1" font-size="9.2" fill="#17891a">Δ14bp</text>
<text x="332.4" y="260.9" font-size="9.7" fill="#ff40ff">TAR<tspan font-size="6.2" dy="-2.46">Δ23-39</tspan></text>
<text x="332.4" y="277.3" font-size="9.7" fill="#8a46ff">TAR<tspan font-size="6.25" dy="-2.22">Δ4bp</tspan></text>
<text x="333.1" y="323.3" font-size="9.9" fill="#1f45ff">TAR<tspan font-size="5.9" dy="-2.58">WT(2GC)</tspan></text>
<text x="332.4" y="335.1" font-size="9.9" fill="#2bc4c4">TAR<tspan font-size="6.1" dy="-2.73">Δ9bp</tspan></text>
<text x="298.4" y="396.4" font-size="10.1" fill="#e8404a">VA-I</text>
<text x="330.1" y="423.8" font-size="9.8" fill="#17891a">TAR<tspan font-size="6.3" dy="-2.09">Δ14bp</tspan></text>
<text x="-0.5" y="503.6" font-size="18.5" fill="#111" font-weight="bold">e</text>
<line x1="28" y1="548.5" x2="254.3" y2="548.5" stroke="#111" stroke-width="1.0"/>
<line x1="254.3" y1="548.5" x2="254.3" y2="543.5" stroke="#111" stroke-width="1"/>
<line x1="226.61" y1="548.5" x2="226.61" y2="545.5" stroke="#111" stroke-width="0.9"/>
<line x1="210.4" y1="548.5" x2="210.4" y2="545.5" stroke="#111" stroke-width="0.9"/>
<line x1="198.91" y1="548.5" x2="198.91" y2="545.5" stroke="#111" stroke-width="0.9"/>
<line x1="189.99" y1="548.5" x2="189.99" y2="545.5" stroke="#111" stroke-width="0.9"/>
<line x1="182.71" y1="548.5" x2="182.71" y2="545.5" stroke="#111" stroke-width="0.9"/>
<line x1="176.55" y1="548.5" x2="176.55" y2="545.5" stroke="#111" stroke-width="0.9"/>
<line x1="171.22" y1="548.5" x2="171.22" y2="545.5" stroke="#111" stroke-width="0.9"/>
<line x1="166.51" y1="548.5" x2="166.51" y2="545.5" stroke="#111" stroke-width="0.9"/>
<line x1="162.3" y1="548.5" x2="162.3" y2="543.5" stroke="#111" stroke-width="1"/>
<line x1="134.61" y1="548.5" x2="134.61" y2="545.5" stroke="#111" stroke-width="0.9"/>
<line x1="118.4" y1="548.5" x2="118.4" y2="545.5" stroke="#111" stroke-width="0.9"/>
<line x1="106.91" y1="548.5" x2="106.91" y2="545.5" stroke="#111" stroke-width="0.9"/>
<line x1="97.99" y1="548.5" x2="97.99" y2="545.5" stroke="#111" stroke-width="0.9"/>
<line x1="90.71" y1="548.5" x2="90.71" y2="545.5" stroke="#111" stroke-width="0.9"/>
<line x1="84.55" y1="548.5" x2="84.55" y2="545.5" stroke="#111" stroke-width="0.9"/>
<line x1="79.22" y1="548.5" x2="79.22" y2="545.5" stroke="#111" stroke-width="0.9"/>
<line x1="74.51" y1="548.5" x2="74.51" y2="545.5" stroke="#111" stroke-width="0.9"/>
<line x1="70.3" y1="548.5" x2="70.3" y2="543.5" stroke="#111" stroke-width="1"/>
<line x1="42.61" y1="548.5" x2="42.61" y2="545.5" stroke="#111" stroke-width="0.9"/>
<text x="254.3" y="539.4" font-size="13.2" fill="#111" text-anchor="middle">10</text>
<text x="162" y="539.4" font-size="13.2" fill="#111" text-anchor="middle">100</text>
<text x="72.5" y="539.4" font-size="13.2" fill="#111" text-anchor="middle">1000</text>
<text x="191.6" y="520.9" font-size="13.0" fill="#111" font-style="italic">K</text>
<text x="200.9" y="524.9" font-size="6.6" fill="#111">d</text>
<text x="209.4" y="520.9" font-size="13.0" fill="#111">(nM)</text>
<line x1="327.7" y1="548.5" x2="555.5" y2="548.5" stroke="#111" stroke-width="1.0"/>
<line x1="331.69" y1="548.5" x2="331.69" y2="545.5" stroke="#111" stroke-width="0.9"/>
<line x1="337.36" y1="548.5" x2="337.36" y2="545.5" stroke="#111" stroke-width="0.9"/>
<line x1="342.28" y1="548.5" x2="342.28" y2="545.5" stroke="#111" stroke-width="0.9"/>
<line x1="346.62" y1="548.5" x2="346.62" y2="545.5" stroke="#111" stroke-width="0.9"/>
<line x1="350.5" y1="548.5" x2="350.5" y2="543.5" stroke="#111" stroke-width="1"/>
<line x1="376.03" y1="548.5" x2="376.03" y2="545.5" stroke="#111" stroke-width="0.9"/>
<line x1="390.96" y1="548.5" x2="390.96" y2="545.5" stroke="#111" stroke-width="0.9"/>
<line x1="401.55" y1="548.5" x2="401.55" y2="545.5" stroke="#111" stroke-width="0.9"/>
<line x1="409.77" y1="548.5" x2="409.77" y2="545.5" stroke="#111" stroke-width="0.9"/>
<line x1="416.49" y1="548.5" x2="416.49" y2="545.5" stroke="#111" stroke-width="0.9"/>
<line x1="422.16" y1="548.5" x2="422.16" y2="545.5" stroke="#111" stroke-width="0.9"/>
<line x1="427.08" y1="548.5" x2="427.08" y2="545.5" stroke="#111" stroke-width="0.9"/>
<line x1="431.42" y1="548.5" x2="431.42" y2="545.5" stroke="#111" stroke-width="0.9"/>
<line x1="435.3" y1="548.5" x2="435.3" y2="543.5" stroke="#111" stroke-width="1"/>
<line x1="460.83" y1="548.5" x2="460.83" y2="545.5" stroke="#111" stroke-width="0.9"/>
<line x1="475.76" y1="548.5" x2="475.76" y2="545.5" stroke="#111" stroke-width="0.9"/>
<line x1="486.35" y1="548.5" x2="486.35" y2="545.5" stroke="#111" stroke-width="0.9"/>
<line x1="494.57" y1="548.5" x2="494.57" y2="545.5" stroke="#111" stroke-width="0.9"/>
<line x1="501.29" y1="548.5" x2="501.29" y2="545.5" stroke="#111" stroke-width="0.9"/>
<line x1="506.96" y1="548.5" x2="506.96" y2="545.5" stroke="#111" stroke-width="0.9"/>
<line x1="511.88" y1="548.5" x2="511.88" y2="545.5" stroke="#111" stroke-width="0.9"/>
<line x1="516.22" y1="548.5" x2="516.22" y2="545.5" stroke="#111" stroke-width="0.9"/>
<line x1="520.1" y1="548.5" x2="520.1" y2="543.5" stroke="#111" stroke-width="1"/>
<line x1="545.63" y1="548.5" x2="545.63" y2="545.5" stroke="#111" stroke-width="0.9"/>
<text x="349.8" y="539.4" font-size="13.2" fill="#111" text-anchor="middle">10</text>
<text x="434.6" y="539.4" font-size="13.2" fill="#111" text-anchor="middle">100</text>
<text x="521.3" y="539.4" font-size="13.2" fill="#111" text-anchor="middle">1000</text>
<text x="366.6" y="520.9" font-size="13.0" fill="#111">IC</text>
<text x="380.6" y="525.4" font-size="7.2" fill="#111">50</text>
<text x="393.3" y="520.9" font-size="13.0" fill="#111">(nM)</text>
<line x1="254.3" y1="548.5" x2="254.3" y2="745" stroke="#777" stroke-width="1.1"/>
<line x1="327.7" y1="548.5" x2="327.7" y2="745" stroke="#777" stroke-width="1.1"/>
<line x1="254.3" y1="558.3" x2="259" y2="558.3" stroke="#222" stroke-width="1"/>
<line x1="323.2" y1="558.3" x2="327.7" y2="558.3" stroke="#222" stroke-width="1"/>
<line x1="254.3" y1="577.63" x2="259" y2="577.63" stroke="#222" stroke-width="1"/>
<line x1="323.2" y1="577.63" x2="327.7" y2="577.63" stroke="#222" stroke-width="1"/>
<line x1="254.3" y1="596.96" x2="259" y2="596.96" stroke="#222" stroke-width="1"/>
<line x1="323.2" y1="596.96" x2="327.7" y2="596.96" stroke="#222" stroke-width="1"/>
<line x1="254.3" y1="616.29" x2="259" y2="616.29" stroke="#222" stroke-width="1"/>
<line x1="323.2" y1="616.29" x2="327.7" y2="616.29" stroke="#222" stroke-width="1"/>
<line x1="254.3" y1="635.62" x2="259" y2="635.62" stroke="#222" stroke-width="1"/>
<line x1="323.2" y1="635.62" x2="327.7" y2="635.62" stroke="#222" stroke-width="1"/>
<line x1="254.3" y1="654.95" x2="259" y2="654.95" stroke="#222" stroke-width="1"/>
<line x1="323.2" y1="654.95" x2="327.7" y2="654.95" stroke="#222" stroke-width="1"/>
<line x1="254.3" y1="674.28" x2="259" y2="674.28" stroke="#222" stroke-width="1"/>
<line x1="323.2" y1="674.28" x2="327.7" y2="674.28" stroke="#222" stroke-width="1"/>
<line x1="254.3" y1="693.61" x2="259" y2="693.61" stroke="#222" stroke-width="1"/>
<line x1="323.2" y1="693.61" x2="327.7" y2="693.61" stroke="#222" stroke-width="1"/>
<line x1="254.3" y1="712.94" x2="259" y2="712.94" stroke="#222" stroke-width="1"/>
<line x1="323.2" y1="712.94" x2="327.7" y2="712.94" stroke="#222" stroke-width="1"/>
<line x1="254.3" y1="732.27" x2="259" y2="732.27" stroke="#222" stroke-width="1"/>
<line x1="323.2" y1="732.27" x2="327.7" y2="732.27" stroke="#222" stroke-width="1"/>
<rect x="198.5" y="552.1" width="55.8" height="12.4" fill="#fb6b6b" stroke="#111" stroke-width="0.9"/>
<path d="M200.6,550.5 L203.73,553.8 L200.6,557.1 L197.47,553.8 Z" fill="#000"/>
<path d="M196.9,554.9 L200.03,558.2 L196.9,561.5 L193.77,558.2 Z" fill="#000"/>
<path d="M197.4,559 L200.53,562.3 L197.4,565.6 L194.27,562.3 Z" fill="#000"/>
<text x="187.3" y="561.2" font-size="10.4" fill="#222" text-anchor="end">1.1x</text>
<rect x="203.8" y="571.43" width="50.5" height="12.4" fill="#0a3cff" stroke="#111" stroke-width="0.9"/>
<path d="M210.2,570.43 L213.33,573.73 L210.2,577.03 L207.06,573.73 Z" fill="#000"/>
<path d="M199.8,574.43 L202.94,577.73 L199.8,581.03 L196.67,577.73 Z" fill="#000"/>
<path d="M202.2,578.43 L205.33,581.73 L202.2,585.03 L199.06,581.73 Z" fill="#000"/>
<text x="193.7" y="580.53" font-size="10.4" fill="#222" text-anchor="end">1x</text>
<rect x="192.6" y="590.76" width="61.7" height="12.4" fill="#8a3cff" stroke="#111" stroke-width="0.9"/>
<path d="M195.3,589.46 L198.44,592.76 L195.3,596.06 L192.17,592.76 Z" fill="#000"/>
<path d="M190.1,593.66 L193.23,596.96 L190.1,600.26 L186.97,596.96 Z" fill="#000"/>
<path d="M193,597.96 L196.13,601.26 L193,604.56 L189.87,601.26 Z" fill="#000"/>
<text x="182.9" y="599.86" font-size="10.4" fill="#222" text-anchor="end">1.3x</text>
<rect x="147.7" y="610.09" width="106.6" height="12.4" fill="#00ffff" stroke="#111" stroke-width="0.9"/>
<line x1="136" y1="616.29" x2="147.7" y2="616.29" stroke="#111" stroke-width="1"/>
<line x1="136" y1="613.79" x2="136" y2="618.79" stroke="#111" stroke-width="1"/>
<path d="M153.5,608.59 L156.63,611.89 L153.5,615.19 L150.37,611.89 Z" fill="#000"/>
<path d="M155.6,616.89 L158.73,620.19 L155.6,623.49 L152.47,620.19 Z" fill="#000"/>
<path d="M136,612.99 L139.13,616.29 L136,619.59 L132.87,616.29 Z" fill="#000"/>
<text x="127.3" y="619.19" font-size="10.4" fill="#222" text-anchor="end">4x</text>
<rect x="60.9" y="629.42" width="193.4" height="12.4" fill="#087a08" stroke="#111" stroke-width="0.9"/>
<line x1="32" y1="635.62" x2="60.9" y2="635.62" stroke="#111" stroke-width="1"/>
<path d="M81,632.32 L84.14,635.62 L81,638.92 L77.86,635.62 Z" fill="#000"/>
<path d="M103.5,632.32 L106.64,635.62 L103.5,638.92 L100.36,635.62 Z" fill="#000"/>
<path d="M32,632.32 L35.13,635.62 L32,638.92 L28.87,635.62 Z" fill="#000"/>
<rect x="186.1" y="648.75" width="68.2" height="12.4" fill="#ff44ff" stroke="#111" stroke-width="0.9"/>
<path d="M187.3,648.65 L190.44,651.95 L187.3,655.25 L184.17,651.95 Z" fill="#000"/>
<path d="M186.8,652.15 L189.94,655.45 L186.8,658.75 L183.67,655.45 Z" fill="#000"/>
<path d="M187.5,655.45 L190.63,658.75 L187.5,662.05 L184.37,658.75 Z" fill="#000"/>
<text x="176" y="657.85" font-size="10.4" fill="#222" text-anchor="end">1.5x</text>
<rect x="181.7" y="668.08" width="72.6" height="12.4" fill="#1bff1b" stroke="#111" stroke-width="0.9"/>
<path d="M183.3,667.18 L186.44,670.48 L183.3,673.78 L180.17,670.48 Z" fill="#000"/>
<path d="M181,670.98 L184.13,674.28 L181,677.58 L177.87,674.28 Z" fill="#000"/>
<path d="M180.4,674.58 L183.53,677.88 L180.4,681.18 L177.27,677.88 Z" fill="#000"/>
<text x="170" y="677.18" font-size="10.4" fill="#222" text-anchor="end">1.7x</text>
<rect x="192.6" y="687.41" width="61.7" height="12.4" fill="#7c1300" stroke="#111" stroke-width="0.9"/>
<line x1="187.5" y1="693.61" x2="192.6" y2="693.61" stroke="#111" stroke-width="1"/>
<line x1="187.5" y1="691.11" x2="187.5" y2="696.11" stroke="#111" stroke-width="1"/>
<path d="M198.4,686.51 L201.53,689.81 L198.4,693.11 L195.27,689.81 Z" fill="#000"/>
<path d="M191.5,690.31 L194.63,693.61 L191.5,696.91 L188.37,693.61 Z" fill="#000"/>
<path d="M187.8,694.51 L190.94,697.81 L187.8,701.11 L184.67,697.81 Z" fill="#000"/>
<text x="179" y="696.51" font-size="10.4" fill="#222" text-anchor="end">1.3x</text>
<rect x="221.8" y="706.74" width="32.5" height="12.4" fill="#808000" stroke="#111" stroke-width="0.9"/>
<path d="M221,706.64 L224.13,709.94 L221,713.24 L217.87,709.94 Z" fill="#000"/>
<path d="M221.3,709.94 L224.44,713.24 L221.3,716.54 L218.17,713.24 Z" fill="#000"/>
<path d="M221,713.04 L224.13,716.34 L221,719.64 L217.87,716.34 Z" fill="#000"/>
<text x="216.4" y="715.84" font-size="10.4" fill="#222" text-anchor="end">0.6x</text>
<rect x="162.3" y="726.07" width="92" height="12.4" fill="#ff8010" stroke="#111" stroke-width="0.9"/>
<line x1="155.5" y1="732.27" x2="162.3" y2="732.27" stroke="#111" stroke-width="1"/>
<line x1="155.5" y1="729.77" x2="155.5" y2="734.77" stroke="#111" stroke-width="1"/>
<path d="M174.8,726.17 L177.94,729.47 L174.8,732.77 L171.67,729.47 Z" fill="#000"/>
<path d="M159.8,729.57 L162.94,732.87 L159.8,736.17 L156.67,732.87 Z" fill="#000"/>
<path d="M155.3,732.97 L158.44,736.27 L155.3,739.57 L152.17,736.27 Z" fill="#000"/>
<text x="150.8" y="735.17" font-size="10.4" fill="#222" text-anchor="end">2.8x</text>
<text x="39" y="632.2" font-size="10.3" fill="#222">35x</text>
<rect x="327.7" y="552.1" width="29.8" height="12.4" fill="#fb6b6b" stroke="#111" stroke-width="0.9"/>
<line x1="357.5" y1="558.3" x2="367.6" y2="558.3" stroke="#111" stroke-width="1"/>
<line x1="367.6" y1="555.8" x2="367.6" y2="560.8" stroke="#111" stroke-width="1"/>
<path d="M349.2,551 L352.33,554.3 L349.2,557.6 L346.06,554.3 Z" fill="#000"/>
<path d="M353.8,555 L356.94,558.3 L353.8,561.6 L350.67,558.3 Z" fill="#000"/>
<path d="M367.6,558.9 L370.74,562.2 L367.6,565.5 L364.47,562.2 Z" fill="#000"/>
<text x="373.8" y="562.5" font-size="10.4" fill="#222">0.2x</text>
<rect x="327.7" y="571.43" width="98.2" height="12.4" fill="#0a3cff" stroke="#111" stroke-width="0.9"/>
<path d="M428.9,570.43 L432.03,573.73 L428.9,577.03 L425.76,573.73 Z" fill="#000"/>
<path d="M427.4,574.13 L430.53,577.43 L427.4,580.73 L424.26,577.43 Z" fill="#000"/>
<path d="M419.1,578.03 L422.24,581.33 L419.1,584.63 L415.97,581.33 Z" fill="#000"/>
<text x="438.1" y="581.83" font-size="10.4" fill="#222">1x</text>
<rect x="327.7" y="648.75" width="155" height="12.4" fill="#ff44ff" stroke="#111" stroke-width="0.9"/>
<path d="M483.2,648.85 L486.33,652.15 L483.2,655.45 L480.06,652.15 Z" fill="#000"/>
<path d="M484.4,651.95 L487.53,655.25 L484.4,658.55 L481.26,655.25 Z" fill="#000"/>
<path d="M483.6,654.95 L486.74,658.25 L483.6,661.55 L480.47,658.25 Z" fill="#000"/>
<text x="497.4" y="659.15" font-size="10.4" fill="#222">5x</text>
<rect x="327.7" y="668.08" width="104.3" height="12.4" fill="#1bff1b" stroke="#111" stroke-width="0.9"/>
<path d="M427.4,666.78 L430.53,670.08 L427.4,673.38 L424.26,670.08 Z" fill="#000"/>
<path d="M432.6,671.38 L435.74,674.68 L432.6,677.98 L429.47,674.68 Z" fill="#000"/>
<path d="M433.5,675.08 L436.63,678.38 L433.5,681.68 L430.37,678.38 Z" fill="#000"/>
<text x="445.1" y="678.48" font-size="10.4" fill="#222">1.2x</text>
<rect x="327.7" y="687.41" width="158.8" height="12.4" fill="#7c1300" stroke="#111" stroke-width="0.9"/>
<path d="M486,688.31 L489.13,691.61 L486,694.91 L482.87,691.61 Z" fill="#000"/>
<path d="M487.3,691.31 L490.44,694.61 L487.3,697.91 L484.17,694.61 Z" fill="#000"/>
<path d="M489,694.31 L492.13,697.61 L489,700.91 L485.87,697.61 Z" fill="#000"/>
<text x="501.2" y="697.81" font-size="10.4" fill="#222">5x</text>
<rect x="327.7" y="706.74" width="41.5" height="12.4" fill="#808000" stroke="#111" stroke-width="0.9"/>
<line x1="369.2" y1="712.94" x2="380.8" y2="712.94" stroke="#111" stroke-width="1"/>
<line x1="380.8" y1="710.44" x2="380.8" y2="715.44" stroke="#111" stroke-width="1"/>
<path d="M352.3,709.64 L355.44,712.94 L352.3,716.24 L349.17,712.94 Z" fill="#000"/>
<path d="M369.2,713.94 L372.33,717.24 L369.2,720.54 L366.06,717.24 Z" fill="#000"/>
<path d="M380.8,705.64 L383.94,708.94 L380.8,712.24 L377.67,708.94 Z" fill="#000"/>
<text x="391.5" y="717.14" font-size="10.4" fill="#222">0.2x</text>
<rect x="327.7" y="726.07" width="207.6" height="12.4" fill="#ff8a30" stroke="#111" stroke-width="0.9"/>
<path d="M535,726.17 L538.13,729.47 L535,732.77 L531.87,729.47 Z" fill="#000"/>
<path d="M536,729.27 L539.13,732.57 L536,735.87 L532.87,732.57 Z" fill="#000"/>
<path d="M536.8,732.47 L539.93,735.77 L536.8,739.07 L533.66,735.77 Z" fill="#000"/>
<text x="546.9" y="736.47" font-size="10.4" fill="#222">22x</text>
<text x="339.4" y="610.36" font-size="23" fill="#8a3cff" text-anchor="middle">*</text>
<text x="339.4" y="628.89" font-size="23" fill="#22eeee" text-anchor="middle">*</text>
<text x="339.4" y="650.02" font-size="23" fill="#1a8a1a" text-anchor="middle">*</text>
<text x="261.9" y="563.1" font-size="11.6" fill="#f03a3a">VA-I</text>
<text x="261.9" y="581.5" font-size="11.4" fill="#1f45ff">TAR<tspan font-size="7.0" dy="-2.75">WT(2GC)</tspan></text>
<text x="261.9" y="600.3" font-size="11.4" fill="#8a46ff">TAR<tspan font-size="7.0" dy="-2.75">Δ4bp</tspan></text>
<text x="261.9" y="619.5" font-size="11.4" fill="#2bc4c4">TAR<tspan font-size="7.0" dy="-2.75">Δ9bp</tspan></text>
<text x="261.9" y="638.9" font-size="11.4" fill="#1a8a1a">TAR<tspan font-size="7.0" dy="-2.75">Δ14bp</tspan></text>
<text x="261.9" y="658.2" font-size="11.4" fill="#ff44ff">TAR<tspan font-size="7.0" dy="-2.75">Δ23-39</tspan></text>
<text x="261.9" y="678.2" font-size="11.4" fill="#22cc22">TAR<tspan font-size="7.0" dy="-2.75">ΔC5ΔA17</tspan></text>
<text x="261.9" y="697.5" font-size="11.4" fill="#7c1a10">TAR<tspan font-size="7.0" dy="-2.75">Δ23UCU25</tspan></text>
<text x="261.9" y="717.4" font-size="11.4" fill="#8a8a12">TAR</text>
<text x="284.16" y="710.4" font-size="7.0" fill="#8a8a12">ΔC5ΔA17/</text>
<text x="284.16" y="716.5" font-size="7.0" fill="#8a8a12">Δ23UCU25</text>
<text x="261.9" y="735.8" font-size="11.4" fill="#ff8a30">TAR</text>
<text x="284.16" y="728.4" font-size="7.0" fill="#ff8a30">A48U/C49G</text>
<text x="284.16" y="735" font-size="7.0" fill="#ff8a30">/U50A</text>
<text x="598.2" y="582.2" font-size="11.5" fill="#1f45ff">TAR<tspan font-size="7.1" dy="-3.32">WT(2GC)</tspan></text>
<path d="M611.88,613.79 A13.78,11.7 0 1 1 625.92,613.79" fill="none" stroke="#1f45ff" stroke-width="1.4822280526288796"/>
<line x1="611.88" y1="613.79" x2="611.88" y2="625.88" stroke="#1f45ff" stroke-width="1.4822280526288796"/>
<path d="M611.88,625.88 A7.02,6.76 0 1 0 611.88,634.07" fill="none" stroke="#1f45ff" stroke-width="1.4822280526288796"/>
<line x1="611.88" y1="634.07" x2="611.88" y2="661.24" stroke="#1f45ff" stroke-width="1.4822280526288796"/>
<line x1="625.92" y1="613.79" x2="625.92" y2="661.24" stroke="#1f45ff" stroke-width="1.4822280526288796"/>
<line x1="602.26" y1="618.34" x2="603.56" y2="622.76" stroke="#1f45ff" stroke-width="1.3340052473659916"/>
<line x1="592.25" y1="627.96" x2="598.36" y2="629.65" stroke="#1f45ff" stroke-width="1.3340052473659916"/>
<line x1="600.96" y1="640.96" x2="604.21" y2="636.8" stroke="#1f45ff" stroke-width="1.3340052473659916"/>
<path d="M611.88,646.29 L609.67,650.71 L614.09,650.71 Z" fill="#1f45ff"/>
<path d="M625.92,650.71 L623.71,646.29 L628.13,646.29 Z" fill="#1f45ff"/>
<text x="611.88" y="668.65" font-size="8.6" fill="#1f45ff" text-anchor="middle">U</text>
<text x="625.92" y="668.65" font-size="8.6" fill="#1f45ff" text-anchor="middle">A</text>
<line x1="616.17" y1="665.55" x2="621.63" y2="665.55" stroke="#333" stroke-width="1.0261578825892244"/>
<text x="611.88" y="677.88" font-size="8.6" fill="#1f45ff" text-anchor="middle">G</text>
<text x="625.92" y="677.88" font-size="8.6" fill="#1f45ff" text-anchor="middle">C</text>
<line x1="616.17" y1="674.78" x2="621.63" y2="674.78" stroke="#333" stroke-width="1.0261578825892244"/>
<text x="611.88" y="686.98" font-size="8.6" fill="#1f45ff" text-anchor="middle">G</text>
<text x="625.92" y="686.98" font-size="8.6" fill="#1f45ff" text-anchor="middle">C</text>
<line x1="616.17" y1="683.88" x2="621.63" y2="683.88" stroke="#333" stroke-width="1.0261578825892244"/>
<text x="602.13" y="695.69" font-size="8.6" fill="#1f45ff">5′</text>
<text x="629.56" y="695.69" font-size="8.6" fill="#1f45ff">3′</text>
</svg></body></html>
